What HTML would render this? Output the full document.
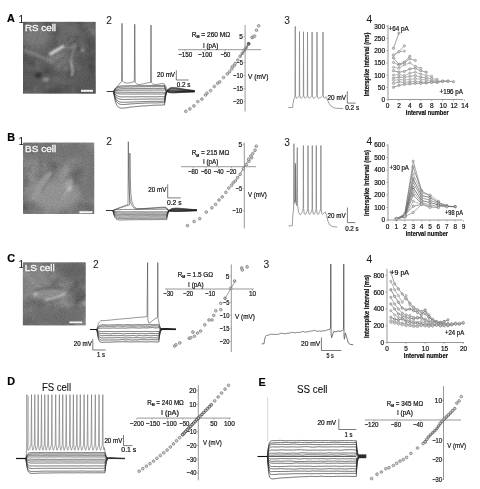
<!DOCTYPE html>
<html><head><meta charset="utf-8"><title>Figure</title>
<style>html,body{margin:0;padding:0;background:#fff;}svg{display:block;filter:blur(0.3px);}</style></head>
<body>
<svg width="480" height="489" viewBox="0 0 480 489" font-family="'Liberation Sans', Arial, sans-serif">
<defs>
<filter id="blur3" color-interpolation-filters="sRGB" x="-50%" y="-50%" width="200%" height="200%"><feGaussianBlur stdDeviation="3.5"/></filter>
<filter id="blur1" color-interpolation-filters="sRGB" x="-20%" y="-20%" width="140%" height="140%"><feGaussianBlur stdDeviation="0.95"/></filter>
<filter id="grain3" color-interpolation-filters="sRGB" x="0" y="0" width="100%" height="100%"><feTurbulence type="fractalNoise" baseFrequency="0.9" numOctaves="2" seed="3"/><feColorMatrix type="matrix" values="0.33 0.33 0.33 0 0 0.33 0.33 0.33 0 0 0.33 0.33 0.33 0 0 0 0 0 0 1"/></filter>
<filter id="mottle3" color-interpolation-filters="sRGB" x="0" y="0" width="100%" height="100%"><feTurbulence type="fractalNoise" baseFrequency="0.07" numOctaves="3" seed="13"/><feColorMatrix type="matrix" values="0.33 0.33 0.33 0 0 0.33 0.33 0.33 0 0 0.33 0.33 0.33 0 0 0 0 0 0 1"/></filter>
<filter id="grain4" color-interpolation-filters="sRGB" x="0" y="0" width="100%" height="100%"><feTurbulence type="fractalNoise" baseFrequency="0.9" numOctaves="2" seed="4"/><feColorMatrix type="matrix" values="0.33 0.33 0.33 0 0 0.33 0.33 0.33 0 0 0.33 0.33 0.33 0 0 0 0 0 0 1"/></filter>
<filter id="mottle4" color-interpolation-filters="sRGB" x="0" y="0" width="100%" height="100%"><feTurbulence type="fractalNoise" baseFrequency="0.07" numOctaves="3" seed="14"/><feColorMatrix type="matrix" values="0.33 0.33 0.33 0 0 0.33 0.33 0.33 0 0 0.33 0.33 0.33 0 0 0 0 0 0 1"/></filter>
<filter id="grain5" color-interpolation-filters="sRGB" x="0" y="0" width="100%" height="100%"><feTurbulence type="fractalNoise" baseFrequency="0.9" numOctaves="2" seed="5"/><feColorMatrix type="matrix" values="0.33 0.33 0.33 0 0 0.33 0.33 0.33 0 0 0.33 0.33 0.33 0 0 0 0 0 0 1"/></filter>
<filter id="mottle5" color-interpolation-filters="sRGB" x="0" y="0" width="100%" height="100%"><feTurbulence type="fractalNoise" baseFrequency="0.07" numOctaves="3" seed="15"/><feColorMatrix type="matrix" values="0.33 0.33 0.33 0 0 0.33 0.33 0.33 0 0 0.33 0.33 0.33 0 0 0 0 0 0 1"/></filter>
</defs>
<rect x="0" y="0" width="480" height="489" fill="#fff"/>
<text x="7" y="22.2" font-size="10.8" fill="#000" stroke="#000" stroke-width="0.2" font-weight="bold">A</text>
<text x="7.3" y="140.6" font-size="10.8" fill="#000" stroke="#000" stroke-width="0.2" font-weight="bold">B</text>
<text x="7.3" y="261.9" font-size="10.8" fill="#000" stroke="#000" stroke-width="0.2" font-weight="bold">C</text>
<text x="7.2" y="385.3" font-size="10.8" fill="#000" stroke="#000" stroke-width="0.2" font-weight="bold">D</text>
<text x="258.6" y="385.5" font-size="10.8" fill="#000" stroke="#000" stroke-width="0.2" font-weight="bold">E</text>
<text x="18.6" y="23.2" font-size="10.2" fill="#1a1a1a" stroke="#1a1a1a" stroke-width="0.05">1</text>
<text x="106.3" y="24.2" font-size="10.2" fill="#1a1a1a" stroke="#1a1a1a" stroke-width="0.05">2</text>
<text x="284.2" y="23.6" font-size="10.2" fill="#1a1a1a" stroke="#1a1a1a" stroke-width="0.05">3</text>
<text x="366.4" y="23.3" font-size="10.2" fill="#1a1a1a" stroke="#1a1a1a" stroke-width="0.05">4</text>
<text x="18.6" y="144.8" font-size="10.2" fill="#1a1a1a" stroke="#1a1a1a" stroke-width="0.05">1</text>
<text x="106.3" y="145.3" font-size="10.2" fill="#1a1a1a" stroke="#1a1a1a" stroke-width="0.05">2</text>
<text x="284.2" y="145.6" font-size="10.2" fill="#1a1a1a" stroke="#1a1a1a" stroke-width="0.05">3</text>
<text x="366.4" y="145.1" font-size="10.2" fill="#1a1a1a" stroke="#1a1a1a" stroke-width="0.05">4</text>
<text x="18.4" y="268.2" font-size="10.2" fill="#1a1a1a" stroke="#1a1a1a" stroke-width="0.05">1</text>
<text x="92.9" y="268.4" font-size="10.2" fill="#1a1a1a" stroke="#1a1a1a" stroke-width="0.05">2</text>
<text x="263.5" y="268.4" font-size="10.2" fill="#1a1a1a" stroke="#1a1a1a" stroke-width="0.05">3</text>
<text x="366.4" y="263" font-size="10.2" fill="#1a1a1a" stroke="#1a1a1a" stroke-width="0.05">4</text>
<clipPath id="ca"><rect x="23" y="21.7" width="72.8" height="72.1"/></clipPath>
<g clip-path="url(#ca)" style="isolation:isolate">
<rect x="23" y="21.7" width="72.8" height="72.1" fill="#5a5a5a"/>
<rect x="23" y="21.7" width="72.8" height="72.1" filter="url(#mottle3)" opacity="0.5" style="mix-blend-mode:overlay"/>
<g filter="url(#blur3)">
<ellipse cx="36" cy="36" rx="16" ry="13" fill="#787878"/>
<ellipse cx="58" cy="58" rx="12" ry="11" fill="#767676"/>
<ellipse cx="70" cy="30" rx="12" ry="7" fill="#6e6e6e"/>
<ellipse cx="90" cy="86" rx="12" ry="10" fill="#585858"/>
<ellipse cx="40" cy="80" rx="12" ry="8" fill="#5c5c5c"/>
</g>
<g filter="url(#blur1)">
<path d="M24,50 Q40,56 53,62" stroke="#7c7c7c" stroke-width="3.5" fill="none"/>
<path d="M50,58 Q57,67 67,69" stroke="#7a7a7a" stroke-width="3" fill="none"/>
<line x1="50.4" y1="53.9" x2="63.3" y2="46.3" stroke="#e0e0e0" stroke-width="2.6" stroke-linecap="round"/>
<path d="M76,44 C73.5,49 71.5,55 71.3,61" stroke="#9c9c9c" stroke-width="1.4" fill="none"/>
<path d="M71.3,61 C71.2,66 73.2,69 72.6,73 L71.4,76" stroke="#c4c4c4" stroke-width="1.5" fill="none"/>
<path d="M50.4,68.3 L65,55.8" stroke="#5a5a5a" stroke-width="1.2" fill="none"/>
<path d="M47.8,60.5 L64,55.3" stroke="#8c8c8c" stroke-width="1.2" fill="none"/>
<ellipse cx="62.4" cy="67.3" rx="1.3" ry="1.1" fill="#4a4a4a"/>
<path d="M64,47 Q70,50 75,44" stroke="#8c8c8c" stroke-width="1.3" fill="none"/>
<path d="M66,45 Q70,40 74,38" stroke="#858585" stroke-width="1.2" fill="none"/>
<ellipse cx="38.2" cy="75.2" rx="3.6" ry="3" fill="#363636"/>
<path d="M41,74 Q46,70 50,72" stroke="#444" stroke-width="1.4" fill="none"/>
<ellipse cx="78.5" cy="49.4" rx="2.0" ry="1.4" fill="#444"/>
<ellipse cx="82.3" cy="50.1" rx="1.6" ry="1.2" fill="#b4b4b4"/>
<ellipse cx="46" cy="79.5" rx="3.5" ry="2" fill="#8e8e8e"/>
</g>
<rect x="23" y="21.7" width="72.8" height="72.1" filter="url(#grain3)" opacity="0.3" style="mix-blend-mode:overlay"/>
</g>
<text x="25" y="30.7" font-size="9.8" fill="#f6f6f6" stroke="#f6f6f6" stroke-width="0.35" textLength="31" lengthAdjust="spacingAndGlyphs">RS cell</text>
<rect x="81" y="89.8" width="12" height="2" fill="#f4f4f4"/>
<clipPath id="cb"><rect x="23" y="142.5" width="71.3" height="71.5"/></clipPath>
<g clip-path="url(#cb)" style="isolation:isolate">
<rect x="23" y="142.5" width="71.3" height="71.5" fill="#7c7c7c"/>
<rect x="23" y="142.5" width="71.3" height="71.5" filter="url(#mottle4)" opacity="0.5" style="mix-blend-mode:overlay"/>
<g filter="url(#blur3)">
<ellipse cx="55" cy="195" rx="26" ry="16" fill="#929292"/>
<ellipse cx="55" cy="150" rx="40" ry="8" fill="#747474"/>
<ellipse cx="92" cy="175" rx="8" ry="25" fill="#767676"/>
</g>
<g filter="url(#blur1)">
<ellipse cx="42" cy="186" rx="4.5" ry="17" fill="#989898" transform="rotate(33 42 186)"/>
<line x1="41" y1="193" x2="55" y2="171" stroke="#747474" stroke-width="1.4"/>
<ellipse cx="66" cy="189" rx="4" ry="12" fill="#9e9e9e" transform="rotate(30 66 189)"/>
<ellipse cx="69.5" cy="188.5" rx="2" ry="3.5" fill="#bababa" transform="rotate(30 69.5 188.5)"/>
<line x1="59" y1="199" x2="65" y2="188" stroke="#787878" stroke-width="1.2"/>
</g>
<rect x="23" y="142.5" width="71.3" height="71.5" filter="url(#grain4)" opacity="0.3" style="mix-blend-mode:overlay"/>
</g>
<text x="25" y="151.5" font-size="9.8" fill="#f6f6f6" stroke="#f6f6f6" stroke-width="0.35" textLength="31.2" lengthAdjust="spacingAndGlyphs">BS cell</text>
<rect x="79.4" y="211.2" width="13.1" height="2" fill="#f4f4f4"/>
<clipPath id="cc"><rect x="22.8" y="262.3" width="63" height="63.2"/></clipPath>
<g clip-path="url(#cc)" style="isolation:isolate">
<rect x="22.8" y="262.3" width="63" height="63.2" fill="#767676"/>
<rect x="22.8" y="262.3" width="63" height="63.2" filter="url(#mottle5)" opacity="0.5" style="mix-blend-mode:overlay"/>
<g filter="url(#blur3)">
<ellipse cx="36" cy="280" rx="14" ry="16" fill="#868686"/>
<ellipse cx="74" cy="271" rx="15" ry="10" fill="#646464"/>
<ellipse cx="55" cy="318" rx="28" ry="8" fill="#6c6c6c"/>
</g>
<g filter="url(#blur1)">
<path d="M24,272 L44,292" stroke="#8e8e8e" stroke-width="4" fill="none"/>
<path d="M28,266 L50,285" stroke="#868686" stroke-width="3" fill="none"/>
<ellipse cx="50" cy="294" rx="16" ry="4.8" fill="#8e8e8e" transform="rotate(-4 50 294)"/>
<path d="M35,290 Q50,286.5 63,288.5" stroke="#5e5e5e" stroke-width="1.4" fill="none"/>
<path d="M45,300 Q57,299 65.5,293" stroke="#d6d6d6" stroke-width="1.5" fill="none"/>
<ellipse cx="35.5" cy="294" rx="2.6" ry="1.8" fill="#bdbdbd"/>
<path d="M75,302.5 L86,295" stroke="#505050" stroke-width="2.6" fill="none"/>
<ellipse cx="84.7" cy="303.3" rx="1.5" ry="2" fill="#b0b0b0"/>
</g>
<rect x="22.8" y="262.3" width="63" height="63.2" filter="url(#grain5)" opacity="0.3" style="mix-blend-mode:overlay"/>
</g>
<text x="24.8" y="271.3" font-size="9.8" fill="#f6f6f6" stroke="#f6f6f6" stroke-width="0.35" textLength="30" lengthAdjust="spacingAndGlyphs">LS cell</text>
<rect x="69.4" y="321.5" width="12.9" height="1.7" fill="#f4f4f4"/>
<polyline points="107,91.5 113.6,91.5 113.9,91.59 114.2,91.66 114.5,91.73 114.8,91.77 115.1,91.82 115.4,91.89 115.7,91.91 116,91.95 116.3,91.99 116.6,92.06 116.9,92.11 117.2,92.13 117.5,92.16 117.8,92.18 118.3,92.23 118.8,92.24 119.3,92.21 119.8,92.21 120.3,92.21 120.8,92.21 121.3,92.23 121.8,92.22 122.3,92.24 122.8,92.26 123.3,92.28 123.8,92.27 124.3,92.24 124.8,92.24 125.3,92.25 125.8,92.24 126.3,92.23 126.8,92.24 127.3,92.26 127.8,92.27 128.3,92.3 128.8,92.3 129.3,92.29 129.8,92.31 130.3,92.3 130.8,92.33 131.3,92.35 131.8,92.32 132.3,92.34 132.8,92.33 133.3,92.32 133.8,92.33 134.3,92.3 134.8,92.28 135.3,92.27 135.8,92.26 136.3,92.29 136.8,92.3 137.3,92.3 137.8,92.31 138.3,92.32 138.8,92.35 139.3,92.35 139.8,92.33 140.3,92.34 140.8,92.35 141.3,92.36 141.8,92.35 142.3,92.33 142.8,92.33 143.3,92.34 143.8,92.35 144.3,92.34 144.8,92.33 145.3,92.32 145.8,92.35 146.3,92.32 146.8,92.31 147.3,92.26 147.8,92.23 148.3,92.22 148.8,92.24 149.3,92.21 149.8,92.22 150.3,92.22 150.8,92.25 151.3,92.25 151.8,92.27 152.3,92.26 152.8,92.3 153.3,92.33 153.8,92.35 154.3,92.32 154.8,92.34 155.3,92.33 155.8,92.35 156.3,92.36 156.8,92.32 157.3,92.29 157.8,92.28 158.3,92.27 158.8,92.28 159.3,92.27 159.8,92.23 160.3,92.22 160.8,92.23 161.3,92.24 161.8,92.26 162.3,92.28 162.8,92.29 163.3,92.3 163.8,92.33 164.3,92.35 164.6,92.33 164.9,92.12 165.2,91.97 165.5,91.85 165.8,91.75 166.1,91.67 166.4,91.6 166.7,91.54 167,91.49 167.3,91.45 167.6,91.41 167.9,91.39 168.2,91.36 168.5,91.34 168.8,91.32 169.3,91.3 169.8,91.28 170.3,91.27 170.8,91.26 171.3,91.25 171.8,91.25 172.3,91.25 172.8,91.25 173.3,91.25 173.8,91.25 174.3,91.25 174.8,91.25 175.3,91.26 175.8,91.26 176.3,91.26 176.8,91.27 177.3,91.27 177.8,91.28 178.3,91.29 178.8,91.29 179.3,91.3 179.8,91.3 180.3,91.31 180.8,91.31 181.3,91.32 181.8,91.33 182.3,91.33 182.8,91.34 183.3,91.34 183.8,91.35 184.3,91.35 184.8,91.36 185.3,91.36 185.8,91.37 186.3,91.37 186.8,91.38 187.3,91.38 187.8,91.39 188.3,91.39 188.8,91.4 189.3,91.4 189.8,91.41 190.3,91.41 190.8,91.41 191.3,91.42 191.8,91.42 192.3,91.42 192.8,91.43 193.3,91.43 193.8,91.43 194.3,91.44 194.5,91.44" stroke="#262626" stroke-width="0.68" fill="none"/>
<polyline points="107,91.5 113.6,91.5 113.9,91.81 114.2,92.08 114.5,92.31 114.8,92.51 115.1,92.68 115.4,92.84 115.7,92.99 116,93.13 116.3,93.26 116.6,93.39 116.9,93.47 117.2,93.54 117.5,93.61 117.8,93.67 118.3,93.76 118.8,93.82 119.3,93.84 119.8,93.92 120.3,93.94 120.8,93.96 121.3,93.99 121.8,93.99 122.3,94 122.8,94.05 123.3,94.05 123.8,94.05 124.3,94.02 124.8,93.98 125.3,94.01 125.8,94.03 126.3,93.99 126.8,94 127.3,94.04 127.8,94.07 128.3,94.08 128.8,94.06 129.3,94.03 129.8,94.02 130.3,94.03 130.8,94.01 131.3,94 131.8,94.03 132.3,94.02 132.8,94.06 133.3,94.1 133.8,94.06 134.3,94.04 134.8,94.03 135.3,93.99 135.8,94 136.3,93.96 136.8,93.94 137.3,93.94 137.8,93.97 138.3,93.97 138.8,93.98 139.3,93.98 139.8,94.01 140.3,94.01 140.8,94.05 141.3,94.03 141.8,94.04 142.3,94.04 142.8,94.01 143.3,93.99 143.8,93.97 144.3,93.93 144.8,93.94 145.3,93.92 145.8,93.92 146.3,93.95 146.8,93.96 147.3,93.97 147.8,93.99 148.3,93.98 148.8,94.01 149.3,93.99 149.8,93.98 150.3,93.97 150.8,93.96 151.3,93.98 151.8,93.97 152.3,93.96 152.8,93.99 153.3,94.01 153.8,94.02 154.3,94.04 154.8,94.02 155.3,94.02 155.8,94.03 156.3,94.01 156.8,93.99 157.3,94 157.8,94.01 158.3,94.02 158.8,94.04 159.3,94.05 159.8,94.04 160.3,94.04 160.8,94.07 161.3,94.06 161.8,94.03 162.3,93.99 162.8,93.97 163.3,93.96 163.8,93.94 164.3,93.9 164.6,93.89 164.9,93.42 165.2,92.96 165.5,92.59 165.8,92.27 166.1,92.01 166.4,91.8 166.7,91.62 167,91.47 167.3,91.34 167.6,91.24 167.9,91.15 168.2,91.07 168.5,91.01 168.8,90.96 169.3,90.89 169.8,90.83 170.3,90.79 170.8,90.76 171.3,90.74 171.8,90.73 172.3,90.72 172.8,90.72 173.3,90.72 173.8,90.72 174.3,90.73 174.8,90.74 175.3,90.75 175.8,90.76 176.3,90.77 176.8,90.79 177.3,90.8 177.8,90.82 178.3,90.84 178.8,90.85 179.3,90.87 179.8,90.89 180.3,90.91 180.8,90.93 181.3,90.94 181.8,90.96 182.3,90.98 182.8,91 183.3,91.02 183.8,91.03 184.3,91.05 184.8,91.07 185.3,91.08 185.8,91.1 186.3,91.11 186.8,91.13 187.3,91.14 187.8,91.16 188.3,91.17 188.8,91.18 189.3,91.2 189.8,91.21 190.3,91.22 190.8,91.23 191.3,91.25 191.8,91.26 192.3,91.27 192.8,91.28 193.3,91.29 193.8,91.3 194.3,91.31 194.5,91.31" stroke="#262626" stroke-width="0.68" fill="none"/>
<polyline points="107,91.5 113.6,91.5 113.9,92.16 114.2,92.74 114.5,93.26 114.8,93.7 115.1,94.09 115.4,94.41 115.7,94.73 116,94.99 116.3,95.22 116.6,95.43 116.9,95.66 117.2,95.82 117.5,96 117.8,96.11 118.3,96.28 118.8,96.45 119.3,96.56 119.8,96.62 120.3,96.72 120.8,96.79 121.3,96.83 121.8,96.88 122.3,96.9 122.8,96.93 123.3,96.94 123.8,96.93 124.3,96.89 124.8,96.88 125.3,96.85 125.8,96.85 126.3,96.83 126.8,96.81 127.3,96.8 127.8,96.84 128.3,96.87 128.8,96.9 129.3,96.87 129.8,96.86 130.3,96.87 130.8,96.88 131.3,96.84 131.8,96.82 132.3,96.79 132.8,96.82 133.3,96.85 133.8,96.86 134.3,96.85 134.8,96.88 135.3,96.87 135.8,96.87 136.3,96.82 136.8,96.79 137.3,96.78 137.8,96.79 138.3,96.74 138.8,96.75 139.3,96.73 139.8,96.74 140.3,96.72 140.8,96.71 141.3,96.69 141.8,96.67 142.3,96.66 142.8,96.67 143.3,96.68 143.8,96.7 144.3,96.72 144.8,96.75 145.3,96.78 145.8,96.81 146.3,96.81 146.8,96.8 147.3,96.82 147.8,96.78 148.3,96.78 148.8,96.78 149.3,96.73 149.8,96.75 150.3,96.78 150.8,96.76 151.3,96.79 151.8,96.79 152.3,96.76 152.8,96.79 153.3,96.77 153.8,96.76 154.3,96.77 154.8,96.77 155.3,96.76 155.8,96.8 156.3,96.8 156.8,96.81 157.3,96.78 157.8,96.74 158.3,96.7 158.8,96.69 159.3,96.65 159.8,96.65 160.3,96.65 160.8,96.66 161.3,96.69 161.8,96.72 162.3,96.73 162.8,96.72 163.3,96.72 163.8,96.73 164.3,96.72 164.6,96.71 164.9,95.53 165.2,94.58 165.5,93.78 165.8,93.13 166.1,92.58 166.4,92.13 166.7,91.75 167,91.44 167.3,91.18 167.6,90.95 167.9,90.77 168.2,90.61 168.5,90.48 168.8,90.37 169.3,90.22 169.8,90.1 170.3,90.02 170.8,89.96 171.3,89.92 171.8,89.89 172.3,89.87 172.8,89.86 173.3,89.87 173.8,89.87 174.3,89.89 174.8,89.9 175.3,89.93 175.8,89.95 176.3,89.98 176.8,90.01 177.3,90.04 177.8,90.08 178.3,90.11 178.8,90.15 179.3,90.19 179.8,90.22 180.3,90.26 180.8,90.3 181.3,90.34 181.8,90.38 182.3,90.41 182.8,90.45 183.3,90.49 183.8,90.52 184.3,90.56 184.8,90.59 185.3,90.63 185.8,90.66 186.3,90.69 186.8,90.72 187.3,90.75 187.8,90.78 188.3,90.81 188.8,90.84 189.3,90.87 189.8,90.89 190.3,90.92 190.8,90.94 191.3,90.97 191.8,90.99 192.3,91.01 192.8,91.03 193.3,91.05 193.8,91.07 194.3,91.09 194.5,91.1" stroke="#262626" stroke-width="0.68" fill="none"/>
<polyline points="107,91.5 113.6,91.5 113.9,92.5 114.2,93.39 114.5,94.16 114.8,94.83 115.1,95.44 115.4,95.96 115.7,96.41 116,96.8 116.3,97.15 116.6,97.44 116.9,97.69 117.2,97.92 117.5,98.11 117.8,98.32 118.3,98.57 118.8,98.77 119.3,98.95 119.8,99.08 120.3,99.15 120.8,99.26 121.3,99.32 121.8,99.39 122.3,99.44 122.8,99.49 123.3,99.54 123.8,99.56 124.3,99.55 124.8,99.51 125.3,99.51 125.8,99.49 126.3,99.48 126.8,99.46 127.3,99.44 127.8,99.39 128.3,99.43 128.8,99.39 129.3,99.38 129.8,99.35 130.3,99.32 130.8,99.33 131.3,99.37 131.8,99.33 132.3,99.34 132.8,99.32 133.3,99.32 133.8,99.32 134.3,99.28 134.8,99.23 135.3,99.22 135.8,99.22 136.3,99.22 136.8,99.2 137.3,99.21 137.8,99.25 138.3,99.26 138.8,99.24 139.3,99.2 139.8,99.17 140.3,99.17 140.8,99.12 141.3,99.07 141.8,99.06 142.3,99.07 142.8,99.1 143.3,99.13 143.8,99.13 144.3,99.14 144.8,99.15 145.3,99.15 145.8,99.13 146.3,99.08 146.8,99.05 147.3,99.08 147.8,99.06 148.3,99.05 148.8,99.06 149.3,99.08 149.8,99.08 150.3,99.08 150.8,99.04 151.3,99.05 151.8,99.04 152.3,99.05 152.8,99.05 153.3,99.08 153.8,99.06 154.3,99.05 154.8,99.06 155.3,99.08 155.8,99.05 156.3,99.03 156.8,98.99 157.3,99 157.8,99.04 158.3,99.05 158.8,99.04 159.3,99.06 159.8,99.04 160.3,99.05 160.8,99.03 161.3,99.01 161.8,99 162.3,99 162.8,98.99 163.3,99 163.8,99.04 164.3,99.05 164.6,99.05 164.9,97.31 165.2,95.93 165.5,94.79 165.8,93.85 166.1,93.06 166.4,92.41 166.7,91.87 167,91.42 167.3,91.04 167.6,90.72 167.9,90.45 168.2,90.23 168.5,90.04 168.8,89.87 169.3,89.66 169.8,89.5 170.3,89.38 170.8,89.29 171.3,89.23 171.8,89.19 172.3,89.17 172.8,89.15 173.3,89.16 173.8,89.17 174.3,89.19 174.8,89.21 175.3,89.24 175.8,89.28 176.3,89.32 176.8,89.37 177.3,89.41 177.8,89.46 178.3,89.51 178.8,89.56 179.3,89.62 179.8,89.67 180.3,89.73 180.8,89.78 181.3,89.83 181.8,89.89 182.3,89.94 182.8,90 183.3,90.05 183.8,90.1 184.3,90.15 184.8,90.2 185.3,90.25 185.8,90.3 186.3,90.34 186.8,90.39 187.3,90.43 187.8,90.47 188.3,90.51 188.8,90.55 189.3,90.59 189.8,90.63 190.3,90.67 190.8,90.7 191.3,90.74 191.8,90.77 192.3,90.8 192.8,90.83 193.3,90.86 193.8,90.89 194.3,90.92 194.5,90.93" stroke="#262626" stroke-width="0.68" fill="none"/>
<polyline points="107,91.5 113.6,91.5 113.9,92.91 114.2,94.14 114.5,95.22 114.8,96.16 115.1,96.98 115.4,97.68 115.7,98.32 116,98.87 116.3,99.32 116.6,99.7 116.9,100.08 117.2,100.38 117.5,100.69 117.8,100.92 118.3,101.29 118.8,101.55 119.3,101.78 119.8,101.96 120.3,102.11 120.8,102.17 121.3,102.23 121.8,102.25 122.3,102.29 122.8,102.34 123.3,102.31 123.8,102.29 124.3,102.31 124.8,102.3 125.3,102.28 125.8,102.29 126.3,102.26 126.8,102.23 127.3,102.19 127.8,102.13 128.3,102.15 128.8,102.12 129.3,102.09 129.8,102.07 130.3,102.06 130.8,102.05 131.3,102.07 131.8,102.04 132.3,102.01 132.8,101.99 133.3,101.94 133.8,101.91 134.3,101.88 134.8,101.85 135.3,101.84 135.8,101.84 136.3,101.83 136.8,101.8 137.3,101.78 137.8,101.79 138.3,101.78 138.8,101.76 139.3,101.73 139.8,101.68 140.3,101.69 140.8,101.68 141.3,101.69 141.8,101.64 142.3,101.62 142.8,101.62 143.3,101.64 143.8,101.64 144.3,101.63 144.8,101.59 145.3,101.58 145.8,101.55 146.3,101.54 146.8,101.49 147.3,101.45 147.8,101.45 148.3,101.43 148.8,101.41 149.3,101.38 149.8,101.36 150.3,101.36 150.8,101.39 151.3,101.39 151.8,101.42 152.3,101.42 152.8,101.42 153.3,101.38 153.8,101.38 154.3,101.36 154.8,101.33 155.3,101.29 155.8,101.29 156.3,101.31 156.8,101.33 157.3,101.34 157.8,101.34 158.3,101.34 158.8,101.33 159.3,101.34 159.8,101.32 160.3,101.31 160.8,101.29 161.3,101.27 161.8,101.24 162.3,101.25 162.8,101.21 163.3,101.2 163.8,101.21 164.3,101.22 164.6,101.19 164.9,99.06 165.2,97.26 165.5,95.78 165.8,94.56 166.1,93.54 166.4,92.7 166.7,92 167,91.41 167.3,90.91 167.6,90.5 167.9,90.15 168.2,89.86 168.5,89.61 168.8,89.4 169.3,89.13 169.8,88.92 170.3,88.76 170.8,88.65 171.3,88.57 171.8,88.52 172.3,88.49 172.8,88.47 173.3,88.47 173.8,88.49 174.3,88.51 174.8,88.55 175.3,88.59 175.8,88.64 176.3,88.69 176.8,88.74 177.3,88.81 177.8,88.87 178.3,88.93 178.8,89 179.3,89.07 179.8,89.14 180.3,89.21 180.8,89.28 181.3,89.35 181.8,89.42 182.3,89.49 182.8,89.56 183.3,89.62 183.8,89.69 184.3,89.76 184.8,89.82 185.3,89.88 185.8,89.94 186.3,90 186.8,90.06 187.3,90.12 187.8,90.17 188.3,90.23 188.8,90.28 189.3,90.33 189.8,90.38 190.3,90.43 190.8,90.47 191.3,90.52 191.8,90.56 192.3,90.6 192.8,90.64 193.3,90.68 193.8,90.71 194.3,90.75 194.5,90.76" stroke="#262626" stroke-width="0.68" fill="none"/>
<polyline points="107,91.5 113.6,91.5 113.9,93.21 114.2,94.72 114.5,96.03 114.8,97.19 115.1,98.17 115.4,99.05 115.7,99.82 116,100.51 116.3,101.07 116.6,101.56 116.9,101.98 117.2,102.4 117.5,102.7 117.8,103 118.3,103.4 118.8,103.75 119.3,103.97 119.8,104.13 120.3,104.26 120.8,104.4 121.3,104.46 121.8,104.46 122.3,104.48 122.8,104.5 123.3,104.53 123.8,104.5 124.3,104.47 124.8,104.43 125.3,104.44 125.8,104.37 126.3,104.34 126.8,104.3 127.3,104.27 127.8,104.2 128.3,104.16 128.8,104.1 129.3,104.07 129.8,104.03 130.3,103.96 130.8,103.89 131.3,103.88 131.8,103.88 132.3,103.82 132.8,103.79 133.3,103.77 133.8,103.73 134.3,103.73 134.8,103.67 135.3,103.62 135.8,103.61 136.3,103.59 136.8,103.53 137.3,103.52 137.8,103.48 138.3,103.47 138.8,103.45 139.3,103.41 139.8,103.38 140.3,103.34 140.8,103.32 141.3,103.29 141.8,103.26 142.3,103.24 142.8,103.24 143.3,103.22 143.8,103.2 144.3,103.18 144.8,103.14 145.3,103.11 145.8,103.08 146.3,103.02 146.8,103 147.3,103 147.8,102.96 148.3,102.97 148.8,102.95 149.3,102.95 149.8,102.97 150.3,102.96 150.8,102.92 151.3,102.93 151.8,102.9 152.3,102.93 152.8,102.89 153.3,102.88 153.8,102.89 154.3,102.91 154.8,102.92 155.3,102.9 155.8,102.89 156.3,102.89 156.8,102.89 157.3,102.87 157.8,102.83 158.3,102.82 158.8,102.85 159.3,102.79 159.8,102.78 160.3,102.76 160.8,102.71 161.3,102.74 161.8,102.7 162.3,102.69 162.8,102.68 163.3,102.68 163.8,102.68 164.3,102.68 164.6,102.64 164.9,100.17 165.2,98.11 165.5,96.42 165.8,95.02 166.1,93.85 166.4,92.89 166.7,92.08 167,91.41 167.3,90.85 167.6,90.37 167.9,89.98 168.2,89.64 168.5,89.36 168.8,89.12 169.3,88.8 169.8,88.57 170.3,88.39 170.8,88.26 171.3,88.17 171.8,88.11 172.3,88.07 172.8,88.06 173.3,88.06 173.8,88.07 174.3,88.1 174.8,88.14 175.3,88.19 175.8,88.24 176.3,88.3 176.8,88.37 177.3,88.43 177.8,88.51 178.3,88.58 178.8,88.66 179.3,88.74 179.8,88.81 180.3,88.89 180.8,88.97 181.3,89.05 181.8,89.13 182.3,89.21 182.8,89.29 183.3,89.37 183.8,89.44 184.3,89.52 184.8,89.59 185.3,89.66 185.8,89.73 186.3,89.8 186.8,89.86 187.3,89.93 187.8,89.99 188.3,90.05 188.8,90.11 189.3,90.17 189.8,90.22 190.3,90.28 190.8,90.33 191.3,90.38 191.8,90.43 192.3,90.47 192.8,90.52 193.3,90.56 193.8,90.6 194.3,90.64 194.5,90.66" stroke="#262626" stroke-width="0.68" fill="none"/>
<polyline points="107,91.5 113.6,91.5 113.9,93.77 114.2,95.74 114.5,97.48 114.8,99 115.1,100.31 115.4,101.47 115.7,102.46 116,103.32 116.3,104.07 116.6,104.68 116.9,105.21 117.2,105.72 117.5,106.09 117.8,106.47 118.3,106.98 118.8,107.33 119.3,107.6 119.8,107.83 120.3,107.96 120.8,108.09 121.3,108.16 121.8,108.14 122.3,108.15 122.8,108.14 123.3,108.09 123.8,108.06 124.3,108.02 124.8,107.96 125.3,107.89 125.8,107.85 126.3,107.81 126.8,107.76 127.3,107.69 127.8,107.6 128.3,107.5 128.8,107.44 129.3,107.34 129.8,107.23 130.3,107.16 130.8,107.09 131.3,107.04 131.8,107.01 132.3,106.98 132.8,106.92 133.3,106.88 133.8,106.83 134.3,106.77 134.8,106.71 135.3,106.62 135.8,106.57 136.3,106.55 136.8,106.48 137.3,106.45 137.8,106.37 138.3,106.3 138.8,106.26 139.3,106.22 139.8,106.17 140.3,106.16 140.8,106.09 141.3,106.09 141.8,106.05 142.3,106.01 142.8,105.98 143.3,105.93 143.8,105.89 144.3,105.87 144.8,105.84 145.3,105.82 145.8,105.82 146.3,105.77 146.8,105.75 147.3,105.71 147.8,105.68 148.3,105.63 148.8,105.6 149.3,105.54 149.8,105.51 150.3,105.44 150.8,105.44 151.3,105.39 151.8,105.33 152.3,105.3 152.8,105.31 153.3,105.28 153.8,105.26 154.3,105.19 154.8,105.16 155.3,105.18 155.8,105.19 156.3,105.15 156.8,105.16 157.3,105.13 157.8,105.14 158.3,105.14 158.8,105.13 159.3,105.13 159.8,105.12 160.3,105.07 160.8,105.09 161.3,105.1 161.8,105.11 162.3,105.06 162.8,105.02 163.3,104.96 163.8,104.95 164.3,104.93 164.6,104.92 164.9,101.94 165.2,99.47 165.5,97.44 165.8,95.75 166.1,94.35 166.4,93.19 166.7,92.23 167,91.42 167.3,90.74 167.6,90.18 167.9,89.7 168.2,89.3 168.5,88.96 168.8,88.67 169.3,88.29 169.8,88.01 170.3,87.8 170.8,87.64 171.3,87.53 171.8,87.46 172.3,87.42 172.8,87.4 173.3,87.4 173.8,87.42 174.3,87.45 174.8,87.5 175.3,87.56 175.8,87.62 176.3,87.69 176.8,87.77 177.3,87.85 177.8,87.94 178.3,88.02 178.8,88.12 179.3,88.21 179.8,88.3 180.3,88.4 180.8,88.49 181.3,88.59 181.8,88.68 182.3,88.78 182.8,88.87 183.3,88.96 183.8,89.05 184.3,89.14 184.8,89.23 185.3,89.31 185.8,89.39 186.3,89.47 186.8,89.55 187.3,89.63 187.8,89.7 188.3,89.78 188.8,89.85 189.3,89.92 189.8,89.98 190.3,90.04 190.8,90.11 191.3,90.17 191.8,90.22 192.3,90.28 192.8,90.33 193.3,90.38 193.8,90.43 194.3,90.48 194.5,90.5" stroke="#262626" stroke-width="0.68" fill="none"/>
<polyline points="107,91.5 113.6,91.5 113.9,91.35 114.2,91.22 114.5,91.1 114.8,91 115.1,90.9 115.4,90.83 115.7,90.76 116,90.7 116.3,90.63 116.6,90.59 116.9,90.57 117.2,90.55 117.5,90.48 117.8,90.45 118.3,90.41 118.8,90.39 119.3,90.35 119.8,90.3 120.3,90.29 120.8,90.31 121.3,90.28 121.8,90.23 122.3,90.23 122.8,90.23 123.3,90.23 123.8,90.2 124.3,90.16 124.8,90.16 125.3,90.2 125.8,90.22 126.3,90.2 126.8,90.22 127.3,90.22 127.8,90.22 128.3,90.25 128.8,90.24 129.3,90.24 129.8,90.25 130.3,90.21 130.8,90.23 131.3,90.22 131.8,90.17 132.3,90.15 132.8,90.11 133.3,90.11 133.8,90.13 134.3,90.13 134.8,90.15 135.3,90.17 135.8,90.17 136.3,90.17 136.8,90.18 137.3,90.16 137.8,90.16 138.3,90.18 138.8,90.16 139.3,90.16 139.8,90.19 140.3,90.18 140.8,90.17 141.3,90.16 141.8,90.16 142.3,90.17 142.8,90.18 143.3,90.18 143.8,90.19 144.3,90.21 144.8,90.19 145.3,90.16 145.8,90.15 146.3,90.12 146.8,90.09 147.3,90.09 147.8,90.09 148.3,90.1 148.8,90.09 149.3,90.08 149.8,90.1 150.3,90.1 150.8,90.08 151.3,90.08 151.8,90.09 152.3,90.08 152.8,90.09 153.3,90.11 153.8,90.09 154.3,90.09 154.8,90.1 155.3,90.06 155.8,90.07 156.3,90.04 156.8,90.04 157.3,90.07 157.8,90.06 158.3,90.02 158.8,90.04 159.3,90.04 159.8,90.06 160.3,90.05 160.8,90.03 161.3,90.04 161.8,90.06 162.3,90.05 162.8,90.07 163.3,90.04 163.8,90.04 164.3,90.03 164.6,90.02 164.9,90.32 165.2,90.58 165.5,90.79 165.8,90.97 166.1,91.11 166.4,91.23 166.7,91.33 167,91.41 167.3,91.48 167.6,91.53 167.9,91.58 168.2,91.62 168.5,91.65 168.8,91.68 169.3,91.71 169.8,91.74 170.3,91.76 170.8,91.77 171.3,91.78 171.8,91.79 172.3,91.79 172.8,91.8 173.3,91.8 173.8,91.79 174.3,91.79 174.8,91.79 175.3,91.79 175.8,91.78 176.3,91.78 176.8,91.77 177.3,91.76 177.8,91.76 178.3,91.75 178.8,91.75 179.3,91.74 179.8,91.73 180.3,91.72 180.8,91.72 181.3,91.71 181.8,91.7 182.3,91.7 182.8,91.69 183.3,91.68 183.8,91.68 184.3,91.67 184.8,91.66 185.3,91.66 185.8,91.65 186.3,91.65 186.8,91.64 187.3,91.64 187.8,91.63 188.3,91.62 188.8,91.62 189.3,91.61 189.8,91.61 190.3,91.61 190.8,91.6 191.3,91.6 191.8,91.59 192.3,91.59 192.8,91.58 193.3,91.58 193.8,91.58 194.3,91.57 194.5,91.57" stroke="#262626" stroke-width="0.68" fill="none"/>
<polyline points="107,91.5 113.6,91.5 113.9,91.15 114.2,90.85 114.5,90.59 114.8,90.37 115.1,90.17 115.4,90.01 115.7,89.87 116,89.74 116.3,89.63 116.6,89.57 116.9,89.44 117.2,89.37 117.5,89.28 117.8,89.23 118.3,89.12 118.8,89.05 119.3,88.98 119.8,88.94 120.3,88.87 120.8,88.82 121.3,88.78 121.8,88.74 122.3,88.7 122.8,88.67 123.3,88.66 123.8,88.67 124.3,88.68 124.8,88.68 125.3,88.67 125.8,88.69 126.3,88.69 126.8,88.69 127.3,88.69 127.8,88.7 128.3,88.67 128.8,88.69 129.3,88.69 129.8,88.66 130.3,88.66 130.8,88.66 131.3,88.61 131.8,88.62 132.3,88.62 132.8,88.62 133.3,88.63 133.8,88.64 134.3,88.63 134.8,88.65 135.3,88.66 135.8,88.62 136.3,88.6 136.8,88.61 137.3,88.57 137.8,88.59 138.3,88.58 138.8,88.55 139.3,88.57 139.8,88.57 140.3,88.54 140.8,88.54 141.3,88.51 141.8,88.52 142.3,88.53 142.8,88.51 143.3,88.51 143.8,88.52 144.3,88.52 144.8,88.5 145.3,88.5 145.8,88.5 146.3,88.51 146.8,88.51 147.3,88.5 147.8,88.48 148.3,88.48 148.8,88.48 149.3,88.46 149.8,88.46 150.3,88.41 150.8,88.43 151.3,88.45 151.8,88.46 152.3,88.43 152.8,88.41 153.3,88.36 153.8,88.36 154.3,88.37 154.8,88.35 155.3,88.35 155.8,88.38 156.3,88.41 156.8,88.44 157.3,88.45 157.8,88.43 158.3,88.43 158.8,88.43 159.3,88.42 159.8,88.37 160.3,88.37 160.8,88.36 161.3,88.36 161.8,88.33 162.3,88.3 162.8,88.26 163.3,88.29 163.8,88.29 164.3,88.3 164.6,88.28 164.9,88.98 165.2,89.54 165.5,90 165.8,90.38 166.1,90.69 166.4,90.95 166.7,91.16 167,91.33 167.3,91.48 167.6,91.6 167.9,91.7 168.2,91.78 168.5,91.85 168.8,91.91 169.3,91.99 169.8,92.04 170.3,92.09 170.8,92.12 171.3,92.14 171.8,92.15 172.3,92.16 172.8,92.17 173.3,92.17 173.8,92.16 174.3,92.16 174.8,92.15 175.3,92.14 175.8,92.13 176.3,92.12 176.8,92.11 177.3,92.1 177.8,92.08 178.3,92.07 178.8,92.05 179.3,92.04 179.8,92.02 180.3,92.01 180.8,91.99 181.3,91.97 181.8,91.96 182.3,91.94 182.8,91.93 183.3,91.91 183.8,91.9 184.3,91.89 184.8,91.87 185.3,91.86 185.8,91.84 186.3,91.83 186.8,91.82 187.3,91.8 187.8,91.79 188.3,91.78 188.8,91.77 189.3,91.76 189.8,91.75 190.3,91.74 190.8,91.73 191.3,91.72 191.8,91.71 192.3,91.7 192.8,91.69 193.3,91.68 193.8,91.67 194.3,91.67 194.5,91.66" stroke="#262626" stroke-width="0.68" fill="none"/>
<polyline points="107,91.5 113.6,91.5 113.9,90.94 114.2,90.45 114.5,90.02 114.8,89.66 115.1,89.33 115.4,89.06 115.7,88.82 116,88.59 116.3,88.38 116.6,88.25 116.9,88.09 117.2,87.96 117.5,87.82 117.8,87.73 118.3,87.62 118.8,87.55 119.3,87.44 119.8,87.34 120.3,87.26 120.8,87.24 121.3,87.19 121.8,87.14 122.3,87.1 122.8,87.1 123.3,87.1 123.8,87.08 124.3,87.02 124.8,87 125.3,86.97 125.8,86.96 126.3,86.95 126.8,86.94 127.3,86.92 127.8,86.96 128.3,86.98 128.8,86.99 129.3,86.99 129.8,86.95 130.3,86.94 130.8,86.98 131.3,86.96 131.8,86.96 132.3,86.93 132.8,86.9 133.3,86.91 133.8,86.9 134.3,86.86 134.8,86.86 135.3,86.85 135.8,86.84 136.3,86.86 136.8,86.86 137.3,86.84 137.8,86.83 138.3,86.8 138.8,86.79 139.3,86.81 139.8,86.8 140.3,86.76 140.8,86.77 141.3,86.8 141.8,86.79 142.3,86.77 142.8,86.77 143.3,86.79 143.8,86.81 144.3,86.78 144.8,86.77 145.3,86.76 145.8,86.73 146.3,86.69 146.8,86.68 147.3,86.66 147.8,86.66 148.3,86.65 148.8,86.66 149.3,86.65 149.8,86.64 150.3,86.64 150.8,86.64 151.3,86.61 151.8,86.62 152.3,86.62 152.8,86.62 153.3,86.64 153.8,86.6 154.3,86.6 154.8,86.59 155.3,86.56 155.8,86.56 156.3,86.59 156.8,86.58 157.3,86.59 157.8,86.57 158.3,86.6 158.8,86.61 159.3,86.61 159.8,86.59 160.3,86.61 160.8,86.62 161.3,86.61 161.8,86.57 162.3,86.55 162.8,86.51 163.3,86.47 163.8,86.42 164.3,86.39 164.6,86.42 164.9,87.57 165.2,88.45 165.5,89.17 165.8,89.76 166.1,90.25 166.4,90.65 166.7,90.99 167,91.26 167.3,91.49 167.6,91.68 167.9,91.84 168.2,91.98 168.5,92.09 168.8,92.18 169.3,92.3 169.8,92.39 170.3,92.46 170.8,92.51 171.3,92.54 171.8,92.56 172.3,92.58 172.8,92.59 173.3,92.59 173.8,92.58 174.3,92.57 174.8,92.56 175.3,92.55 175.8,92.53 176.3,92.51 176.8,92.49 177.3,92.47 177.8,92.45 178.3,92.42 178.8,92.4 179.3,92.37 179.8,92.35 180.3,92.32 180.8,92.3 181.3,92.27 181.8,92.25 182.3,92.22 182.8,92.2 183.3,92.17 183.8,92.15 184.3,92.13 184.8,92.1 185.3,92.08 185.8,92.06 186.3,92.04 186.8,92.02 187.3,92 187.8,91.98 188.3,91.96 188.8,91.94 189.3,91.92 189.8,91.9 190.3,91.89 190.8,91.87 191.3,91.85 191.8,91.84 192.3,91.82 192.8,91.81 193.3,91.8 193.8,91.78 194.3,91.77 194.5,91.77" stroke="#262626" stroke-width="0.68" fill="none"/>
<polyline points="107,91.5 113.6,91.5 113.9,90.78 114.2,90.16 114.5,89.61 114.8,89.12 115.1,88.71 115.4,88.35 115.7,88.01 116,87.73 116.3,87.48 116.6,87.3 116.9,87.11 117.2,86.95 117.5,86.8 117.8,86.71 118.3,86.54 118.8,86.4 119.3,86.26 119.8,86.18 120.3,86.07 120.8,86.02 121.3,85.94 121.8,85.92 122.3,85.93 122.8,85.92 123.3,85.89 123.8,85.87 124.3,85.89 124.8,85.86 125.3,85.84 125.8,85.79 126.3,85.79 126.8,85.77 127.3,85.79 127.8,85.76 128.3,85.75 128.8,85.71 129.3,85.73 129.8,85.7 130.3,85.7 130.8,85.68 131.3,85.7 131.8,85.7 132.3,85.73 132.8,85.69 133.3,85.66 133.8,85.69 134.3,85.7 134.8,85.66 135.3,85.64 135.8,85.61 136.3,85.63 136.8,85.64 137.3,85.61 137.8,85.58 138.3,85.6 138.8,85.63 139.3,85.66 139.8,85.65 140.3,85.63 140.8,85.62 141.3,85.64 141.8,85.62 142.3,85.62 142.8,85.58 143.3,85.58 143.8,85.58 144.3,85.62 144.8,85.62 145.3,85.62 145.8,85.58 146.3,85.62 146.8,85.6 147.3,85.62 147.8,85.59 148.3,85.55 148.8,85.56 149.3,85.57 149.8,85.53 150.3,85.52 150.8,85.5 151.3,85.48 151.8,85.49 152.3,85.47 152.8,85.47 153.3,85.46 153.8,85.48 154.3,85.48 154.8,85.52 155.3,85.51 155.8,85.52 156.3,85.5 156.8,85.53 157.3,85.49 157.8,85.49 158.3,85.49 158.8,85.49 159.3,85.48 159.8,85.48 160.3,85.47 160.8,85.46 161.3,85.46 161.8,85.42 162.3,85.4 162.8,85.37 163.3,85.35 163.8,85.36 164.3,85.36 164.6,85.31 164.9,86.71 165.2,87.79 165.5,88.68 165.8,89.4 166.1,90 166.4,90.5 166.7,90.91 167,91.25 167.3,91.53 167.6,91.77 167.9,91.96 168.2,92.13 168.5,92.26 168.8,92.38 169.3,92.53 169.8,92.64 170.3,92.73 170.8,92.79 171.3,92.83 171.8,92.86 172.3,92.87 172.8,92.88 173.3,92.88 173.8,92.88 174.3,92.87 174.8,92.85 175.3,92.83 175.8,92.81 176.3,92.79 176.8,92.76 177.3,92.73 177.8,92.71 178.3,92.68 178.8,92.64 179.3,92.61 179.8,92.58 180.3,92.55 180.8,92.52 181.3,92.49 181.8,92.45 182.3,92.42 182.8,92.39 183.3,92.36 183.8,92.33 184.3,92.3 184.8,92.27 185.3,92.24 185.8,92.21 186.3,92.19 186.8,92.16 187.3,92.13 187.8,92.11 188.3,92.08 188.8,92.06 189.3,92.04 189.8,92.01 190.3,91.99 190.8,91.97 191.3,91.95 191.8,91.93 192.3,91.91 192.8,91.9 193.3,91.88 193.8,91.86 194.3,91.84 194.5,91.84" stroke="#262626" stroke-width="0.68" fill="none"/>
<polyline points="107,91.5 113.6,91.5 113.92,91 114.36,90.28 114.9,89.44 115.5,88.6 116.17,87.75 116.92,86.84 117.72,85.92 118.5,85 119.34,84.02 120.24,82.97 121.04,82.05 121.6,81.4 122,23.3 122.4,81.2 122.4,81.2 122.83,81.53 123.46,81.99 124.2,82.4 125.04,82.71 126,82.97 127,83.1 128,83.07 129.05,82.92 130.2,82.7 131.65,82.37 133.2,81.98 134.3,81.7 134.75,24.2 135.2,82.4 135.2,82.4 135.6,82.86 136.18,83.49 136.8,84 137.37,84.29 137.99,84.45 138.8,84.5 139.9,84.42 141.18,84.23 142.5,84 143.81,83.76 145.15,83.49 146.5,83.2 148.01,82.87 149.53,82.54 150.6,82.3 151,25 151.4,82.7 151.4,82.7 151.77,83.07 152.33,83.58 153,84 153.8,84.26 154.71,84.43 155.7,84.5 156.76,84.44 157.89,84.29 159,84.1 160.12,83.85 161.23,83.57 162.2,83.4 163.03,83.44 163.73,83.59 164.2,83.7 165.7,86.3 167,89.2 169,90.5 175,91.1 194.5,91.1" stroke="#262626" stroke-width="0.5" fill="none"/>
<polyline points="106.5,91.5 113.6,91.5" stroke="#444" stroke-width="0.6" fill="none"/>
<polyline points="175,91.8 194.5,91.4" stroke="#222" stroke-width="0.6" fill="none"/>
<line x1="176.3" y1="70.3" x2="176.3" y2="80" stroke="#222" stroke-width="0.6"/>
<line x1="176.3" y1="80" x2="188.7" y2="80" stroke="#222" stroke-width="0.6"/>
<text x="157" y="76.8" font-size="6.4" fill="#111" stroke="#111" stroke-width="0.2" textLength="18" lengthAdjust="spacingAndGlyphs">20 mV</text>
<text x="176.7" y="86.8" font-size="6.4" fill="#111" stroke="#111" stroke-width="0.2" textLength="13.6" lengthAdjust="spacingAndGlyphs">0.2 s</text>
<line x1="178" y1="49.7" x2="261" y2="49.7" stroke="#8c8c8c" stroke-width="0.9"/>
<line x1="245.1" y1="25" x2="245.1" y2="111.5" stroke="#8c8c8c" stroke-width="0.9"/>
<line x1="185" y1="49.7" x2="185" y2="51.3" stroke="#8c8c8c" stroke-width="0.6"/>
<text x="178.2" y="57.1" font-size="7" fill="#111" stroke="#111" stroke-width="0.2" textLength="14.2" lengthAdjust="spacingAndGlyphs">−150</text>
<line x1="205" y1="49.7" x2="205" y2="51.3" stroke="#8c8c8c" stroke-width="0.6"/>
<text x="198" y="57.1" font-size="7" fill="#111" stroke="#111" stroke-width="0.2" textLength="14.2" lengthAdjust="spacingAndGlyphs">−100</text>
<line x1="225" y1="49.7" x2="225" y2="51.3" stroke="#8c8c8c" stroke-width="0.6"/>
<text x="220.4" y="57.1" font-size="7" fill="#111" stroke="#111" stroke-width="0.2" textLength="10" lengthAdjust="spacingAndGlyphs">−50</text>
<line x1="243.5" y1="36.6" x2="245.1" y2="36.6" stroke="#8c8c8c" stroke-width="0.6"/>
<text x="242.9" y="39.1" font-size="7" fill="#111" stroke="#111" stroke-width="0.2" textLength="3.6" lengthAdjust="spacingAndGlyphs" text-anchor="end">5</text>
<line x1="243.5" y1="62.6" x2="245.1" y2="62.6" stroke="#8c8c8c" stroke-width="0.6"/>
<text x="242.9" y="65.1" font-size="7" fill="#111" stroke="#111" stroke-width="0.2" textLength="6.6" lengthAdjust="spacingAndGlyphs" text-anchor="end">−5</text>
<line x1="243.5" y1="75.5" x2="245.1" y2="75.5" stroke="#8c8c8c" stroke-width="0.6"/>
<text x="242.9" y="78" font-size="7" fill="#111" stroke="#111" stroke-width="0.2" textLength="9.8" lengthAdjust="spacingAndGlyphs" text-anchor="end">−10</text>
<line x1="243.5" y1="88.5" x2="245.1" y2="88.5" stroke="#8c8c8c" stroke-width="0.6"/>
<text x="242.9" y="91" font-size="7" fill="#111" stroke="#111" stroke-width="0.2" textLength="9.8" lengthAdjust="spacingAndGlyphs" text-anchor="end">−15</text>
<line x1="243.5" y1="101.4" x2="245.1" y2="101.4" stroke="#8c8c8c" stroke-width="0.6"/>
<text x="242.9" y="103.9" font-size="7" fill="#111" stroke="#111" stroke-width="0.2" textLength="9.8" lengthAdjust="spacingAndGlyphs" text-anchor="end">−20</text>
<text x="191.7" y="36.9" font-size="7.6" fill="#111" stroke="#111" stroke-width="0.22" textLength="38.5" lengthAdjust="spacingAndGlyphs">R<tspan font-size="4.2" dy="1.3" font-weight="bold">M</tspan><tspan dy="-1.3"> = 260 MΩ</tspan></text>
<text x="203" y="47.5" font-size="7" fill="#111" stroke="#111" stroke-width="0.2" textLength="15.4" lengthAdjust="spacingAndGlyphs">I (pA)</text>
<text x="248" y="79.3" font-size="7" fill="#111" stroke="#111" stroke-width="0.2" textLength="20.4" lengthAdjust="spacingAndGlyphs">V (mV)</text>
<circle cx="185.8" cy="111.3" r="1.35" stroke="#7c7c7c" stroke-width="0.75" fill="#cdcdcd"/>
<circle cx="189.9" cy="108.9" r="1.35" stroke="#7c7c7c" stroke-width="0.75" fill="#cdcdcd"/>
<circle cx="193.9" cy="105.9" r="1.35" stroke="#7c7c7c" stroke-width="0.75" fill="#cdcdcd"/>
<circle cx="197.8" cy="101.6" r="1.35" stroke="#7c7c7c" stroke-width="0.75" fill="#cdcdcd"/>
<circle cx="201.9" cy="99.1" r="1.35" stroke="#7c7c7c" stroke-width="0.75" fill="#cdcdcd"/>
<circle cx="205.5" cy="95" r="1.35" stroke="#7c7c7c" stroke-width="0.75" fill="#cdcdcd"/>
<circle cx="207" cy="93.25" r="1.35" stroke="#7c7c7c" stroke-width="0.75" fill="#cdcdcd"/>
<circle cx="210.6" cy="90.6" r="1.35" stroke="#7c7c7c" stroke-width="0.75" fill="#cdcdcd"/>
<circle cx="214.3" cy="86.5" r="1.35" stroke="#7c7c7c" stroke-width="0.75" fill="#cdcdcd"/>
<circle cx="217.6" cy="83.3" r="1.35" stroke="#7c7c7c" stroke-width="0.75" fill="#cdcdcd"/>
<circle cx="219.7" cy="81.9" r="1.35" stroke="#7c7c7c" stroke-width="0.75" fill="#cdcdcd"/>
<circle cx="223.5" cy="77.5" r="1.35" stroke="#7c7c7c" stroke-width="0.75" fill="#cdcdcd"/>
<circle cx="227.4" cy="73.9" r="1.35" stroke="#7c7c7c" stroke-width="0.75" fill="#cdcdcd"/>
<circle cx="229.6" cy="71.7" r="1.35" stroke="#7c7c7c" stroke-width="0.75" fill="#cdcdcd"/>
<circle cx="231.8" cy="68.75" r="1.35" stroke="#7c7c7c" stroke-width="0.75" fill="#cdcdcd"/>
<circle cx="232.5" cy="66.6" r="1.35" stroke="#7c7c7c" stroke-width="0.75" fill="#cdcdcd"/>
<circle cx="234.25" cy="65.5" r="1.35" stroke="#7c7c7c" stroke-width="0.75" fill="#cdcdcd"/>
<circle cx="235.1" cy="63.6" r="1.35" stroke="#7c7c7c" stroke-width="0.75" fill="#cdcdcd"/>
<circle cx="237.8" cy="60" r="1.35" stroke="#7c7c7c" stroke-width="0.75" fill="#cdcdcd"/>
<circle cx="240.1" cy="56.3" r="1.35" stroke="#7c7c7c" stroke-width="0.75" fill="#cdcdcd"/>
<circle cx="242.3" cy="53.3" r="1.35" stroke="#7c7c7c" stroke-width="0.75" fill="#cdcdcd"/>
<circle cx="244.3" cy="50.3" r="1.35" stroke="#7c7c7c" stroke-width="0.75" fill="#cdcdcd"/>
<circle cx="245.3" cy="48.9" r="1.35" stroke="#7c7c7c" stroke-width="0.75" fill="#cdcdcd"/>
<circle cx="246.4" cy="47.3" r="1.35" stroke="#7c7c7c" stroke-width="0.75" fill="#cdcdcd"/>
<circle cx="248.6" cy="43.8" r="1.35" stroke="#7c7c7c" stroke-width="0.75" fill="#cdcdcd"/>
<circle cx="252" cy="37.5" r="1.35" stroke="#7c7c7c" stroke-width="0.75" fill="#cdcdcd"/>
<circle cx="253.2" cy="37" r="1.35" stroke="#7c7c7c" stroke-width="0.75" fill="#cdcdcd"/>
<circle cx="254.6" cy="36.2" r="1.35" stroke="#7c7c7c" stroke-width="0.75" fill="#cdcdcd"/>
<circle cx="256.5" cy="30.2" r="1.35" stroke="#7c7c7c" stroke-width="0.75" fill="#cdcdcd"/>
<circle cx="258.7" cy="25.8" r="1.35" stroke="#7c7c7c" stroke-width="0.75" fill="#cdcdcd"/>
<line x1="240.5" y1="56.5" x2="248.8" y2="43.8" stroke="#555" stroke-width="0.8"/>
<circle cx="248.7" cy="43.8" r="1.35" stroke="#444" stroke-width="0.8" fill="#777"/>
<polyline points="288.3,107.5 292.6,107.5 293.08,103.12 293.56,100.86 294.04,99.04 294.52,97.44 295,96 295.25,26.4 295.45,95.5 296.15,97.8 296.85,98.3 297.26,98.15 297.67,97.83 298.08,97.41 298.48,96.89 298.89,96.28 299.3,95.6 299.5,31.5 299.7,95.5 300.4,97.8 301.1,98.3 301.47,98.15 301.83,97.83 302.2,97.41 302.57,96.89 302.93,96.28 303.3,95.6 303.5,31.8 303.7,95.5 304.4,97.8 305.1,98.3 305.47,98.15 305.83,97.83 306.2,97.41 306.57,96.89 306.93,96.28 307.3,95.6 307.5,32 307.7,95.5 308.4,97.8 309.1,98.3 309.57,98.15 310.03,97.83 310.5,97.41 310.97,96.89 311.43,96.28 311.9,95.6 312.1,32 312.3,95.5 313,97.8 313.7,98.3 314.22,98.15 314.73,97.83 315.25,97.41 315.77,96.89 316.28,96.28 316.8,95.6 317,32 317.2,95.5 317.9,97.8 318.6,98.3 319.3,98.15 320,97.83 320.7,97.41 321.4,96.89 322.1,96.28 322.8,95.6 323,32 323.2,95.5 323.9,97.8 324.6,98.3 324.95,97.65 325.3,97.31 325.65,97.04 326,96.8 327.3,99.5 329,103.3 331,106 333.5,107.6 336,108.3 343,108.5" stroke="#8a8a8a" stroke-width="0.85" fill="none"/>
<line x1="347.3" y1="91.3" x2="347.3" y2="103.1" stroke="#222" stroke-width="0.6"/>
<line x1="347.3" y1="103.1" x2="355.6" y2="103.1" stroke="#222" stroke-width="0.6"/>
<text x="327.5" y="100.3" font-size="6.4" fill="#111" stroke="#111" stroke-width="0.2" textLength="18.5" lengthAdjust="spacingAndGlyphs">20 mV</text>
<text x="345.2" y="110.3" font-size="6.4" fill="#111" stroke="#111" stroke-width="0.2" textLength="14" lengthAdjust="spacingAndGlyphs">0.2 s</text>
<line x1="388" y1="25" x2="388" y2="99.5" stroke="#8c8c8c" stroke-width="0.9"/>
<line x1="388" y1="99.5" x2="463" y2="99.5" stroke="#8c8c8c" stroke-width="0.9"/>
<line x1="388" y1="99.5" x2="388" y2="101.1" stroke="#8c8c8c" stroke-width="0.6"/>
<text x="385.7" y="108.1" font-size="6.6" fill="#111" stroke="#111" stroke-width="0.2" textLength="3.6" lengthAdjust="spacingAndGlyphs">0</text>
<line x1="398.92" y1="99.5" x2="398.92" y2="101.1" stroke="#8c8c8c" stroke-width="0.6"/>
<text x="397.2" y="108.1" font-size="6.6" fill="#111" stroke="#111" stroke-width="0.2" textLength="3.6" lengthAdjust="spacingAndGlyphs">2</text>
<line x1="409.84" y1="99.5" x2="409.84" y2="101.1" stroke="#8c8c8c" stroke-width="0.6"/>
<text x="408.1" y="108.1" font-size="6.6" fill="#111" stroke="#111" stroke-width="0.2" textLength="3.6" lengthAdjust="spacingAndGlyphs">4</text>
<line x1="420.76" y1="99.5" x2="420.76" y2="101.1" stroke="#8c8c8c" stroke-width="0.6"/>
<text x="419" y="108.1" font-size="6.6" fill="#111" stroke="#111" stroke-width="0.2" textLength="3.6" lengthAdjust="spacingAndGlyphs">6</text>
<line x1="431.68" y1="99.5" x2="431.68" y2="101.1" stroke="#8c8c8c" stroke-width="0.6"/>
<text x="429.9" y="108.1" font-size="6.6" fill="#111" stroke="#111" stroke-width="0.2" textLength="3.6" lengthAdjust="spacingAndGlyphs">8</text>
<line x1="442.6" y1="99.5" x2="442.6" y2="101.1" stroke="#8c8c8c" stroke-width="0.6"/>
<text x="439.6" y="108.1" font-size="6.6" fill="#111" stroke="#111" stroke-width="0.2" textLength="7.2" lengthAdjust="spacingAndGlyphs">10</text>
<line x1="453.52" y1="99.5" x2="453.52" y2="101.1" stroke="#8c8c8c" stroke-width="0.6"/>
<text x="450.5" y="108.1" font-size="6.6" fill="#111" stroke="#111" stroke-width="0.2" textLength="7.2" lengthAdjust="spacingAndGlyphs">12</text>
<line x1="464.44" y1="99.5" x2="464.44" y2="101.1" stroke="#8c8c8c" stroke-width="0.6"/>
<text x="461.3" y="108.1" font-size="6.6" fill="#111" stroke="#111" stroke-width="0.2" textLength="7.2" lengthAdjust="spacingAndGlyphs">14</text>
<line x1="386.2" y1="99.5" x2="388" y2="99.5" stroke="#8c8c8c" stroke-width="0.6"/>
<text x="385" y="101.9" font-size="6.6" fill="#111" stroke="#111" stroke-width="0.2" textLength="3.6" lengthAdjust="spacingAndGlyphs" text-anchor="end">0</text>
<line x1="386.2" y1="87.3" x2="388" y2="87.3" stroke="#8c8c8c" stroke-width="0.6"/>
<text x="385" y="89.7" font-size="6.6" fill="#111" stroke="#111" stroke-width="0.2" textLength="7.2" lengthAdjust="spacingAndGlyphs" text-anchor="end">50</text>
<line x1="386.2" y1="75.1" x2="388" y2="75.1" stroke="#8c8c8c" stroke-width="0.6"/>
<text x="385" y="77.5" font-size="6.6" fill="#111" stroke="#111" stroke-width="0.2" textLength="10.8" lengthAdjust="spacingAndGlyphs" text-anchor="end">100</text>
<line x1="386.2" y1="62.9" x2="388" y2="62.9" stroke="#8c8c8c" stroke-width="0.6"/>
<text x="385" y="65.3" font-size="6.6" fill="#111" stroke="#111" stroke-width="0.2" textLength="10.8" lengthAdjust="spacingAndGlyphs" text-anchor="end">150</text>
<line x1="386.2" y1="50.7" x2="388" y2="50.7" stroke="#8c8c8c" stroke-width="0.6"/>
<text x="385" y="53.1" font-size="6.6" fill="#111" stroke="#111" stroke-width="0.2" textLength="10.8" lengthAdjust="spacingAndGlyphs" text-anchor="end">200</text>
<line x1="386.2" y1="38.5" x2="388" y2="38.5" stroke="#8c8c8c" stroke-width="0.6"/>
<text x="385" y="40.9" font-size="6.6" fill="#111" stroke="#111" stroke-width="0.2" textLength="10.8" lengthAdjust="spacingAndGlyphs" text-anchor="end">250</text>
<line x1="386.2" y1="26.3" x2="388" y2="26.3" stroke="#8c8c8c" stroke-width="0.6"/>
<text x="385" y="28.7" font-size="6.6" fill="#111" stroke="#111" stroke-width="0.2" textLength="10.8" lengthAdjust="spacingAndGlyphs" text-anchor="end">300</text>
<text x="368.6" y="64.4" font-size="7" fill="#111" stroke="#111" stroke-width="0.2" font-weight="bold" text-anchor="middle" textLength="63.8" lengthAdjust="spacingAndGlyphs" transform="rotate(-90 368.6 64.4)">Interspike interval (ms)</text>
<text x="405.8" y="115.2" font-size="6.9" fill="#111" stroke="#111" stroke-width="0.2" textLength="43" lengthAdjust="spacingAndGlyphs" font-weight="bold">Interval number</text>
<polyline points="393.46,48.26 398.92,33.13" stroke="#777" stroke-width="0.7" fill="none"/>
<circle cx="393.46" cy="48.26" r="1.15" stroke="#777" stroke-width="0.6" fill="#d0d0d0"/>
<circle cx="398.92" cy="33.13" r="1.15" stroke="#777" stroke-width="0.6" fill="#d0d0d0"/>
<polyline points="393.46,55.34 398.92,51.68 404.38,45.82" stroke="#888" stroke-width="0.7" fill="none"/>
<circle cx="393.46" cy="55.34" r="1.15" stroke="#888" stroke-width="0.6" fill="#d0d0d0"/>
<circle cx="398.92" cy="51.68" r="1.15" stroke="#888" stroke-width="0.6" fill="#d0d0d0"/>
<circle cx="404.38" cy="45.82" r="1.15" stroke="#888" stroke-width="0.6" fill="#d0d0d0"/>
<polyline points="393.46,54.85 398.92,51.68 404.38,51.19" stroke="#999" stroke-width="0.7" fill="none"/>
<circle cx="393.46" cy="54.85" r="1.15" stroke="#999" stroke-width="0.6" fill="#d0d0d0"/>
<circle cx="398.92" cy="51.68" r="1.15" stroke="#999" stroke-width="0.6" fill="#d0d0d0"/>
<circle cx="404.38" cy="51.19" r="1.15" stroke="#999" stroke-width="0.6" fill="#d0d0d0"/>
<polyline points="393.46,58.02 398.92,64.12 404.38,62.17 409.84,56.31" stroke="#777" stroke-width="0.7" fill="none"/>
<circle cx="393.46" cy="58.02" r="1.15" stroke="#777" stroke-width="0.6" fill="#d0d0d0"/>
<circle cx="398.92" cy="64.12" r="1.15" stroke="#777" stroke-width="0.6" fill="#d0d0d0"/>
<circle cx="404.38" cy="62.17" r="1.15" stroke="#777" stroke-width="0.6" fill="#d0d0d0"/>
<circle cx="409.84" cy="56.31" r="1.15" stroke="#777" stroke-width="0.6" fill="#d0d0d0"/>
<polyline points="393.46,62.41 398.92,65.34 404.38,62.9 409.84,58.75 415.3,60.46" stroke="#8a8a8a" stroke-width="0.7" fill="none"/>
<circle cx="393.46" cy="62.41" r="1.15" stroke="#8a8a8a" stroke-width="0.6" fill="#d0d0d0"/>
<circle cx="398.92" cy="65.34" r="1.15" stroke="#8a8a8a" stroke-width="0.6" fill="#d0d0d0"/>
<circle cx="404.38" cy="62.9" r="1.15" stroke="#8a8a8a" stroke-width="0.6" fill="#d0d0d0"/>
<circle cx="409.84" cy="58.75" r="1.15" stroke="#8a8a8a" stroke-width="0.6" fill="#d0d0d0"/>
<circle cx="415.3" cy="60.46" r="1.15" stroke="#8a8a8a" stroke-width="0.6" fill="#d0d0d0"/>
<polyline points="393.46,67.29 398.92,68.27 404.38,64.85 409.84,62.9 415.3,66.32 420.76,68.27" stroke="#999" stroke-width="0.7" fill="none"/>
<circle cx="393.46" cy="67.29" r="1.15" stroke="#999" stroke-width="0.6" fill="#d0d0d0"/>
<circle cx="398.92" cy="68.27" r="1.15" stroke="#999" stroke-width="0.6" fill="#d0d0d0"/>
<circle cx="404.38" cy="64.85" r="1.15" stroke="#999" stroke-width="0.6" fill="#d0d0d0"/>
<circle cx="409.84" cy="62.9" r="1.15" stroke="#999" stroke-width="0.6" fill="#d0d0d0"/>
<circle cx="415.3" cy="66.32" r="1.15" stroke="#999" stroke-width="0.6" fill="#d0d0d0"/>
<circle cx="420.76" cy="68.27" r="1.15" stroke="#999" stroke-width="0.6" fill="#d0d0d0"/>
<polyline points="393.46,70.71 398.92,72.17 404.38,71.44 409.84,69 415.3,68.27 420.76,70.71 426.22,72.17" stroke="#7a7a7a" stroke-width="0.7" fill="none"/>
<circle cx="393.46" cy="70.71" r="1.15" stroke="#7a7a7a" stroke-width="0.6" fill="#d0d0d0"/>
<circle cx="398.92" cy="72.17" r="1.15" stroke="#7a7a7a" stroke-width="0.6" fill="#d0d0d0"/>
<circle cx="404.38" cy="71.44" r="1.15" stroke="#7a7a7a" stroke-width="0.6" fill="#d0d0d0"/>
<circle cx="409.84" cy="69" r="1.15" stroke="#7a7a7a" stroke-width="0.6" fill="#d0d0d0"/>
<circle cx="415.3" cy="68.27" r="1.15" stroke="#7a7a7a" stroke-width="0.6" fill="#d0d0d0"/>
<circle cx="420.76" cy="70.71" r="1.15" stroke="#7a7a7a" stroke-width="0.6" fill="#d0d0d0"/>
<circle cx="426.22" cy="72.17" r="1.15" stroke="#7a7a7a" stroke-width="0.6" fill="#d0d0d0"/>
<polyline points="393.46,75.1 398.92,74.61 404.38,75.59 409.84,73.15 415.3,72.17 420.76,74.12 426.22,75.59 431.68,76.32" stroke="#999" stroke-width="0.7" fill="none"/>
<circle cx="393.46" cy="75.1" r="1.15" stroke="#999" stroke-width="0.6" fill="#d0d0d0"/>
<circle cx="398.92" cy="74.61" r="1.15" stroke="#999" stroke-width="0.6" fill="#d0d0d0"/>
<circle cx="404.38" cy="75.59" r="1.15" stroke="#999" stroke-width="0.6" fill="#d0d0d0"/>
<circle cx="409.84" cy="73.15" r="1.15" stroke="#999" stroke-width="0.6" fill="#d0d0d0"/>
<circle cx="415.3" cy="72.17" r="1.15" stroke="#999" stroke-width="0.6" fill="#d0d0d0"/>
<circle cx="420.76" cy="74.12" r="1.15" stroke="#999" stroke-width="0.6" fill="#d0d0d0"/>
<circle cx="426.22" cy="75.59" r="1.15" stroke="#999" stroke-width="0.6" fill="#d0d0d0"/>
<circle cx="431.68" cy="76.32" r="1.15" stroke="#999" stroke-width="0.6" fill="#d0d0d0"/>
<polyline points="393.46,78.03 398.92,77.05 404.38,77.54 409.84,76.32 415.3,75.59 420.76,77.05 426.22,78.03 431.68,78.52 437.14,79.49" stroke="#888" stroke-width="0.7" fill="none"/>
<circle cx="393.46" cy="78.03" r="1.15" stroke="#888" stroke-width="0.6" fill="#d0d0d0"/>
<circle cx="398.92" cy="77.05" r="1.15" stroke="#888" stroke-width="0.6" fill="#d0d0d0"/>
<circle cx="404.38" cy="77.54" r="1.15" stroke="#888" stroke-width="0.6" fill="#d0d0d0"/>
<circle cx="409.84" cy="76.32" r="1.15" stroke="#888" stroke-width="0.6" fill="#d0d0d0"/>
<circle cx="415.3" cy="75.59" r="1.15" stroke="#888" stroke-width="0.6" fill="#d0d0d0"/>
<circle cx="420.76" cy="77.05" r="1.15" stroke="#888" stroke-width="0.6" fill="#d0d0d0"/>
<circle cx="426.22" cy="78.03" r="1.15" stroke="#888" stroke-width="0.6" fill="#d0d0d0"/>
<circle cx="431.68" cy="78.52" r="1.15" stroke="#888" stroke-width="0.6" fill="#d0d0d0"/>
<circle cx="437.14" cy="79.49" r="1.15" stroke="#888" stroke-width="0.6" fill="#d0d0d0"/>
<polyline points="393.46,80.47 398.92,79.49 404.38,79.98 409.84,79.49 415.3,78.52 420.76,79.49 426.22,79.98 431.68,80.47 437.14,80.96 442.6,81.44" stroke="#999" stroke-width="0.7" fill="none"/>
<circle cx="393.46" cy="80.47" r="1.15" stroke="#999" stroke-width="0.6" fill="#d0d0d0"/>
<circle cx="398.92" cy="79.49" r="1.15" stroke="#999" stroke-width="0.6" fill="#d0d0d0"/>
<circle cx="404.38" cy="79.98" r="1.15" stroke="#999" stroke-width="0.6" fill="#d0d0d0"/>
<circle cx="409.84" cy="79.49" r="1.15" stroke="#999" stroke-width="0.6" fill="#d0d0d0"/>
<circle cx="415.3" cy="78.52" r="1.15" stroke="#999" stroke-width="0.6" fill="#d0d0d0"/>
<circle cx="420.76" cy="79.49" r="1.15" stroke="#999" stroke-width="0.6" fill="#d0d0d0"/>
<circle cx="426.22" cy="79.98" r="1.15" stroke="#999" stroke-width="0.6" fill="#d0d0d0"/>
<circle cx="431.68" cy="80.47" r="1.15" stroke="#999" stroke-width="0.6" fill="#d0d0d0"/>
<circle cx="437.14" cy="80.96" r="1.15" stroke="#999" stroke-width="0.6" fill="#d0d0d0"/>
<circle cx="442.6" cy="81.44" r="1.15" stroke="#999" stroke-width="0.6" fill="#d0d0d0"/>
<polyline points="393.46,83.4 398.92,81.93 404.38,82.42 409.84,81.93 415.3,81.44 420.76,81.93 426.22,82.42 431.68,81.93 437.14,82.42 442.6,80.96 448.06,81.44" stroke="#8a8a8a" stroke-width="0.7" fill="none"/>
<circle cx="393.46" cy="83.4" r="1.15" stroke="#8a8a8a" stroke-width="0.6" fill="#d0d0d0"/>
<circle cx="398.92" cy="81.93" r="1.15" stroke="#8a8a8a" stroke-width="0.6" fill="#d0d0d0"/>
<circle cx="404.38" cy="82.42" r="1.15" stroke="#8a8a8a" stroke-width="0.6" fill="#d0d0d0"/>
<circle cx="409.84" cy="81.93" r="1.15" stroke="#8a8a8a" stroke-width="0.6" fill="#d0d0d0"/>
<circle cx="415.3" cy="81.44" r="1.15" stroke="#8a8a8a" stroke-width="0.6" fill="#d0d0d0"/>
<circle cx="420.76" cy="81.93" r="1.15" stroke="#8a8a8a" stroke-width="0.6" fill="#d0d0d0"/>
<circle cx="426.22" cy="82.42" r="1.15" stroke="#8a8a8a" stroke-width="0.6" fill="#d0d0d0"/>
<circle cx="431.68" cy="81.93" r="1.15" stroke="#8a8a8a" stroke-width="0.6" fill="#d0d0d0"/>
<circle cx="437.14" cy="82.42" r="1.15" stroke="#8a8a8a" stroke-width="0.6" fill="#d0d0d0"/>
<circle cx="442.6" cy="80.96" r="1.15" stroke="#8a8a8a" stroke-width="0.6" fill="#d0d0d0"/>
<circle cx="448.06" cy="81.44" r="1.15" stroke="#8a8a8a" stroke-width="0.6" fill="#d0d0d0"/>
<polyline points="393.46,87.3 398.92,85.35 404.38,84.37 409.84,83.88 415.3,83.4 420.76,83.4 426.22,82.91 431.68,82.42 437.14,81.93 442.6,81.44 448.06,80.96 453.52,81.69" stroke="#777" stroke-width="0.7" fill="none"/>
<circle cx="393.46" cy="87.3" r="1.15" stroke="#777" stroke-width="0.6" fill="#d0d0d0"/>
<circle cx="398.92" cy="85.35" r="1.15" stroke="#777" stroke-width="0.6" fill="#d0d0d0"/>
<circle cx="404.38" cy="84.37" r="1.15" stroke="#777" stroke-width="0.6" fill="#d0d0d0"/>
<circle cx="409.84" cy="83.88" r="1.15" stroke="#777" stroke-width="0.6" fill="#d0d0d0"/>
<circle cx="415.3" cy="83.4" r="1.15" stroke="#777" stroke-width="0.6" fill="#d0d0d0"/>
<circle cx="420.76" cy="83.4" r="1.15" stroke="#777" stroke-width="0.6" fill="#d0d0d0"/>
<circle cx="426.22" cy="82.91" r="1.15" stroke="#777" stroke-width="0.6" fill="#d0d0d0"/>
<circle cx="431.68" cy="82.42" r="1.15" stroke="#777" stroke-width="0.6" fill="#d0d0d0"/>
<circle cx="437.14" cy="81.93" r="1.15" stroke="#777" stroke-width="0.6" fill="#d0d0d0"/>
<circle cx="442.6" cy="81.44" r="1.15" stroke="#777" stroke-width="0.6" fill="#d0d0d0"/>
<circle cx="448.06" cy="80.96" r="1.15" stroke="#777" stroke-width="0.6" fill="#d0d0d0"/>
<circle cx="453.52" cy="81.69" r="1.15" stroke="#777" stroke-width="0.6" fill="#d0d0d0"/>
<text x="388.6" y="30.6" font-size="6.6" fill="#111" stroke="#111" stroke-width="0.2" textLength="20.2" lengthAdjust="spacingAndGlyphs">+64 pA</text>
<text x="439.5" y="94.2" font-size="6.6" fill="#111" stroke="#111" stroke-width="0.2" textLength="23.5" lengthAdjust="spacingAndGlyphs">+196 pA</text>
<polyline points="106.3,210.5 113,210.5 113.3,210.73 113.6,210.92 113.9,211.06 114.2,211.19 114.5,211.29 114.8,211.38 115.1,211.48 115.4,211.52 115.7,211.57 116,211.62 116.3,211.64 116.6,211.67 116.9,211.67 117.2,211.64 117.7,211.65 118.2,211.67 118.7,211.68 119.2,211.67 119.7,211.67 120.2,211.7 120.7,211.75 121.2,211.77 121.7,211.78 122.2,211.81 122.7,211.8 123.2,211.84 123.7,211.84 124.2,211.82 124.7,211.82 125.2,211.81 125.7,211.79 126.2,211.8 126.7,211.77 127.2,211.77 127.7,211.76 128.2,211.76 128.7,211.73 129.2,211.73 129.7,211.77 130.2,211.77 130.7,211.77 131.2,211.78 131.7,211.76 132.2,211.82 132.7,211.82 133.2,211.81 133.7,211.81 134.2,211.77 134.7,211.8 135.2,211.81 135.7,211.75 136.2,211.76 136.7,211.74 137.2,211.77 137.7,211.77 138.2,211.73 138.7,211.77 139.2,211.81 139.7,211.79 140.2,211.79 140.7,211.76 141.2,211.8 141.7,211.82 142.2,211.81 142.7,211.82 143.2,211.84 143.7,211.87 144.2,211.89 144.7,211.9 145.2,211.89 145.7,211.88 146.2,211.88 146.7,211.9 147.2,211.86 147.7,211.87 148.2,211.82 148.7,211.84 149.2,211.83 149.7,211.82 150.2,211.82 150.7,211.85 151.2,211.82 151.7,211.87 152.2,211.87 152.7,211.88 153.2,211.87 153.7,211.84 154.2,211.83 154.7,211.85 155.2,211.82 155.7,211.79 156.2,211.78 156.7,211.79 157.2,211.78 157.7,211.8 158.2,211.81 158.7,211.82 159.2,211.82 159.7,211.8 160.2,211.79 160.7,211.78 161.2,211.77 161.7,211.75 162.2,211.73 162.7,211.76 163.2,211.77 163.7,211.8 164.2,211.84 164.7,211.87 165.2,211.84 165.7,211.86 166.2,211.86 166.7,211.84 166.7,211.79 167,211.53 167.3,211.31 167.6,211.13 167.9,210.98 168.2,210.85 168.5,210.74 168.8,210.65 169.1,210.57 169.4,210.51 169.7,210.46 170,210.41 170.3,210.37 170.6,210.34 170.9,210.31 171.4,210.27 171.9,210.24 172.4,210.22 172.9,210.2 173.4,210.19 173.9,210.18 174.4,210.17 174.9,210.17 175.4,210.17 175.9,210.16 176.4,210.16 176.9,210.17 177.4,210.17 177.9,210.17 178.4,210.18 178.9,210.18 179.4,210.18 179.9,210.19 180.4,210.19 180.9,210.2 181.4,210.21 181.9,210.21 182.4,210.22 182.9,210.23 183.4,210.23 183.9,210.24 184.4,210.25 184.9,210.25 185.4,210.26 185.9,210.27 186.4,210.27 186.9,210.28 187.4,210.29 187.9,210.29 188.4,210.3 188.9,210.31 189.4,210.31 189.9,210.32 190.4,210.33 190.9,210.33 191.4,210.34 191.9,210.34 192.4,210.35 192.9,210.35 193.4,210.36 193.9,210.36 194.4,210.37 194.9,210.37 195.4,210.38 195.9,210.38 196.4,210.39 196.9,210.39 197,210.39" stroke="#2e2e2e" stroke-width="0.66" fill="none"/>
<polyline points="106.3,210.5 113,210.5 113.3,210.96 113.6,211.32 113.9,211.62 114.2,211.87 114.5,212.1 114.8,212.28 115.1,212.43 115.4,212.55 115.7,212.64 116,212.76 116.3,212.81 116.6,212.86 116.9,212.89 117.2,212.89 117.7,212.95 118.2,212.99 118.7,213.03 119.2,213.06 119.7,213.05 120.2,213.07 120.7,213.09 121.2,213.08 121.7,213.13 122.2,213.11 122.7,213.13 123.2,213.14 123.7,213.15 124.2,213.14 124.7,213.14 125.2,213.14 125.7,213.16 126.2,213.12 126.7,213.14 127.2,213.16 127.7,213.16 128.2,213.19 128.7,213.19 129.2,213.17 129.7,213.21 130.2,213.17 130.7,213.14 131.2,213.17 131.7,213.14 132.2,213.1 132.7,213.12 133.2,213.09 133.7,213.13 134.2,213.12 134.7,213.08 135.2,213.09 135.7,213.08 136.2,213.09 136.7,213.08 137.2,213.06 137.7,213.05 138.2,213.08 138.7,213.08 139.2,213.09 139.7,213.03 140.2,213.02 140.7,213.04 141.2,213.05 141.7,213.04 142.2,213.02 142.7,213.02 143.2,213.03 143.7,213.02 144.2,213.01 144.7,213.01 145.2,213 145.7,213.04 146.2,213.02 146.7,213.03 147.2,213.08 147.7,213.04 148.2,213.05 148.7,213.09 149.2,213.1 149.7,213.1 150.2,213.11 150.7,213.1 151.2,213.11 151.7,213.15 152.2,213.11 152.7,213.12 153.2,213.14 153.7,213.13 154.2,213.11 154.7,213.1 155.2,213.08 155.7,213.08 156.2,213.08 156.7,213.09 157.2,213.1 157.7,213.08 158.2,213.11 158.7,213.08 159.2,213.12 159.7,213.07 160.2,213.07 160.7,213.08 161.2,213.08 161.7,213.09 162.2,213.1 162.7,213.09 163.2,213.11 163.7,213.1 164.2,213.09 164.7,213.08 165.2,213.04 165.7,213.07 166.2,213.05 166.7,213.06 166.7,213.04 167,212.57 167.3,212.13 167.6,211.76 167.9,211.45 168.2,211.2 168.5,210.98 168.8,210.8 169.1,210.65 169.4,210.52 169.7,210.41 170,210.32 170.3,210.24 170.6,210.18 170.9,210.12 171.4,210.04 171.9,209.99 172.4,209.94 172.9,209.91 173.4,209.88 173.9,209.86 174.4,209.85 174.9,209.84 175.4,209.83 175.9,209.83 176.4,209.83 176.9,209.83 177.4,209.84 177.9,209.84 178.4,209.85 178.9,209.86 179.4,209.87 179.9,209.88 180.4,209.89 180.9,209.9 181.4,209.91 181.9,209.93 182.4,209.94 182.9,209.95 183.4,209.97 183.9,209.98 184.4,209.99 184.9,210.01 185.4,210.02 185.9,210.04 186.4,210.05 186.9,210.06 187.4,210.08 187.9,210.09 188.4,210.1 188.9,210.12 189.4,210.13 189.9,210.14 190.4,210.15 190.9,210.16 191.4,210.18 191.9,210.19 192.4,210.2 192.9,210.21 193.4,210.22 193.9,210.23 194.4,210.24 194.9,210.25 195.4,210.26 195.9,210.27 196.4,210.28 196.9,210.28 197,210.29" stroke="#2e2e2e" stroke-width="0.66" fill="none"/>
<polyline points="106.3,210.5 113,210.5 113.3,211.2 113.6,211.79 113.9,212.28 114.2,212.67 114.5,212.99 114.8,213.25 115.1,213.47 115.4,213.64 115.7,213.8 116,213.89 116.3,214.01 116.6,214.1 116.9,214.17 117.2,214.25 117.7,214.31 118.2,214.33 118.7,214.42 119.2,214.44 119.7,214.49 120.2,214.47 120.7,214.43 121.2,214.45 121.7,214.44 122.2,214.39 122.7,214.37 123.2,214.35 123.7,214.37 124.2,214.41 124.7,214.4 125.2,214.39 125.7,214.41 126.2,214.41 126.7,214.46 127.2,214.44 127.7,214.41 128.2,214.45 128.7,214.44 129.2,214.44 129.7,214.43 130.2,214.42 130.7,214.44 131.2,214.46 131.7,214.42 132.2,214.45 132.7,214.45 133.2,214.46 133.7,214.45 134.2,214.47 134.7,214.43 135.2,214.43 135.7,214.41 136.2,214.39 136.7,214.36 137.2,214.33 137.7,214.29 138.2,214.33 138.7,214.34 139.2,214.32 139.7,214.33 140.2,214.35 140.7,214.36 141.2,214.35 141.7,214.31 142.2,214.29 142.7,214.34 143.2,214.37 143.7,214.34 144.2,214.36 144.7,214.41 145.2,214.44 145.7,214.45 146.2,214.42 146.7,214.4 147.2,214.4 147.7,214.39 148.2,214.33 148.7,214.36 149.2,214.39 149.7,214.4 150.2,214.43 150.7,214.46 151.2,214.44 151.7,214.45 152.2,214.4 152.7,214.37 153.2,214.37 153.7,214.37 154.2,214.35 154.7,214.34 155.2,214.37 155.7,214.41 156.2,214.46 156.7,214.43 157.2,214.42 157.7,214.46 158.2,214.49 158.7,214.47 159.2,214.43 159.7,214.42 160.2,214.43 160.7,214.41 161.2,214.39 161.7,214.37 162.2,214.4 162.7,214.4 163.2,214.35 163.7,214.37 164.2,214.38 164.7,214.4 165.2,214.42 165.7,214.43 166.2,214.47 166.7,214.5 166.7,214.49 167,213.6 167.3,212.94 167.6,212.39 167.9,211.93 168.2,211.55 168.5,211.22 168.8,210.95 169.1,210.72 169.4,210.53 169.7,210.37 170,210.23 170.3,210.11 170.6,210.02 170.9,209.93 171.4,209.82 171.9,209.73 172.4,209.66 172.9,209.61 173.4,209.57 173.9,209.54 174.4,209.52 174.9,209.51 175.4,209.5 175.9,209.49 176.4,209.49 176.9,209.5 177.4,209.51 177.9,209.51 178.4,209.53 178.9,209.54 179.4,209.55 179.9,209.57 180.4,209.58 180.9,209.6 181.4,209.62 181.9,209.64 182.4,209.66 182.9,209.68 183.4,209.7 183.9,209.72 184.4,209.74 184.9,209.76 185.4,209.78 185.9,209.8 186.4,209.82 186.9,209.84 187.4,209.86 187.9,209.88 188.4,209.9 188.9,209.92 189.4,209.94 189.9,209.96 190.4,209.98 190.9,210 191.4,210.01 191.9,210.03 192.4,210.05 192.9,210.06 193.4,210.08 193.9,210.09 194.4,210.11 194.9,210.12 195.4,210.14 195.9,210.15 196.4,210.16 196.9,210.18 197,210.18" stroke="#2e2e2e" stroke-width="0.66" fill="none"/>
<polyline points="106.3,210.5 113,210.5 113.3,211.44 113.6,212.21 113.9,212.85 114.2,213.36 114.5,213.8 114.8,214.16 115.1,214.45 115.4,214.71 115.7,214.88 116,215.04 116.3,215.16 116.6,215.27 116.9,215.41 117.2,215.48 117.7,215.59 118.2,215.7 118.7,215.72 119.2,215.81 119.7,215.85 120.2,215.82 120.7,215.85 121.2,215.83 121.7,215.8 122.2,215.85 122.7,215.82 123.2,215.82 123.7,215.82 124.2,215.81 124.7,215.79 125.2,215.79 125.7,215.75 126.2,215.71 126.7,215.7 127.2,215.7 127.7,215.67 128.2,215.7 128.7,215.71 129.2,215.74 129.7,215.77 130.2,215.79 130.7,215.81 131.2,215.84 131.7,215.85 132.2,215.83 132.7,215.82 133.2,215.8 133.7,215.79 134.2,215.8 134.7,215.79 135.2,215.74 135.7,215.75 136.2,215.75 136.7,215.79 137.2,215.78 137.7,215.74 138.2,215.73 138.7,215.73 139.2,215.74 139.7,215.74 140.2,215.69 140.7,215.7 141.2,215.74 141.7,215.71 142.2,215.72 142.7,215.71 143.2,215.71 143.7,215.74 144.2,215.69 144.7,215.65 145.2,215.64 145.7,215.68 146.2,215.66 146.7,215.64 147.2,215.62 147.7,215.66 148.2,215.68 148.7,215.68 149.2,215.68 149.7,215.71 150.2,215.71 150.7,215.75 151.2,215.76 151.7,215.74 152.2,215.75 152.7,215.71 153.2,215.7 153.7,215.71 154.2,215.71 154.7,215.66 155.2,215.67 155.7,215.7 156.2,215.73 156.7,215.72 157.2,215.7 157.7,215.66 158.2,215.71 158.7,215.72 159.2,215.72 159.7,215.72 160.2,215.7 160.7,215.69 161.2,215.69 161.7,215.7 162.2,215.71 162.7,215.66 163.2,215.63 163.7,215.65 164.2,215.66 164.7,215.68 165.2,215.65 165.7,215.63 166.2,215.63 166.7,215.65 166.7,215.65 167,214.64 167.3,213.76 167.6,213.02 167.9,212.41 168.2,211.9 168.5,211.46 168.8,211.1 169.1,210.8 169.4,210.54 169.7,210.33 170,210.14 170.3,209.99 170.6,209.85 170.9,209.74 171.4,209.59 171.9,209.47 172.4,209.38 172.9,209.31 173.4,209.26 173.9,209.22 174.4,209.19 174.9,209.18 175.4,209.16 175.9,209.16 176.4,209.16 176.9,209.16 177.4,209.17 177.9,209.19 178.4,209.2 178.9,209.22 179.4,209.24 179.9,209.26 180.4,209.28 180.9,209.3 181.4,209.33 181.9,209.35 182.4,209.38 182.9,209.41 183.4,209.43 183.9,209.46 184.4,209.49 184.9,209.52 185.4,209.54 185.9,209.57 186.4,209.6 186.9,209.63 187.4,209.65 187.9,209.68 188.4,209.71 188.9,209.73 189.4,209.76 189.9,209.78 190.4,209.8 190.9,209.83 191.4,209.85 191.9,209.87 192.4,209.9 192.9,209.92 193.4,209.94 193.9,209.96 194.4,209.98 194.9,210 195.4,210.02 195.9,210.04 196.4,210.05 196.9,210.07 197,210.07" stroke="#2e2e2e" stroke-width="0.66" fill="none"/>
<polyline points="106.3,210.5 113,210.5 113.3,211.68 113.6,212.66 113.9,213.47 114.2,214.12 114.5,214.66 114.8,215.11 115.1,215.5 115.4,215.84 115.7,216.11 116,216.29 116.3,216.49 116.6,216.66 116.9,216.8 117.2,216.86 117.7,216.98 118.2,217.07 118.7,217.14 119.2,217.14 119.7,217.12 120.2,217.13 120.7,217.19 121.2,217.18 121.7,217.18 122.2,217.17 122.7,217.18 123.2,217.21 123.7,217.21 124.2,217.18 124.7,217.17 125.2,217.13 125.7,217.12 126.2,217.12 126.7,217.07 127.2,217.06 127.7,217.05 128.2,217.03 128.7,217.04 129.2,217.05 129.7,217.05 130.2,217.04 130.7,217.06 131.2,217.07 131.7,217.09 132.2,217.06 132.7,217.08 133.2,217.09 133.7,217.1 134.2,217.05 134.7,217.02 135.2,216.97 135.7,217.01 136.2,216.97 136.7,216.98 137.2,216.98 137.7,217.01 138.2,217.03 138.7,217.05 139.2,217.05 139.7,217.08 140.2,217.04 140.7,217.06 141.2,217.04 141.7,217.05 142.2,217.06 142.7,217.07 143.2,217.05 143.7,217.07 144.2,217.09 144.7,217.1 145.2,217.07 145.7,217.05 146.2,217.06 146.7,217.05 147.2,217 147.7,216.97 148.2,216.98 148.7,217.01 149.2,217 149.7,217.01 150.2,217.01 150.7,217.06 151.2,217.03 151.7,216.99 152.2,216.95 152.7,216.93 153.2,216.9 153.7,216.92 154.2,216.89 154.7,216.94 155.2,216.96 155.7,216.96 156.2,216.97 156.7,216.98 157.2,217 157.7,217 158.2,216.95 158.7,216.97 159.2,216.98 159.7,217.03 160.2,217.01 160.7,216.99 161.2,217 161.7,217.05 162.2,217.03 162.7,217.04 163.2,217.03 163.7,217.01 164.2,217.01 164.7,217 165.2,216.99 165.7,216.98 166.2,217.02 166.7,216.96 166.7,216.99 167,215.68 167.3,214.57 167.6,213.65 167.9,212.89 168.2,212.24 168.5,211.71 168.8,211.25 169.1,210.87 169.4,210.55 169.7,210.28 170,210.05 170.3,209.86 170.6,209.69 170.9,209.55 171.4,209.36 171.9,209.21 172.4,209.1 172.9,209.02 173.4,208.95 173.9,208.9 174.4,208.87 174.9,208.84 175.4,208.83 175.9,208.82 176.4,208.82 176.9,208.83 177.4,208.84 177.9,208.86 178.4,208.88 178.9,208.9 179.4,208.92 179.9,208.95 180.4,208.97 180.9,209 181.4,209.04 181.9,209.07 182.4,209.1 182.9,209.13 183.4,209.17 183.9,209.2 184.4,209.24 184.9,209.27 185.4,209.3 185.9,209.34 186.4,209.37 186.9,209.41 187.4,209.44 187.9,209.47 188.4,209.51 188.9,209.54 189.4,209.57 189.9,209.6 190.4,209.63 190.9,209.66 191.4,209.69 191.9,209.72 192.4,209.75 192.9,209.77 193.4,209.8 193.9,209.82 194.4,209.85 194.9,209.87 195.4,209.9 195.9,209.92 196.4,209.94 196.9,209.96 197,209.97" stroke="#2e2e2e" stroke-width="0.66" fill="none"/>
<polyline points="106.3,210.5 113,210.5 113.3,211.95 113.6,213.13 113.9,214.12 114.2,214.93 114.5,215.59 114.8,216.13 115.1,216.6 115.4,216.98 115.7,217.29 116,217.51 116.3,217.74 116.6,217.96 116.9,218.12 117.2,218.21 117.7,218.31 118.2,218.4 118.7,218.46 119.2,218.44 119.7,218.45 120.2,218.44 120.7,218.47 121.2,218.48 121.7,218.46 122.2,218.5 122.7,218.53 123.2,218.52 123.7,218.52 124.2,218.52 124.7,218.55 125.2,218.59 125.7,218.59 126.2,218.56 126.7,218.54 127.2,218.52 127.7,218.53 128.2,218.49 128.7,218.45 129.2,218.43 129.7,218.4 130.2,218.44 130.7,218.41 131.2,218.38 131.7,218.41 132.2,218.39 132.7,218.4 133.2,218.41 133.7,218.36 134.2,218.37 134.7,218.33 135.2,218.32 135.7,218.35 136.2,218.37 136.7,218.34 137.2,218.37 137.7,218.37 138.2,218.4 138.7,218.38 139.2,218.35 139.7,218.35 140.2,218.35 140.7,218.35 141.2,218.38 141.7,218.37 142.2,218.37 142.7,218.41 143.2,218.36 143.7,218.4 144.2,218.4 144.7,218.37 145.2,218.38 145.7,218.36 146.2,218.33 146.7,218.35 147.2,218.36 147.7,218.33 148.2,218.34 148.7,218.33 149.2,218.32 149.7,218.33 150.2,218.3 150.7,218.32 151.2,218.32 151.7,218.33 152.2,218.33 152.7,218.34 153.2,218.32 153.7,218.31 154.2,218.31 154.7,218.31 155.2,218.3 155.7,218.3 156.2,218.32 156.7,218.32 157.2,218.32 157.7,218.32 158.2,218.31 158.7,218.32 159.2,218.34 159.7,218.34 160.2,218.38 160.7,218.37 161.2,218.34 161.7,218.37 162.2,218.38 162.7,218.33 163.2,218.29 163.7,218.25 164.2,218.25 164.7,218.25 165.2,218.25 165.7,218.23 166.2,218.25 166.7,218.25 166.7,218.26 167,216.71 167.3,215.39 167.6,214.28 167.9,213.36 168.2,212.59 168.5,211.95 168.8,211.41 169.1,210.95 169.4,210.56 169.7,210.24 170,209.96 170.3,209.73 170.6,209.53 170.9,209.36 171.4,209.13 171.9,208.96 172.4,208.82 172.9,208.72 173.4,208.64 173.9,208.58 174.4,208.54 174.9,208.51 175.4,208.5 175.9,208.49 176.4,208.49 176.9,208.5 177.4,208.51 177.9,208.53 178.4,208.55 178.9,208.58 179.4,208.6 179.9,208.64 180.4,208.67 180.9,208.71 181.4,208.74 181.9,208.78 182.4,208.82 182.9,208.86 183.4,208.9 183.9,208.94 184.4,208.98 184.9,209.02 185.4,209.07 185.9,209.11 186.4,209.15 186.9,209.19 187.4,209.23 187.9,209.27 188.4,209.31 188.9,209.35 189.4,209.38 189.9,209.42 190.4,209.46 190.9,209.49 191.4,209.53 191.9,209.56 192.4,209.59 192.9,209.63 193.4,209.66 193.9,209.69 194.4,209.72 194.9,209.75 195.4,209.78 195.9,209.8 196.4,209.83 196.9,209.85 197,209.86" stroke="#2e2e2e" stroke-width="0.66" fill="none"/>
<polyline points="106.3,210.5 113,210.5 113.3,212.22 113.6,213.63 113.9,214.79 114.2,215.74 114.5,216.53 114.8,217.18 115.1,217.69 115.4,218.09 115.7,218.44 116,218.75 116.3,218.98 116.6,219.21 116.9,219.36 117.2,219.51 117.7,219.67 118.2,219.78 118.7,219.84 119.2,219.92 119.7,219.97 120.2,219.99 120.7,220.02 121.2,220.03 121.7,220 122.2,220 122.7,219.95 123.2,219.94 123.7,219.89 124.2,219.84 124.7,219.84 125.2,219.82 125.7,219.83 126.2,219.85 126.7,219.81 127.2,219.81 127.7,219.79 128.2,219.77 128.7,219.8 129.2,219.79 129.7,219.8 130.2,219.77 130.7,219.75 131.2,219.74 131.7,219.75 132.2,219.71 132.7,219.69 133.2,219.66 133.7,219.67 134.2,219.68 134.7,219.72 135.2,219.69 135.7,219.72 136.2,219.72 136.7,219.69 137.2,219.67 137.7,219.67 138.2,219.64 138.7,219.66 139.2,219.62 139.7,219.6 140.2,219.65 140.7,219.64 141.2,219.65 141.7,219.67 142.2,219.67 142.7,219.67 143.2,219.71 143.7,219.69 144.2,219.72 144.7,219.68 145.2,219.66 145.7,219.66 146.2,219.63 146.7,219.62 147.2,219.6 147.7,219.58 148.2,219.59 148.7,219.62 149.2,219.61 149.7,219.65 150.2,219.63 150.7,219.67 151.2,219.67 151.7,219.68 152.2,219.63 152.7,219.65 153.2,219.61 153.7,219.63 154.2,219.6 154.7,219.57 155.2,219.55 155.7,219.59 156.2,219.59 156.7,219.61 157.2,219.59 157.7,219.6 158.2,219.65 158.7,219.68 159.2,219.64 159.7,219.59 160.2,219.6 160.7,219.56 161.2,219.6 161.7,219.56 162.2,219.53 162.7,219.56 163.2,219.58 163.7,219.57 164.2,219.57 164.7,219.58 165.2,219.58 165.7,219.62 166.2,219.59 166.7,219.62 166.7,219.65 167,217.75 167.3,216.2 167.6,214.91 167.9,213.84 168.2,212.94 168.5,212.19 168.8,211.56 169.1,211.02 169.4,210.58 169.7,210.2 170,209.87 170.3,209.6 170.6,209.37 170.9,209.17 171.4,208.9 171.9,208.7 172.4,208.54 172.9,208.42 173.4,208.33 173.9,208.26 174.4,208.21 174.9,208.18 175.4,208.16 175.9,208.15 176.4,208.15 176.9,208.16 177.4,208.18 177.9,208.2 178.4,208.23 178.9,208.26 179.4,208.29 179.9,208.33 180.4,208.36 180.9,208.41 181.4,208.45 181.9,208.49 182.4,208.54 182.9,208.59 183.4,208.63 183.9,208.68 184.4,208.73 184.9,208.78 185.4,208.83 185.9,208.87 186.4,208.92 186.9,208.97 187.4,209.02 187.9,209.06 188.4,209.11 188.9,209.15 189.4,209.2 189.9,209.24 190.4,209.28 190.9,209.32 191.4,209.37 191.9,209.4 192.4,209.44 192.9,209.48 193.4,209.52 193.9,209.55 194.4,209.59 194.9,209.62 195.4,209.65 195.9,209.69 196.4,209.72 196.9,209.75 197,209.75" stroke="#2e2e2e" stroke-width="0.66" fill="none"/>
<polyline points="106.3,210.5 113,210.5 113.3,210.4 113.6,210.3 113.9,210.21 114.2,210.13 114.5,210.07 114.8,210.01 115.1,209.94 115.4,209.9 115.7,209.85 116,209.79 116.3,209.77 116.6,209.73 116.9,209.7 117.2,209.66 117.7,209.64 118.2,209.62 118.7,209.63 119.2,209.59 119.7,209.61 120.2,209.61 120.7,209.62 121.2,209.6 121.7,209.59 122.2,209.55 122.7,209.58 123.2,209.53 123.7,209.51 124.2,209.47 124.7,209.45 125.2,209.43 125.7,209.43 126.2,209.43 126.7,209.42 127.2,209.43 127.7,209.44 128.2,209.45 128.7,209.45 129.2,209.47 129.7,209.42 130.2,209.43 130.7,209.42 131.2,209.46 131.7,209.42 132.2,209.41 132.7,209.4 133.2,209.44 133.7,209.44 134.2,209.44 134.7,209.41 135.2,209.45 135.7,209.42 136.2,209.43 136.7,209.4 137.2,209.4 137.7,209.36 138.2,209.34 138.7,209.33 139.2,209.36 139.7,209.31 140.2,209.3 140.7,209.28 141.2,209.29 141.7,209.28 142.2,209.25 142.7,209.26 143.2,209.3 143.7,209.32 144.2,209.33 144.7,209.35 145.2,209.37 145.7,209.39 146.2,209.38 146.7,209.36 147.2,209.32 147.7,209.32 148.2,209.34 148.7,209.33 149.2,209.29 149.7,209.28 150.2,209.26 150.7,209.25 151.2,209.27 151.7,209.25 152.2,209.25 152.7,209.24 153.2,209.24 153.7,209.27 154.2,209.3 154.7,209.29 155.2,209.29 155.7,209.29 156.2,209.31 156.7,209.28 157.2,209.27 157.7,209.26 158.2,209.26 158.7,209.23 159.2,209.23 159.7,209.23 160.2,209.25 160.7,209.21 161.2,209.21 161.7,209.2 162.2,209.2 162.7,209.19 163.2,209.17 163.7,209.12 164.2,209.14 164.7,209.09 165.2,209.07 165.7,209.1 166.2,209.09 166.7,209.11 166.7,209.12 167,209.26 167.3,209.4 167.6,209.52 167.9,209.63 168.2,209.73 168.5,209.82 168.8,209.9 169.1,209.96 169.4,210.02 169.7,210.08 170,210.13 170.3,210.17 170.6,210.21 170.9,210.24 171.4,210.29 171.9,210.33 172.4,210.36 172.9,210.38 173.4,210.4 173.9,210.42 174.4,210.44 174.9,210.45 175.4,210.46 175.9,210.46 176.4,210.47 176.9,210.48 177.4,210.48 177.9,210.48 178.4,210.49 178.9,210.49 179.4,210.49 179.9,210.49 180.4,210.49 180.9,210.5 181.4,210.5 181.9,210.5 182.4,210.5 182.9,210.5 183.4,210.5 183.9,210.5 184.4,210.5 184.9,210.5 185.4,210.5 185.9,210.5 186.4,210.5 186.9,210.5 187.4,210.5 187.9,210.5 188.4,210.5 188.9,210.5 189.4,210.5 189.9,210.5 190.4,210.5 190.9,210.5 191.4,210.5 191.9,210.5 192.4,210.5 192.9,210.5 193.4,210.5 193.9,210.5 194.4,210.5 194.9,210.5 195.4,210.5 195.9,210.5 196.4,210.5 196.9,210.5 197,210.5" stroke="#2e2e2e" stroke-width="0.66" fill="none"/>
<polyline points="106.3,210.5 113,210.5 114.5,209.73 116,209.07 117.5,208.44 119,207.83 120.5,207.23 122,206.65 123.5,206.07 125,205.51 126.5,204.95 128,204.4 128.3,141.7 128.65,178 129.3,194 130.3,201.5 131.8,205.5 133.8,207.8 136.3,209 139.89,208.75 143.48,208.5 147.06,208.25 150.65,208 154.24,207.75 157.82,207.5 161.41,207.25 165,207 166.7,208 168.2,210.4 170,211.2 176,211.5 185,211 197,210.5" stroke="#2e2e2e" stroke-width="0.5" fill="none"/>
<polyline points="106.3,210.5 113,210.5 114.66,209.81 116.32,209.21 117.98,208.64 119.64,208.09 121.3,207.55 122.96,207.03 124.62,206.51 126.28,206 127.94,205.5 129.6,205 129.9,153 130.25,178 130.9,194 131.9,201.5 133.4,205.5 135.4,207.8 137.9,209 141.29,208.82 144.68,208.65 148.06,208.47 151.45,208.3 154.84,208.12 158.22,207.95 161.61,207.78 165,207.6 166.7,208 168.2,210.4 170,211.2 176,211.5 185,211 197,210.5" stroke="#2e2e2e" stroke-width="0.5" fill="none"/>
<polyline points="106.3,210.5 113,210.5" stroke="#333" stroke-width="0.8" fill="none"/>
<polyline points="168,210.9 180,211.2 197,210.7" stroke="#1a1a1a" stroke-width="0.9" fill="none"/>
<line x1="167.7" y1="184.4" x2="167.7" y2="197.9" stroke="#222" stroke-width="0.6"/>
<line x1="167.7" y1="197.9" x2="180.8" y2="197.9" stroke="#222" stroke-width="0.6"/>
<text x="148.3" y="192.4" font-size="6.4" fill="#111" stroke="#111" stroke-width="0.2" textLength="18" lengthAdjust="spacingAndGlyphs">20 mV</text>
<text x="167" y="204.5" font-size="6.4" fill="#111" stroke="#111" stroke-width="0.2" textLength="14.5" lengthAdjust="spacingAndGlyphs">0.2 s</text>
<line x1="181" y1="166.7" x2="256" y2="166.7" stroke="#8c8c8c" stroke-width="0.9"/>
<line x1="244.3" y1="142.5" x2="244.3" y2="228.4" stroke="#8c8c8c" stroke-width="0.9"/>
<line x1="193.4" y1="166.7" x2="193.4" y2="168.3" stroke="#8c8c8c" stroke-width="0.6"/>
<text x="188" y="174.1" font-size="7" fill="#111" stroke="#111" stroke-width="0.2" textLength="10.2" lengthAdjust="spacingAndGlyphs">−80</text>
<line x1="206.1" y1="166.7" x2="206.1" y2="168.3" stroke="#8c8c8c" stroke-width="0.6"/>
<text x="200.8" y="174.1" font-size="7" fill="#111" stroke="#111" stroke-width="0.2" textLength="10.2" lengthAdjust="spacingAndGlyphs">−60</text>
<line x1="218.8" y1="166.7" x2="218.8" y2="168.3" stroke="#8c8c8c" stroke-width="0.6"/>
<text x="213.4" y="174.1" font-size="7" fill="#111" stroke="#111" stroke-width="0.2" textLength="10.2" lengthAdjust="spacingAndGlyphs">−40</text>
<line x1="231.5" y1="166.7" x2="231.5" y2="168.3" stroke="#8c8c8c" stroke-width="0.6"/>
<text x="226.2" y="174.1" font-size="7" fill="#111" stroke="#111" stroke-width="0.2" textLength="10.2" lengthAdjust="spacingAndGlyphs">−20</text>
<line x1="242.7" y1="144.7" x2="244.3" y2="144.7" stroke="#8c8c8c" stroke-width="0.6"/>
<text x="242.1" y="147.2" font-size="7" fill="#111" stroke="#111" stroke-width="0.2" textLength="3.6" lengthAdjust="spacingAndGlyphs" text-anchor="end">5</text>
<line x1="242.7" y1="188.6" x2="244.3" y2="188.6" stroke="#8c8c8c" stroke-width="0.6"/>
<text x="242.1" y="191.1" font-size="7" fill="#111" stroke="#111" stroke-width="0.2" textLength="6.6" lengthAdjust="spacingAndGlyphs" text-anchor="end">−5</text>
<line x1="242.7" y1="210.6" x2="244.3" y2="210.6" stroke="#8c8c8c" stroke-width="0.6"/>
<text x="242.1" y="213.1" font-size="7" fill="#111" stroke="#111" stroke-width="0.2" textLength="9.8" lengthAdjust="spacingAndGlyphs" text-anchor="end">−10</text>
<text x="191.7" y="155.4" font-size="7.6" fill="#111" stroke="#111" stroke-width="0.22" textLength="37.5" lengthAdjust="spacingAndGlyphs">R<tspan font-size="4.2" dy="1.3" font-weight="bold">M</tspan><tspan dy="-1.3"> = 215 MΩ</tspan></text>
<text x="203" y="164.4" font-size="7" fill="#111" stroke="#111" stroke-width="0.2" textLength="15.4" lengthAdjust="spacingAndGlyphs">I (pA)</text>
<text x="247.9" y="196.8" font-size="7" fill="#111" stroke="#111" stroke-width="0.2" textLength="19" lengthAdjust="spacingAndGlyphs">V (mV)</text>
<line x1="236.5" y1="180" x2="247.5" y2="161.5" stroke="#666" stroke-width="0.8"/>
<circle cx="187.5" cy="225.6" r="1.35" stroke="#7c7c7c" stroke-width="0.75" fill="#cdcdcd"/>
<circle cx="194.1" cy="221.5" r="1.35" stroke="#7c7c7c" stroke-width="0.75" fill="#cdcdcd"/>
<circle cx="199.7" cy="218.7" r="1.35" stroke="#7c7c7c" stroke-width="0.75" fill="#cdcdcd"/>
<circle cx="206.3" cy="212.1" r="1.35" stroke="#7c7c7c" stroke-width="0.75" fill="#cdcdcd"/>
<circle cx="211.9" cy="207.8" r="1.35" stroke="#7c7c7c" stroke-width="0.75" fill="#cdcdcd"/>
<circle cx="215.6" cy="204.4" r="1.35" stroke="#7c7c7c" stroke-width="0.75" fill="#cdcdcd"/>
<circle cx="219" cy="200" r="1.35" stroke="#7c7c7c" stroke-width="0.75" fill="#cdcdcd"/>
<circle cx="222.2" cy="196.9" r="1.35" stroke="#7c7c7c" stroke-width="0.75" fill="#cdcdcd"/>
<circle cx="225.9" cy="192.3" r="1.35" stroke="#7c7c7c" stroke-width="0.75" fill="#cdcdcd"/>
<circle cx="228.75" cy="188.1" r="1.35" stroke="#7c7c7c" stroke-width="0.75" fill="#cdcdcd"/>
<circle cx="231.5" cy="185.5" r="1.35" stroke="#7c7c7c" stroke-width="0.75" fill="#cdcdcd"/>
<circle cx="233.1" cy="182.9" r="1.35" stroke="#7c7c7c" stroke-width="0.75" fill="#cdcdcd"/>
<circle cx="235.3" cy="181" r="1.35" stroke="#7c7c7c" stroke-width="0.75" fill="#cdcdcd"/>
<circle cx="237.6" cy="177.6" r="1.35" stroke="#7c7c7c" stroke-width="0.75" fill="#cdcdcd"/>
<circle cx="240.2" cy="174.4" r="1.35" stroke="#7c7c7c" stroke-width="0.75" fill="#cdcdcd"/>
<circle cx="243.4" cy="168.8" r="1.35" stroke="#7c7c7c" stroke-width="0.75" fill="#cdcdcd"/>
<circle cx="246.4" cy="164.6" r="1.35" stroke="#7c7c7c" stroke-width="0.75" fill="#cdcdcd"/>
<circle cx="249" cy="161.2" r="1.35" stroke="#7c7c7c" stroke-width="0.75" fill="#cdcdcd"/>
<circle cx="251.6" cy="157.7" r="1.35" stroke="#7c7c7c" stroke-width="0.75" fill="#cdcdcd"/>
<circle cx="248.6" cy="159.2" r="1.35" stroke="#7c7c7c" stroke-width="0.75" fill="#cdcdcd"/>
<circle cx="252.8" cy="153.5" r="1.35" stroke="#7c7c7c" stroke-width="0.75" fill="#cdcdcd"/>
<circle cx="250.8" cy="156" r="1.35" stroke="#7c7c7c" stroke-width="0.75" fill="#cdcdcd"/>
<circle cx="255" cy="150.3" r="1.35" stroke="#7c7c7c" stroke-width="0.75" fill="#cdcdcd"/>
<circle cx="256.25" cy="146.25" r="1.35" stroke="#7c7c7c" stroke-width="0.75" fill="#cdcdcd"/>
<polyline points="288.5,225.8 292.3,225.8 292.62,218.49 292.95,214.72 293.28,211.66 293.6,209 293.9,143.7 294.2,198 294.8,203.5 295.3,163 295.7,199 296.5,205.5 297.3,147.5 297.6,205 298.4,211.5 299.5,214.2 300.6,214.6 301.03,214.27 301.47,213.6 301.9,212.69 302.33,211.57 302.77,210.27 303.2,208.8 303.4,145.5 303.6,208.5 304.3,213.8 305.1,214.6 305.55,214.27 306,213.6 306.45,212.69 306.9,211.57 307.35,210.27 307.8,208.8 308,145.5 308.2,208.5 308.9,213.8 309.7,214.6 310.1,214.27 310.5,213.6 310.9,212.69 311.3,211.57 311.7,210.27 312.1,208.8 312.3,145.5 312.5,208.5 313.2,213.8 314,214.6 314.35,214.27 314.7,213.6 315.05,212.69 315.4,211.57 315.75,210.27 316.1,208.8 316.3,145.5 316.5,208.5 317.2,213.8 318,214.6 318.45,214.27 318.9,213.6 319.35,212.69 319.8,211.57 320.25,210.27 320.7,208.8 320.9,145.5 321.1,208.5 321.8,213.8 322.6,214.6 323.3,213.47 324,212.88 324.7,212.41 325.4,212 326.5,215.5 328,221.5 330,225.2 332.5,226.6 337.3,227" stroke="#8a8a8a" stroke-width="0.85" fill="none"/>
<line x1="295.4" y1="165" x2="295.4" y2="202" stroke="#6a6a6a" stroke-width="0.9"/>
<line x1="347.4" y1="207.5" x2="347.4" y2="222.6" stroke="#222" stroke-width="0.6"/>
<line x1="347.4" y1="222.6" x2="355.3" y2="222.6" stroke="#222" stroke-width="0.6"/>
<text x="327.6" y="217.8" font-size="6.4" fill="#111" stroke="#111" stroke-width="0.2" textLength="18" lengthAdjust="spacingAndGlyphs">20 mV</text>
<text x="345.2" y="231.3" font-size="6.4" fill="#111" stroke="#111" stroke-width="0.2" textLength="13.4" lengthAdjust="spacingAndGlyphs">0.2 s</text>
<line x1="388" y1="144.5" x2="388" y2="220" stroke="#8c8c8c" stroke-width="0.9"/>
<line x1="388" y1="220" x2="462.5" y2="220" stroke="#8c8c8c" stroke-width="0.9"/>
<line x1="388" y1="220" x2="388" y2="221.6" stroke="#8c8c8c" stroke-width="0.6"/>
<text x="385.7" y="228.6" font-size="6.6" fill="#111" stroke="#111" stroke-width="0.2" textLength="3.6" lengthAdjust="spacingAndGlyphs">0</text>
<line x1="396.4" y1="220" x2="396.4" y2="221.6" stroke="#8c8c8c" stroke-width="0.6"/>
<text x="394.6" y="228.6" font-size="6.6" fill="#111" stroke="#111" stroke-width="0.2" textLength="3.6" lengthAdjust="spacingAndGlyphs">1</text>
<line x1="404.8" y1="220" x2="404.8" y2="221.6" stroke="#8c8c8c" stroke-width="0.6"/>
<text x="403" y="228.6" font-size="6.6" fill="#111" stroke="#111" stroke-width="0.2" textLength="3.6" lengthAdjust="spacingAndGlyphs">2</text>
<line x1="413.2" y1="220" x2="413.2" y2="221.6" stroke="#8c8c8c" stroke-width="0.6"/>
<text x="411.4" y="228.6" font-size="6.6" fill="#111" stroke="#111" stroke-width="0.2" textLength="3.6" lengthAdjust="spacingAndGlyphs">3</text>
<line x1="421.6" y1="220" x2="421.6" y2="221.6" stroke="#8c8c8c" stroke-width="0.6"/>
<text x="419.8" y="228.6" font-size="6.6" fill="#111" stroke="#111" stroke-width="0.2" textLength="3.6" lengthAdjust="spacingAndGlyphs">4</text>
<line x1="430" y1="220" x2="430" y2="221.6" stroke="#8c8c8c" stroke-width="0.6"/>
<text x="428.2" y="228.6" font-size="6.6" fill="#111" stroke="#111" stroke-width="0.2" textLength="3.6" lengthAdjust="spacingAndGlyphs">5</text>
<line x1="438.4" y1="220" x2="438.4" y2="221.6" stroke="#8c8c8c" stroke-width="0.6"/>
<text x="436.6" y="228.6" font-size="6.6" fill="#111" stroke="#111" stroke-width="0.2" textLength="3.6" lengthAdjust="spacingAndGlyphs">6</text>
<line x1="446.8" y1="220" x2="446.8" y2="221.6" stroke="#8c8c8c" stroke-width="0.6"/>
<text x="445" y="228.6" font-size="6.6" fill="#111" stroke="#111" stroke-width="0.2" textLength="3.6" lengthAdjust="spacingAndGlyphs">7</text>
<line x1="455.2" y1="220" x2="455.2" y2="221.6" stroke="#8c8c8c" stroke-width="0.6"/>
<text x="453.4" y="228.6" font-size="6.6" fill="#111" stroke="#111" stroke-width="0.2" textLength="3.6" lengthAdjust="spacingAndGlyphs">8</text>
<line x1="463.6" y1="220" x2="463.6" y2="221.6" stroke="#8c8c8c" stroke-width="0.6"/>
<text x="461.8" y="228.6" font-size="6.6" fill="#111" stroke="#111" stroke-width="0.2" textLength="3.6" lengthAdjust="spacingAndGlyphs">9</text>
<line x1="386.2" y1="220" x2="388" y2="220" stroke="#8c8c8c" stroke-width="0.6"/>
<text x="385" y="222.4" font-size="6.6" fill="#111" stroke="#111" stroke-width="0.2" textLength="3.6" lengthAdjust="spacingAndGlyphs" text-anchor="end">0</text>
<line x1="386.2" y1="207.5" x2="388" y2="207.5" stroke="#8c8c8c" stroke-width="0.6"/>
<text x="385" y="209.9" font-size="6.6" fill="#111" stroke="#111" stroke-width="0.2" textLength="10.8" lengthAdjust="spacingAndGlyphs" text-anchor="end">100</text>
<line x1="386.2" y1="195" x2="388" y2="195" stroke="#8c8c8c" stroke-width="0.6"/>
<text x="385" y="197.4" font-size="6.6" fill="#111" stroke="#111" stroke-width="0.2" textLength="10.8" lengthAdjust="spacingAndGlyphs" text-anchor="end">200</text>
<line x1="386.2" y1="182.5" x2="388" y2="182.5" stroke="#8c8c8c" stroke-width="0.6"/>
<text x="385" y="184.9" font-size="6.6" fill="#111" stroke="#111" stroke-width="0.2" textLength="10.8" lengthAdjust="spacingAndGlyphs" text-anchor="end">300</text>
<line x1="386.2" y1="170" x2="388" y2="170" stroke="#8c8c8c" stroke-width="0.6"/>
<text x="385" y="172.4" font-size="6.6" fill="#111" stroke="#111" stroke-width="0.2" textLength="10.8" lengthAdjust="spacingAndGlyphs" text-anchor="end">400</text>
<line x1="386.2" y1="157.5" x2="388" y2="157.5" stroke="#8c8c8c" stroke-width="0.6"/>
<text x="385" y="159.9" font-size="6.6" fill="#111" stroke="#111" stroke-width="0.2" textLength="10.8" lengthAdjust="spacingAndGlyphs" text-anchor="end">500</text>
<line x1="386.2" y1="145" x2="388" y2="145" stroke="#8c8c8c" stroke-width="0.6"/>
<text x="385" y="147.4" font-size="6.6" fill="#111" stroke="#111" stroke-width="0.2" textLength="10.8" lengthAdjust="spacingAndGlyphs" text-anchor="end">600</text>
<text x="368.6" y="183" font-size="7" fill="#111" stroke="#111" stroke-width="0.2" font-weight="bold" text-anchor="middle" textLength="66" lengthAdjust="spacingAndGlyphs" transform="rotate(-90 368.6 183)">Interspike interval (ms)</text>
<text x="405.8" y="235.6" font-size="6.9" fill="#111" stroke="#111" stroke-width="0.2" textLength="42.2" lengthAdjust="spacingAndGlyphs" font-weight="bold">Interval number</text>
<polyline points="396.4,219 404.8,213.75 413.2,161.25 421.6,190.62" stroke="#888" stroke-width="0.7" fill="none"/>
<circle cx="396.4" cy="219" r="1.15" stroke="#888" stroke-width="0.6" fill="#d0d0d0"/>
<circle cx="404.8" cy="213.75" r="1.15" stroke="#888" stroke-width="0.6" fill="#d0d0d0"/>
<circle cx="413.2" cy="161.25" r="1.15" stroke="#888" stroke-width="0.6" fill="#d0d0d0"/>
<circle cx="421.6" cy="190.62" r="1.15" stroke="#888" stroke-width="0.6" fill="#d0d0d0"/>
<polyline points="396.4,219 404.8,214.38 413.2,166.88 421.6,191.25 430,195.62" stroke="#666" stroke-width="0.7" fill="none"/>
<circle cx="396.4" cy="219" r="1.15" stroke="#666" stroke-width="0.6" fill="#d0d0d0"/>
<circle cx="404.8" cy="214.38" r="1.15" stroke="#666" stroke-width="0.6" fill="#d0d0d0"/>
<circle cx="413.2" cy="166.88" r="1.15" stroke="#666" stroke-width="0.6" fill="#d0d0d0"/>
<circle cx="421.6" cy="191.25" r="1.15" stroke="#666" stroke-width="0.6" fill="#d0d0d0"/>
<circle cx="430" cy="195.62" r="1.15" stroke="#666" stroke-width="0.6" fill="#d0d0d0"/>
<polyline points="396.4,218.75 404.8,215 413.2,173.75 421.6,193.12 430,195 438.4,201.25" stroke="#999" stroke-width="0.7" fill="none"/>
<circle cx="396.4" cy="218.75" r="1.15" stroke="#999" stroke-width="0.6" fill="#d0d0d0"/>
<circle cx="404.8" cy="215" r="1.15" stroke="#999" stroke-width="0.6" fill="#d0d0d0"/>
<circle cx="413.2" cy="173.75" r="1.15" stroke="#999" stroke-width="0.6" fill="#d0d0d0"/>
<circle cx="421.6" cy="193.12" r="1.15" stroke="#999" stroke-width="0.6" fill="#d0d0d0"/>
<circle cx="430" cy="195" r="1.15" stroke="#999" stroke-width="0.6" fill="#d0d0d0"/>
<circle cx="438.4" cy="201.25" r="1.15" stroke="#999" stroke-width="0.6" fill="#d0d0d0"/>
<polyline points="396.4,218.75 404.8,215.62 413.2,178.75 421.6,195.62 430,197.5 438.4,202.5 446.8,205.62" stroke="#555" stroke-width="0.7" fill="none"/>
<circle cx="396.4" cy="218.75" r="1.15" stroke="#555" stroke-width="0.6" fill="#d0d0d0"/>
<circle cx="404.8" cy="215.62" r="1.15" stroke="#555" stroke-width="0.6" fill="#d0d0d0"/>
<circle cx="413.2" cy="178.75" r="1.15" stroke="#555" stroke-width="0.6" fill="#d0d0d0"/>
<circle cx="421.6" cy="195.62" r="1.15" stroke="#555" stroke-width="0.6" fill="#d0d0d0"/>
<circle cx="430" cy="197.5" r="1.15" stroke="#555" stroke-width="0.6" fill="#d0d0d0"/>
<circle cx="438.4" cy="202.5" r="1.15" stroke="#555" stroke-width="0.6" fill="#d0d0d0"/>
<circle cx="446.8" cy="205.62" r="1.15" stroke="#555" stroke-width="0.6" fill="#d0d0d0"/>
<polyline points="396.4,218.5 404.8,216.25 413.2,182.5 421.6,198.12 430,200 438.4,203.75 446.8,206 455.2,206.5" stroke="#777" stroke-width="0.7" fill="none"/>
<circle cx="396.4" cy="218.5" r="1.15" stroke="#777" stroke-width="0.6" fill="#d0d0d0"/>
<circle cx="404.8" cy="216.25" r="1.15" stroke="#777" stroke-width="0.6" fill="#d0d0d0"/>
<circle cx="413.2" cy="182.5" r="1.15" stroke="#777" stroke-width="0.6" fill="#d0d0d0"/>
<circle cx="421.6" cy="198.12" r="1.15" stroke="#777" stroke-width="0.6" fill="#d0d0d0"/>
<circle cx="430" cy="200" r="1.15" stroke="#777" stroke-width="0.6" fill="#d0d0d0"/>
<circle cx="438.4" cy="203.75" r="1.15" stroke="#777" stroke-width="0.6" fill="#d0d0d0"/>
<circle cx="446.8" cy="206" r="1.15" stroke="#777" stroke-width="0.6" fill="#d0d0d0"/>
<circle cx="455.2" cy="206.5" r="1.15" stroke="#777" stroke-width="0.6" fill="#d0d0d0"/>
<polyline points="396.4,218.5 404.8,216.25 413.2,187.5 421.6,200.62 430,202.5 438.4,205 446.8,206.5 455.2,206.75" stroke="#4a4a4a" stroke-width="0.7" fill="none"/>
<circle cx="396.4" cy="218.5" r="1.15" stroke="#4a4a4a" stroke-width="0.6" fill="#d0d0d0"/>
<circle cx="404.8" cy="216.25" r="1.15" stroke="#4a4a4a" stroke-width="0.6" fill="#d0d0d0"/>
<circle cx="413.2" cy="187.5" r="1.15" stroke="#4a4a4a" stroke-width="0.6" fill="#d0d0d0"/>
<circle cx="421.6" cy="200.62" r="1.15" stroke="#4a4a4a" stroke-width="0.6" fill="#d0d0d0"/>
<circle cx="430" cy="202.5" r="1.15" stroke="#4a4a4a" stroke-width="0.6" fill="#d0d0d0"/>
<circle cx="438.4" cy="205" r="1.15" stroke="#4a4a4a" stroke-width="0.6" fill="#d0d0d0"/>
<circle cx="446.8" cy="206.5" r="1.15" stroke="#4a4a4a" stroke-width="0.6" fill="#d0d0d0"/>
<circle cx="455.2" cy="206.75" r="1.15" stroke="#4a4a4a" stroke-width="0.6" fill="#d0d0d0"/>
<polyline points="396.4,218.75 404.8,216.88 413.2,191.25 421.6,202.5 430,205 438.4,206.25 446.8,206.88" stroke="#8a8a8a" stroke-width="0.7" fill="none"/>
<circle cx="396.4" cy="218.75" r="1.15" stroke="#8a8a8a" stroke-width="0.6" fill="#d0d0d0"/>
<circle cx="404.8" cy="216.88" r="1.15" stroke="#8a8a8a" stroke-width="0.6" fill="#d0d0d0"/>
<circle cx="413.2" cy="191.25" r="1.15" stroke="#8a8a8a" stroke-width="0.6" fill="#d0d0d0"/>
<circle cx="421.6" cy="202.5" r="1.15" stroke="#8a8a8a" stroke-width="0.6" fill="#d0d0d0"/>
<circle cx="430" cy="205" r="1.15" stroke="#8a8a8a" stroke-width="0.6" fill="#d0d0d0"/>
<circle cx="438.4" cy="206.25" r="1.15" stroke="#8a8a8a" stroke-width="0.6" fill="#d0d0d0"/>
<circle cx="446.8" cy="206.88" r="1.15" stroke="#8a8a8a" stroke-width="0.6" fill="#d0d0d0"/>
<polyline points="396.4,218.75 404.8,216.88 413.2,195 421.6,203.75 430,206.88 438.4,207.5" stroke="#666" stroke-width="0.7" fill="none"/>
<circle cx="396.4" cy="218.75" r="1.15" stroke="#666" stroke-width="0.6" fill="#d0d0d0"/>
<circle cx="404.8" cy="216.88" r="1.15" stroke="#666" stroke-width="0.6" fill="#d0d0d0"/>
<circle cx="413.2" cy="195" r="1.15" stroke="#666" stroke-width="0.6" fill="#d0d0d0"/>
<circle cx="421.6" cy="203.75" r="1.15" stroke="#666" stroke-width="0.6" fill="#d0d0d0"/>
<circle cx="430" cy="206.88" r="1.15" stroke="#666" stroke-width="0.6" fill="#d0d0d0"/>
<circle cx="438.4" cy="207.5" r="1.15" stroke="#666" stroke-width="0.6" fill="#d0d0d0"/>
<polyline points="396.4,218.75 404.8,216.25 413.2,201.25 421.6,204.38 430,207.5" stroke="#999" stroke-width="0.7" fill="none"/>
<circle cx="396.4" cy="218.75" r="1.15" stroke="#999" stroke-width="0.6" fill="#d0d0d0"/>
<circle cx="404.8" cy="216.25" r="1.15" stroke="#999" stroke-width="0.6" fill="#d0d0d0"/>
<circle cx="413.2" cy="201.25" r="1.15" stroke="#999" stroke-width="0.6" fill="#d0d0d0"/>
<circle cx="421.6" cy="204.38" r="1.15" stroke="#999" stroke-width="0.6" fill="#d0d0d0"/>
<circle cx="430" cy="207.5" r="1.15" stroke="#999" stroke-width="0.6" fill="#d0d0d0"/>
<polyline points="396.4,218.75 404.8,215 413.2,206.25 421.6,204.38" stroke="#777" stroke-width="0.7" fill="none"/>
<circle cx="396.4" cy="218.75" r="1.15" stroke="#777" stroke-width="0.6" fill="#d0d0d0"/>
<circle cx="404.8" cy="215" r="1.15" stroke="#777" stroke-width="0.6" fill="#d0d0d0"/>
<circle cx="413.2" cy="206.25" r="1.15" stroke="#777" stroke-width="0.6" fill="#d0d0d0"/>
<circle cx="421.6" cy="204.38" r="1.15" stroke="#777" stroke-width="0.6" fill="#d0d0d0"/>
<polyline points="396.4,218.75 404.8,216.5 413.2,212.5 421.6,204.38" stroke="#888" stroke-width="0.7" fill="none"/>
<circle cx="396.4" cy="218.75" r="1.15" stroke="#888" stroke-width="0.6" fill="#d0d0d0"/>
<circle cx="404.8" cy="216.5" r="1.15" stroke="#888" stroke-width="0.6" fill="#d0d0d0"/>
<circle cx="413.2" cy="212.5" r="1.15" stroke="#888" stroke-width="0.6" fill="#d0d0d0"/>
<circle cx="421.6" cy="204.38" r="1.15" stroke="#888" stroke-width="0.6" fill="#d0d0d0"/>
<text x="389.5" y="170" font-size="6.6" fill="#111" stroke="#111" stroke-width="0.2" textLength="19.3" lengthAdjust="spacingAndGlyphs">+30 pA</text>
<text x="445" y="215" font-size="6.6" fill="#111" stroke="#111" stroke-width="0.2" textLength="18" lengthAdjust="spacingAndGlyphs">+98 pA</text>
<polyline points="90.5,329.5 97,329.5 97.3,329.95 97.6,330.3 97.9,330.57 98.2,330.8 98.5,330.97 98.8,331.11 99.1,331.2 99.4,331.31 99.7,331.35 100,331.44 100.3,331.48 100.6,331.46 100.9,331.48 101.2,331.54 101.7,331.55 102.2,331.65 102.7,331.65 103.2,331.57 103.7,331.55 104.2,331.51 104.7,331.54 105.2,331.54 105.7,331.46 106.2,331.44 106.7,331.51 107.2,331.48 107.7,331.51 108.2,331.49 108.7,331.45 109.2,331.47 109.7,331.49 110.2,331.46 110.7,331.52 111.2,331.52 111.7,331.55 112.2,331.55 112.7,331.62 113.2,331.61 113.7,331.62 114.2,331.68 114.7,331.71 115.2,331.68 115.7,331.63 116.2,331.55 116.7,331.53 117.2,331.59 117.7,331.57 118.2,331.52 118.7,331.45 119.2,331.48 119.7,331.57 120.2,331.52 120.7,331.51 121.2,331.43 121.7,331.42 122.2,331.41 122.7,331.39 123.2,331.32 123.7,331.43 124.2,331.45 124.7,331.46 125.2,331.46 125.7,331.57 126.2,331.56 126.7,331.55 127.2,331.48 127.7,331.37 128.2,331.38 128.7,331.39 129.2,331.32 129.7,331.42 130.2,331.41 130.7,331.38 131.2,331.48 131.7,331.51 132.2,331.57 132.7,331.6 133.2,331.57 133.7,331.58 134.2,331.57 134.7,331.55 135.2,331.56 135.7,331.52 136.2,331.53 136.7,331.52 137.2,331.52 137.7,331.54 138.2,331.57 138.7,331.57 139.2,331.54 139.7,331.53 140.2,331.47 140.7,331.53 141.2,331.49 141.7,331.48 142.2,331.49 142.7,331.49 143.2,331.53 143.7,331.53 144.2,331.47 144.7,331.47 145.2,331.43 145.7,331.46 146.2,331.5 146.7,331.43 147.2,331.5 147.7,331.48 148.2,331.52 148.7,331.53 149.2,331.56 149.7,331.55 150.2,331.59 150.7,331.58 151.2,331.62 151.7,331.7 152.2,331.71 152.7,331.63 153.2,331.6 153.7,331.61 154.2,331.56 154.7,331.53 155.2,331.52 155.7,331.5 156.2,331.52 156.7,331.56 157.2,331.57 157.7,331.54 158.2,331.56 158.7,331.46 158.9,331.44 159.2,331.01 159.5,330.62 159.8,330.32 160.1,330.09 160.4,329.92 160.7,329.78 161,329.67 161.3,329.59 161.6,329.53 161.9,329.49 162.2,329.45 162.5,329.43 162.8,329.41 163.1,329.39 163.6,329.38 164.1,329.37 164.6,329.37 165.1,329.38 165.6,329.38 166.1,329.38 166.6,329.39 167.1,329.39 167.6,329.4 168.1,329.41 168.6,329.41 169.1,329.42 169.6,329.42 170.1,329.43 170.6,329.43 171.1,329.43 171.6,329.44 172.1,329.44 172.6,329.45 173.1,329.45 173.6,329.45 174.1,329.46 174.6,329.46 175.1,329.46 175.6,329.46 176,329.46" stroke="#2e2e2e" stroke-width="0.72" fill="none"/>
<polyline points="90.5,329.5 97,329.5 97.3,330.41 97.6,331.13 97.9,331.68 98.2,332.11 98.5,332.45 98.8,332.7 99.1,332.85 99.4,333.05 99.7,333.1 100,333.26 100.3,333.34 100.6,333.42 100.9,333.52 101.2,333.58 101.7,333.55 102.2,333.65 102.7,333.57 103.2,333.62 103.7,333.57 104.2,333.48 104.7,333.49 105.2,333.58 105.7,333.56 106.2,333.6 106.7,333.6 107.2,333.62 107.7,333.64 108.2,333.67 108.7,333.71 109.2,333.73 109.7,333.8 110.2,333.78 110.7,333.83 111.2,333.81 111.7,333.76 112.2,333.65 112.7,333.6 113.2,333.56 113.7,333.61 114.2,333.54 114.7,333.58 115.2,333.54 115.7,333.57 116.2,333.55 116.7,333.49 117.2,333.49 117.7,333.5 118.2,333.51 118.7,333.51 119.2,333.55 119.7,333.54 120.2,333.55 120.7,333.52 121.2,333.55 121.7,333.62 122.2,333.69 122.7,333.72 123.2,333.81 123.7,333.87 124.2,333.89 124.7,333.81 125.2,333.71 125.7,333.61 126.2,333.6 126.7,333.58 127.2,333.57 127.7,333.51 128.2,333.54 128.7,333.54 129.2,333.62 129.7,333.63 130.2,333.58 130.7,333.51 131.2,333.49 131.7,333.49 132.2,333.59 132.7,333.61 133.2,333.54 133.7,333.52 134.2,333.52 134.7,333.52 135.2,333.57 135.7,333.52 136.2,333.54 136.7,333.6 137.2,333.69 137.7,333.74 138.2,333.82 138.7,333.74 139.2,333.69 139.7,333.64 140.2,333.59 140.7,333.51 141.2,333.48 141.7,333.38 142.2,333.48 142.7,333.56 143.2,333.61 143.7,333.67 144.2,333.7 144.7,333.76 145.2,333.81 145.7,333.79 146.2,333.81 146.7,333.71 147.2,333.58 147.7,333.55 148.2,333.53 148.7,333.53 149.2,333.43 149.7,333.43 150.2,333.51 150.7,333.57 151.2,333.55 151.7,333.59 152.2,333.61 152.7,333.62 153.2,333.55 153.7,333.53 154.2,333.58 154.7,333.64 155.2,333.61 155.7,333.57 156.2,333.59 156.7,333.66 157.2,333.63 157.7,333.53 158.2,333.55 158.7,333.48 158.9,333.48 159.2,332.59 159.5,331.8 159.8,331.19 160.1,330.72 160.4,330.35 160.7,330.07 161,329.86 161.3,329.69 161.6,329.57 161.9,329.47 162.2,329.4 162.5,329.35 162.8,329.31 163.1,329.28 163.6,329.25 164.1,329.24 164.6,329.24 165.1,329.24 165.6,329.25 166.1,329.26 166.6,329.27 167.1,329.28 167.6,329.3 168.1,329.31 168.6,329.32 169.1,329.33 169.6,329.34 170.1,329.35 170.6,329.36 171.1,329.37 171.6,329.37 172.1,329.38 172.6,329.39 173.1,329.4 173.6,329.4 174.1,329.41 174.6,329.41 175.1,329.42 175.6,329.42 176,329.43" stroke="#2e2e2e" stroke-width="0.72" fill="none"/>
<polyline points="90.5,329.5 97,329.5 97.3,330.89 97.6,331.99 97.9,332.84 98.2,333.49 98.5,333.99 98.8,334.37 99.1,334.69 99.4,335 99.7,335.1 100,335.33 100.3,335.44 100.6,335.61 100.9,335.64 101.2,335.65 101.7,335.67 102.2,335.81 102.7,335.73 103.2,335.67 103.7,335.64 104.2,335.62 104.7,335.59 105.2,335.51 105.7,335.5 106.2,335.49 106.7,335.59 107.2,335.62 107.7,335.63 108.2,335.6 108.7,335.67 109.2,335.6 109.7,335.65 110.2,335.56 110.7,335.57 111.2,335.58 111.7,335.61 112.2,335.54 112.7,335.6 113.2,335.65 113.7,335.75 114.2,335.63 114.7,335.61 115.2,335.6 115.7,335.68 116.2,335.61 116.7,335.57 117.2,335.59 117.7,335.67 118.2,335.63 118.7,335.6 119.2,335.51 119.7,335.58 120.2,335.58 120.7,335.52 121.2,335.48 121.7,335.53 122.2,335.6 122.7,335.67 123.2,335.69 123.7,335.71 124.2,335.75 124.7,335.8 125.2,335.86 125.7,335.87 126.2,335.79 126.7,335.76 127.2,335.78 127.7,335.73 128.2,335.72 128.7,335.64 129.2,335.67 129.7,335.72 130.2,335.72 130.7,335.65 131.2,335.63 131.7,335.56 132.2,335.58 132.7,335.47 133.2,335.47 133.7,335.51 134.2,335.56 134.7,335.64 135.2,335.69 135.7,335.76 136.2,335.87 136.7,335.91 137.2,335.82 137.7,335.77 138.2,335.7 138.7,335.61 139.2,335.53 139.7,335.51 140.2,335.54 140.7,335.54 141.2,335.61 141.7,335.66 142.2,335.77 142.7,335.84 143.2,335.8 143.7,335.69 144.2,335.75 144.7,335.7 145.2,335.68 145.7,335.61 146.2,335.58 146.7,335.63 147.2,335.64 147.7,335.6 148.2,335.64 148.7,335.63 149.2,335.71 149.7,335.69 150.2,335.68 150.7,335.75 151.2,335.81 151.7,335.73 152.2,335.69 152.7,335.61 153.2,335.67 153.7,335.56 154.2,335.5 154.7,335.47 155.2,335.59 155.7,335.58 156.2,335.6 156.7,335.57 157.2,335.66 157.7,335.72 158.2,335.73 158.7,335.63 158.9,335.64 159.2,334.09 159.5,332.92 159.8,332.01 160.1,331.31 160.4,330.77 160.7,330.35 161,330.03 161.3,329.78 161.6,329.6 161.9,329.46 162.2,329.35 162.5,329.27 162.8,329.22 163.1,329.18 163.6,329.14 164.1,329.12 164.6,329.11 165.1,329.12 165.6,329.13 166.1,329.15 166.6,329.16 167.1,329.18 167.6,329.2 168.1,329.21 168.6,329.23 169.1,329.25 169.6,329.26 170.1,329.28 170.6,329.29 171.1,329.3 171.6,329.31 172.1,329.32 172.6,329.34 173.1,329.34 173.6,329.35 174.1,329.36 174.6,329.37 175.1,329.38 175.6,329.39 176,329.39" stroke="#2e2e2e" stroke-width="0.72" fill="none"/>
<polyline points="90.5,329.5 97,329.5 97.3,331.44 97.6,332.92 97.9,334.11 98.2,334.99 98.5,335.69 98.8,336.22 99.1,336.63 99.4,336.94 99.7,337.17 100,337.34 100.3,337.45 100.6,337.6 100.9,337.66 101.2,337.79 101.7,337.87 102.2,338.01 102.7,337.95 103.2,337.99 103.7,337.94 104.2,337.9 104.7,337.84 105.2,337.92 105.7,337.84 106.2,337.85 106.7,337.9 107.2,337.85 107.7,337.85 108.2,337.84 108.7,337.78 109.2,337.78 109.7,337.81 110.2,337.77 110.7,337.84 111.2,337.82 111.7,337.87 112.2,337.93 112.7,337.9 113.2,337.82 113.7,337.81 114.2,337.71 114.7,337.76 115.2,337.76 115.7,337.67 116.2,337.65 116.7,337.7 117.2,337.67 117.7,337.68 118.2,337.67 118.7,337.6 119.2,337.59 119.7,337.62 120.2,337.62 120.7,337.71 121.2,337.75 121.7,337.7 122.2,337.72 122.7,337.8 123.2,337.83 123.7,337.88 124.2,337.88 124.7,337.92 125.2,337.92 125.7,338.01 126.2,337.98 126.7,337.94 127.2,337.85 127.7,337.84 128.2,337.75 128.7,337.75 129.2,337.66 129.7,337.71 130.2,337.74 130.7,337.81 131.2,337.71 131.7,337.74 132.2,337.77 132.7,337.76 133.2,337.73 133.7,337.72 134.2,337.64 134.7,337.75 135.2,337.76 135.7,337.74 136.2,337.71 136.7,337.71 137.2,337.73 137.7,337.72 138.2,337.65 138.7,337.69 139.2,337.73 139.7,337.76 140.2,337.74 140.7,337.75 141.2,337.83 141.7,337.79 142.2,337.8 142.7,337.85 143.2,337.92 143.7,337.96 144.2,337.93 144.7,337.96 145.2,337.97 145.7,337.89 146.2,337.85 146.7,337.87 147.2,337.77 147.7,337.75 148.2,337.64 148.7,337.67 149.2,337.66 149.7,337.61 150.2,337.59 150.7,337.65 151.2,337.75 151.7,337.79 152.2,337.82 152.7,337.81 153.2,337.91 153.7,337.84 154.2,337.83 154.7,337.77 155.2,337.84 155.7,337.82 156.2,337.94 156.7,337.9 157.2,337.9 157.7,337.94 158.2,337.9 158.7,337.91 158.9,337.91 159.2,335.75 159.5,334.15 159.8,332.92 160.1,331.96 160.4,331.23 160.7,330.66 161,330.22 161.3,329.89 161.6,329.63 161.9,329.44 162.2,329.3 162.5,329.19 162.8,329.11 163.1,329.06 163.6,329 164.1,328.98 164.6,328.97 165.1,328.98 165.6,329 166.1,329.02 166.6,329.04 167.1,329.06 167.6,329.09 168.1,329.11 168.6,329.13 169.1,329.15 169.6,329.17 170.1,329.19 170.6,329.21 171.1,329.23 171.6,329.25 172.1,329.26 172.6,329.28 173.1,329.29 173.6,329.3 174.1,329.31 174.6,329.33 175.1,329.34 175.6,329.35 176,329.35" stroke="#2e2e2e" stroke-width="0.72" fill="none"/>
<polyline points="90.5,329.5 97,329.5 97.3,331.96 97.6,333.89 97.9,335.38 98.2,336.52 98.5,337.36 98.8,338.03 99.1,338.56 99.4,338.94 99.7,339.25 100,339.52 100.3,339.75 100.6,339.89 100.9,339.97 101.2,340.08 101.7,340.16 102.2,340.13 102.7,340.12 103.2,340.04 103.7,340.04 104.2,340.07 104.7,340.01 105.2,340.01 105.7,339.98 106.2,339.98 106.7,340.01 107.2,340.03 107.7,340.05 108.2,340.07 108.7,339.98 109.2,340.02 109.7,340 110.2,340 110.7,340.01 111.2,339.94 111.7,339.95 112.2,340.04 112.7,340 113.2,339.97 113.7,339.99 114.2,339.93 114.7,339.95 115.2,339.95 115.7,339.96 116.2,339.95 116.7,339.99 117.2,339.91 117.7,339.96 118.2,340 118.7,339.89 119.2,339.8 119.7,339.8 120.2,339.73 120.7,339.69 121.2,339.62 121.7,339.57 122.2,339.6 122.7,339.58 123.2,339.63 123.7,339.71 124.2,339.78 124.7,339.81 125.2,339.84 125.7,339.85 126.2,339.86 126.7,339.84 127.2,339.72 127.7,339.73 128.2,339.71 128.7,339.66 129.2,339.73 129.7,339.81 130.2,339.85 130.7,339.93 131.2,339.92 131.7,339.99 132.2,340.07 132.7,339.97 133.2,339.97 133.7,339.9 134.2,339.85 134.7,339.87 135.2,339.86 135.7,339.84 136.2,339.93 136.7,339.91 137.2,339.89 137.7,339.86 138.2,339.83 138.7,339.84 139.2,339.77 139.7,339.66 140.2,339.59 140.7,339.58 141.2,339.67 141.7,339.6 142.2,339.54 142.7,339.54 143.2,339.62 143.7,339.75 144.2,339.73 144.7,339.65 145.2,339.77 145.7,339.87 146.2,339.85 146.7,339.8 147.2,339.74 147.7,339.78 148.2,339.82 148.7,339.76 149.2,339.67 149.7,339.66 150.2,339.63 150.7,339.58 151.2,339.55 151.7,339.58 152.2,339.6 152.7,339.6 153.2,339.7 153.7,339.78 154.2,339.81 154.7,339.86 155.2,339.8 155.7,339.83 156.2,339.87 156.7,339.77 157.2,339.7 157.7,339.74 158.2,339.73 158.7,339.8 158.9,339.71 159.2,337.25 159.5,335.27 159.8,333.74 160.1,332.56 160.4,331.64 160.7,330.94 161,330.39 161.3,329.98 161.6,329.67 161.9,329.43 162.2,329.25 162.5,329.12 162.8,329.02 163.1,328.95 163.6,328.88 164.1,328.85 164.6,328.85 165.1,328.86 165.6,328.88 166.1,328.9 166.6,328.93 167.1,328.96 167.6,328.99 168.1,329.02 168.6,329.04 169.1,329.07 169.6,329.1 170.1,329.12 170.6,329.14 171.1,329.16 171.6,329.18 172.1,329.2 172.6,329.22 173.1,329.24 173.6,329.25 174.1,329.27 174.6,329.28 175.1,329.3 175.6,329.31 176,329.32" stroke="#2e2e2e" stroke-width="0.72" fill="none"/>
<polyline points="90.5,329.5 97,329.5 97.3,332.52 97.6,334.84 97.9,336.64 98.2,338.06 98.5,339.12 98.8,339.95 99.1,340.58 99.4,341.05 99.7,341.46 100,341.66 100.3,341.85 100.6,342.01 100.9,342.2 101.2,342.28 101.7,342.31 102.2,342.33 102.7,342.36 103.2,342.29 103.7,342.29 104.2,342.2 104.7,342.2 105.2,342.23 105.7,342.24 106.2,342.25 106.7,342.24 107.2,342.19 107.7,342.25 108.2,342.31 108.7,342.31 109.2,342.21 109.7,342.15 110.2,342.16 110.7,342.12 111.2,341.99 111.7,341.99 112.2,342.01 112.7,342 113.2,341.99 113.7,341.97 114.2,341.96 114.7,341.96 115.2,341.92 115.7,341.89 116.2,341.92 116.7,341.87 117.2,341.83 117.7,341.8 118.2,341.9 118.7,341.81 119.2,341.74 119.7,341.78 120.2,341.78 120.7,341.74 121.2,341.73 121.7,341.62 122.2,341.68 122.7,341.74 123.2,341.66 123.7,341.67 124.2,341.75 124.7,341.79 125.2,341.81 125.7,341.75 126.2,341.68 126.7,341.78 127.2,341.77 127.7,341.7 128.2,341.74 128.7,341.81 129.2,341.91 129.7,341.94 130.2,341.93 130.7,341.99 131.2,342 131.7,341.96 132.2,341.93 132.7,341.91 133.2,341.87 133.7,341.77 134.2,341.81 134.7,341.79 135.2,341.83 135.7,341.78 136.2,341.72 136.7,341.74 137.2,341.77 137.7,341.77 138.2,341.78 138.7,341.78 139.2,341.78 139.7,341.77 140.2,341.83 140.7,341.82 141.2,341.71 141.7,341.75 142.2,341.74 142.7,341.81 143.2,341.86 143.7,341.77 144.2,341.82 144.7,341.88 145.2,341.94 145.7,341.95 146.2,341.88 146.7,341.92 147.2,342.02 147.7,341.96 148.2,341.93 148.7,341.86 149.2,341.78 149.7,341.79 150.2,341.69 150.7,341.62 151.2,341.7 151.7,341.71 152.2,341.74 152.7,341.81 153.2,341.86 153.7,341.87 154.2,341.96 154.7,341.95 155.2,342.02 155.7,342.04 156.2,342.02 156.7,342.03 157.2,342.03 157.7,341.99 158.2,341.94 158.7,341.92 158.9,341.84 159.2,338.76 159.5,336.4 159.8,334.57 160.1,333.15 160.4,332.06 160.7,331.22 161,330.57 161.3,330.07 161.6,329.7 161.9,329.41 162.2,329.2 162.5,329.04 162.8,328.93 163.1,328.85 163.6,328.76 164.1,328.73 164.6,328.72 165.1,328.73 165.6,328.76 166.1,328.79 166.6,328.82 167.1,328.85 167.6,328.89 168.1,328.92 168.6,328.96 169.1,328.99 169.6,329.02 170.1,329.05 170.6,329.07 171.1,329.1 171.6,329.12 172.1,329.15 172.6,329.17 173.1,329.19 173.6,329.21 174.1,329.22 174.6,329.24 175.1,329.26 175.6,329.27 176,329.28" stroke="#2e2e2e" stroke-width="0.72" fill="none"/>
<polyline points="90.5,329.5 97,329.5 97.3,329.22 97.6,328.99 97.9,328.8 98.2,328.67 98.5,328.59 98.8,328.48 99.1,328.37 99.4,328.3 99.7,328.31 100,328.31 100.3,328.18 100.6,328.19 100.9,328.15 101.2,328.16 101.7,328.15 102.2,328.1 102.7,328.06 103.2,328.05 103.7,327.99 104.2,328.08 104.7,328.11 105.2,328.09 105.7,328.03 106.2,328.06 106.7,328.15 107.2,328.11 107.7,328.11 108.2,328.14 108.7,328.15 109.2,328.16 109.7,328.16 110.2,328.17 110.7,328.17 111.2,328.09 111.7,328 112.2,328.04 112.7,328.01 113.2,327.99 113.7,327.93 114.2,327.99 114.7,327.96 115.2,328.04 115.7,328.07 116.2,328.12 116.7,328.15 117.2,328.11 117.7,328.13 118.2,328.18 118.7,328.16 119.2,328.14 119.7,328.11 120.2,328.12 120.7,328.12 121.2,328.01 121.7,328 122.2,328.01 122.7,328.02 123.2,328.09 123.7,328.03 124.2,328.13 124.7,328.19 125.2,328.14 125.7,328.11 126.2,328.09 126.7,328.02 127.2,328.03 127.7,327.94 128.2,327.9 128.7,327.94 129.2,327.92 129.7,327.87 130.2,327.83 130.7,327.75 131.2,327.76 131.7,327.81 132.2,327.85 132.7,327.81 133.2,327.78 133.7,327.83 134.2,327.85 134.7,327.89 135.2,327.91 135.7,327.83 136.2,327.88 136.7,327.93 137.2,327.96 137.7,328.03 138.2,328.04 138.7,327.96 139.2,328.04 139.7,328.08 140.2,327.99 140.7,328.01 141.2,327.97 141.7,327.89 142.2,327.86 142.7,327.86 143.2,327.82 143.7,327.83 144.2,327.77 144.7,327.79 145.2,327.9 145.7,327.93 146.2,327.93 146.7,327.87 147.2,327.88 147.7,327.83 148.2,327.8 148.7,327.75 149.2,327.74 149.7,327.66 150.2,327.66 150.7,327.64 151.2,327.64 151.7,327.63 152.2,327.61 152.7,327.59 153.2,327.63 153.7,327.66 154.2,327.77 154.7,327.81 155.2,327.88 155.7,327.88 156.2,327.88 156.7,327.89 157.2,327.85 157.7,327.74 158.2,327.69 158.7,327.65 158.9,327.72 159.2,328.15 159.5,328.43 159.8,328.65 160.1,328.82 160.4,328.96 160.7,329.07 161,329.16 161.3,329.23 161.6,329.29 161.9,329.33 162.2,329.37 162.5,329.39 162.8,329.42 163.1,329.43 163.6,329.45 164.1,329.47 164.6,329.48 165.1,329.49 165.6,329.49 166.1,329.49 166.6,329.5 167.1,329.5 167.6,329.5 168.1,329.5 168.6,329.5 169.1,329.5 169.6,329.5 170.1,329.5 170.6,329.5 171.1,329.5 171.6,329.5 172.1,329.5 172.6,329.5 173.1,329.5 173.6,329.5 174.1,329.5 174.6,329.5 175.1,329.5 175.6,329.5 176,329.5" stroke="#2e2e2e" stroke-width="0.72" fill="none"/>
<polyline points="90.5,329.5 97,329.5 97.3,328.84 97.6,328.33 97.9,327.92 98.2,327.57 98.5,327.28 98.8,327.06 99.1,326.9 99.4,326.81 99.7,326.7 100,326.55 100.3,326.49 100.6,326.5 100.9,326.42 101.2,326.43 101.7,326.27 102.2,326.2 102.7,326.15 103.2,326.19 103.7,326.09 104.2,326.09 104.7,326 105.2,326.03 105.7,326.09 106.2,326.17 106.7,326.18 107.2,326.28 107.7,326.32 108.2,326.43 108.7,326.4 109.2,326.42 109.7,326.38 110.2,326.29 110.7,326.26 111.2,326.29 111.7,326.22 112.2,326.22 112.7,326.21 113.2,326.25 113.7,326.3 114.2,326.32 114.7,326.21 115.2,326.17 115.7,326.17 116.2,326.06 116.7,326.05 117.2,326.05 117.7,325.93 118.2,325.95 118.7,325.96 119.2,326.02 119.7,326.1 120.2,326.13 120.7,326.09 121.2,326.2 121.7,326.23 122.2,326.25 122.7,326.21 123.2,326.15 123.7,326.14 124.2,326.22 124.7,326.18 125.2,326.15 125.7,326.12 126.2,326.1 126.7,326.11 127.2,326.08 127.7,325.96 128.2,325.93 128.7,325.99 129.2,325.97 129.7,326 130.2,326.06 130.7,326.03 131.2,326.08 131.7,326.12 132.2,326.11 132.7,326.14 133.2,326.13 133.7,326.15 134.2,326.18 134.7,326.24 135.2,326.2 135.7,326.13 136.2,326.11 136.7,326.11 137.2,326.07 137.7,325.96 138.2,325.94 138.7,325.96 139.2,326.01 139.7,325.98 140.2,326.03 140.7,326 141.2,326.08 141.7,326.04 142.2,326.03 142.7,326.02 143.2,326.14 143.7,326.15 144.2,326.22 144.7,326.21 145.2,326.17 145.7,326.12 146.2,326.1 146.7,326.09 147.2,326.07 147.7,326.04 148.2,326.07 148.7,326.15 149.2,326.19 149.7,326.19 150.2,326.17 150.7,326.1 151.2,326.07 151.7,325.98 152.2,325.96 152.7,325.93 153.2,325.93 153.7,325.94 154.2,325.92 154.7,325.95 155.2,326.03 155.7,325.93 156.2,325.97 156.7,326 157.2,326 157.7,326.06 158.2,325.99 158.7,326.01 158.9,326 159.2,326.64 159.5,327.23 159.8,327.7 160.1,328.07 160.4,328.36 160.7,328.6 161,328.78 161.3,328.93 161.6,329.05 161.9,329.14 162.2,329.22 162.5,329.27 162.8,329.32 163.1,329.36 163.6,329.4 164.1,329.43 164.6,329.46 165.1,329.47 165.6,329.48 166.1,329.49 166.6,329.49 167.1,329.49 167.6,329.5 168.1,329.5 168.6,329.5 169.1,329.5 169.6,329.5 170.1,329.5 170.6,329.5 171.1,329.5 171.6,329.5 172.1,329.5 172.6,329.5 173.1,329.5 173.6,329.5 174.1,329.5 174.6,329.5 175.1,329.5 175.6,329.5 176,329.5" stroke="#2e2e2e" stroke-width="0.72" fill="none"/>
<polyline points="90.5,329.5 97,329.5 97.3,328.54 97.6,327.79 97.9,327.2 98.2,326.76 98.5,326.36 98.8,326.06 99.1,325.84 99.4,325.62 99.7,325.51 100,325.31 100.3,325.15 100.6,325.09 100.9,324.95 101.2,324.9 101.7,324.94 102.2,324.86 102.7,324.91 103.2,324.9 103.7,324.94 104.2,324.91 104.7,325 105.2,324.95 105.7,325.01 106.2,325.01 106.7,325.05 107.2,325 107.7,325.08 108.2,325.02 108.7,324.95 109.2,324.94 109.7,324.94 110.2,324.94 110.7,324.97 111.2,324.89 111.7,324.89 112.2,324.98 112.7,324.98 113.2,324.99 113.7,324.92 114.2,324.91 114.7,324.95 115.2,324.94 115.7,324.86 116.2,324.75 116.7,324.69 117.2,324.73 117.7,324.67 118.2,324.64 118.7,324.66 119.2,324.73 119.7,324.79 120.2,324.75 120.7,324.8 121.2,324.81 121.7,324.88 122.2,324.93 122.7,324.85 123.2,324.85 123.7,324.95 124.2,324.88 124.7,324.9 125.2,324.82 125.7,324.69 126.2,324.7 126.7,324.64 127.2,324.55 127.7,324.58 128.2,324.57 128.7,324.65 129.2,324.74 129.7,324.75 130.2,324.86 130.7,324.9 131.2,324.89 131.7,324.92 132.2,324.88 132.7,324.84 133.2,324.87 133.7,324.78 134.2,324.82 134.7,324.78 135.2,324.79 135.7,324.71 136.2,324.67 136.7,324.66 137.2,324.64 137.7,324.58 138.2,324.56 138.7,324.54 139.2,324.62 139.7,324.7 140.2,324.75 140.7,324.85 141.2,324.87 141.7,324.94 142.2,324.83 142.7,324.75 143.2,324.71 143.7,324.72 144.2,324.63 144.7,324.61 145.2,324.52 145.7,324.57 146.2,324.67 146.7,324.69 147.2,324.67 147.7,324.63 148.2,324.58 148.7,324.6 149.2,324.65 149.7,324.55 150.2,324.59 150.7,324.51 151.2,324.62 151.7,324.66 152.2,324.68 152.7,324.69 153.2,324.73 153.7,324.7 154.2,324.67 154.7,324.66 155.2,324.72 155.7,324.69 156.2,324.66 156.7,324.64 157.2,324.56 157.7,324.6 158.2,324.58 158.7,324.57 158.9,324.68 159.2,325.61 159.5,326.41 159.8,327.05 160.1,327.55 160.4,327.95 160.7,328.27 161,328.53 161.3,328.73 161.6,328.89 161.9,329.01 162.2,329.11 162.5,329.19 162.8,329.26 163.1,329.31 163.6,329.37 164.1,329.41 164.6,329.44 165.1,329.46 165.6,329.47 166.1,329.48 166.6,329.49 167.1,329.49 167.6,329.49 168.1,329.5 168.6,329.5 169.1,329.5 169.6,329.5 170.1,329.5 170.6,329.5 171.1,329.5 171.6,329.5 172.1,329.5 172.6,329.5 173.1,329.5 173.6,329.5 174.1,329.5 174.6,329.5 175.1,329.5 175.6,329.5 176,329.5" stroke="#2e2e2e" stroke-width="0.72" fill="none"/>
<polyline points="90.5,329.5 97,329.5 97.47,326.7 97.95,324.78 98.42,323.46 98.9,322.55 99.38,321.93 99.85,321.5 100.33,321.2 100.8,321 101,320.68 102,320.61 103,320.6 104,320.66 105,320.55 106,320.47 107,320.32 108,320.21 109,320.22 110,320.16 111,319.98 112,319.87 113,319.76 114,319.64 115,319.64 116,319.5 117,319.31 118,319.25 119,319.14 120,319.13 121,319.07 122,318.85 123,318.77 124,318.78 125,318.67 126,318.59 127,318.53 128,318.46 129,318.46 130,318.25 131,318.2 132,318.01 133,317.93 134,317.79 135,317.65 136,317.46 137,317.47 138,317.4 139,317.36 140,317.28 141,317.24 142,317.15 143,317.11 144,317.02 145,316.83 146,316.7 147,316.57 147.6,262.5 147.9,320 148.9,323.3 151,322 154,319.5 157.4,317.4 157.8,262.5 158.1,318.5 158.9,322 160.2,327.8 162,329.5 176,329.7" stroke="#2e2e2e" stroke-width="0.5" fill="none"/>
<polyline points="90.3,329.5 97,329.5" stroke="#1a1a1a" stroke-width="1" fill="none"/>
<polyline points="159.5,329.2 166,328.9 176,329.4" stroke="#1a1a1a" stroke-width="1.3" fill="none"/>
<line x1="92.8" y1="338.8" x2="92.8" y2="350" stroke="#222" stroke-width="0.6"/>
<line x1="92.8" y1="350" x2="105.6" y2="350" stroke="#222" stroke-width="0.6"/>
<text x="73.8" y="346.4" font-size="6.4" fill="#111" stroke="#111" stroke-width="0.2" textLength="18" lengthAdjust="spacingAndGlyphs">20 mV</text>
<text x="96.9" y="356.5" font-size="6.8" fill="#111" stroke="#111" stroke-width="0.2" textLength="8" lengthAdjust="spacingAndGlyphs">1 s</text>
<line x1="165.2" y1="289" x2="253.8" y2="289" stroke="#8c8c8c" stroke-width="0.9"/>
<line x1="231.3" y1="264.4" x2="231.3" y2="351.9" stroke="#8c8c8c" stroke-width="0.9"/>
<line x1="167.5" y1="289" x2="167.5" y2="290.6" stroke="#8c8c8c" stroke-width="0.6"/>
<text x="163.2" y="296.4" font-size="7" fill="#111" stroke="#111" stroke-width="0.2" textLength="10.2" lengthAdjust="spacingAndGlyphs">−30</text>
<line x1="189.2" y1="289" x2="189.2" y2="290.6" stroke="#8c8c8c" stroke-width="0.6"/>
<text x="183" y="296.4" font-size="7" fill="#111" stroke="#111" stroke-width="0.2" textLength="10.2" lengthAdjust="spacingAndGlyphs">−20</text>
<line x1="210.3" y1="289" x2="210.3" y2="290.6" stroke="#8c8c8c" stroke-width="0.6"/>
<text x="205" y="296.4" font-size="7" fill="#111" stroke="#111" stroke-width="0.2" textLength="10.2" lengthAdjust="spacingAndGlyphs">−10</text>
<line x1="252.5" y1="289" x2="252.5" y2="290.6" stroke="#8c8c8c" stroke-width="0.6"/>
<text x="249" y="296.4" font-size="7" fill="#111" stroke="#111" stroke-width="0.2" textLength="7.2" lengthAdjust="spacingAndGlyphs">10</text>
<line x1="229.7" y1="276" x2="231.3" y2="276" stroke="#8c8c8c" stroke-width="0.6"/>
<text x="229.4" y="278.5" font-size="7" fill="#111" stroke="#111" stroke-width="0.2" textLength="3.6" lengthAdjust="spacingAndGlyphs" text-anchor="end">5</text>
<line x1="229.7" y1="302.3" x2="231.3" y2="302.3" stroke="#8c8c8c" stroke-width="0.6"/>
<text x="229.4" y="304.8" font-size="7" fill="#111" stroke="#111" stroke-width="0.2" textLength="6.6" lengthAdjust="spacingAndGlyphs" text-anchor="end">−5</text>
<line x1="229.7" y1="315.4" x2="231.3" y2="315.4" stroke="#8c8c8c" stroke-width="0.6"/>
<text x="229.4" y="317.9" font-size="7" fill="#111" stroke="#111" stroke-width="0.2" textLength="9.8" lengthAdjust="spacingAndGlyphs" text-anchor="end">−10</text>
<line x1="229.7" y1="328.4" x2="231.3" y2="328.4" stroke="#8c8c8c" stroke-width="0.6"/>
<text x="229.4" y="330.9" font-size="7" fill="#111" stroke="#111" stroke-width="0.2" textLength="9.8" lengthAdjust="spacingAndGlyphs" text-anchor="end">−15</text>
<line x1="229.7" y1="341.5" x2="231.3" y2="341.5" stroke="#8c8c8c" stroke-width="0.6"/>
<text x="229.4" y="344" font-size="7" fill="#111" stroke="#111" stroke-width="0.2" textLength="9.8" lengthAdjust="spacingAndGlyphs" text-anchor="end">−20</text>
<text x="177.7" y="276.6" font-size="7.6" fill="#111" stroke="#111" stroke-width="0.22" textLength="35.4" lengthAdjust="spacingAndGlyphs">R<tspan font-size="4.2" dy="1.3" font-weight="bold">M</tspan><tspan dy="-1.3"> = 1.5 GΩ</tspan></text>
<text x="188.1" y="286.6" font-size="7" fill="#111" stroke="#111" stroke-width="0.2" textLength="15.6" lengthAdjust="spacingAndGlyphs">I (pA)</text>
<text x="235" y="318.8" font-size="7" fill="#111" stroke="#111" stroke-width="0.2" textLength="19.8" lengthAdjust="spacingAndGlyphs">V (mV)</text>
<circle cx="174.6" cy="346" r="1.35" stroke="#7c7c7c" stroke-width="0.75" fill="#cdcdcd"/>
<circle cx="176" cy="344.8" r="1.35" stroke="#7c7c7c" stroke-width="0.75" fill="#cdcdcd"/>
<circle cx="179.8" cy="342.9" r="1.35" stroke="#7c7c7c" stroke-width="0.75" fill="#cdcdcd"/>
<circle cx="189.2" cy="338.3" r="1.35" stroke="#7c7c7c" stroke-width="0.75" fill="#cdcdcd"/>
<circle cx="190.8" cy="337.7" r="1.35" stroke="#7c7c7c" stroke-width="0.75" fill="#cdcdcd"/>
<circle cx="194.4" cy="336.25" r="1.35" stroke="#7c7c7c" stroke-width="0.75" fill="#cdcdcd"/>
<circle cx="192.9" cy="332.1" r="1.35" stroke="#7c7c7c" stroke-width="0.75" fill="#cdcdcd"/>
<circle cx="197.5" cy="333.1" r="1.35" stroke="#7c7c7c" stroke-width="0.75" fill="#cdcdcd"/>
<circle cx="200.6" cy="331" r="1.35" stroke="#7c7c7c" stroke-width="0.75" fill="#cdcdcd"/>
<circle cx="204.8" cy="324.8" r="1.35" stroke="#7c7c7c" stroke-width="0.75" fill="#cdcdcd"/>
<circle cx="209" cy="320" r="1.35" stroke="#7c7c7c" stroke-width="0.75" fill="#cdcdcd"/>
<circle cx="212" cy="320" r="1.35" stroke="#7c7c7c" stroke-width="0.75" fill="#cdcdcd"/>
<circle cx="213.75" cy="315.4" r="1.35" stroke="#7c7c7c" stroke-width="0.75" fill="#cdcdcd"/>
<circle cx="215.8" cy="310.8" r="1.35" stroke="#7c7c7c" stroke-width="0.75" fill="#cdcdcd"/>
<circle cx="220.8" cy="309.6" r="1.35" stroke="#7c7c7c" stroke-width="0.75" fill="#cdcdcd"/>
<circle cx="220.8" cy="303.3" r="1.35" stroke="#7c7c7c" stroke-width="0.75" fill="#cdcdcd"/>
<circle cx="225" cy="298.3" r="1.35" stroke="#7c7c7c" stroke-width="0.75" fill="#cdcdcd"/>
<circle cx="230.8" cy="288.3" r="1.35" stroke="#7c7c7c" stroke-width="0.75" fill="#cdcdcd"/>
<circle cx="234.6" cy="281" r="1.35" stroke="#7c7c7c" stroke-width="0.75" fill="#cdcdcd"/>
<circle cx="241.7" cy="267.9" r="1.35" stroke="#7c7c7c" stroke-width="0.75" fill="#cdcdcd"/>
<circle cx="242.3" cy="270" r="1.35" stroke="#7c7c7c" stroke-width="0.75" fill="#cdcdcd"/>
<circle cx="247.1" cy="266.9" r="1.35" stroke="#7c7c7c" stroke-width="0.75" fill="#cdcdcd"/>
<line x1="224.8" y1="299" x2="235.5" y2="280.5" stroke="#777" stroke-width="0.7"/>
<polyline points="261.7,343.8 264,343.8 264.5,340.16 265,337.95 265.5,336.61 266,335.79 266.5,335.3 267,335 267.5,335.43 268.5,335.06 269.5,334.65 270.5,334.29 271.5,334.27 272.5,334.3 273.5,334.22 274.5,334.55 275.5,334.22 276.5,334.43 277.5,334.35 278.5,334.39 279.5,333.79 280.5,333.49 281.5,333.18 282.5,333.46 283.5,333.52 284.5,333.73 285.5,333.84 286.5,333.33 287.5,333.34 288.5,333.15 289.5,333.11 290.5,332.77 291.5,332.2 292.5,332.43 293.5,332.61 294.5,332.72 295.5,332.72 296.5,332.4 297.5,332.56 298.5,332.2 299.5,332.53 300.5,332.27 301.5,332.01 302.5,331.34 303.5,331.45 304.5,331.94 305.5,332.22 306.5,331.76 307.5,331.68 308.5,331.65 309.5,331.55 310.5,331.14 311.5,331.03 312.5,330.88 313.5,330.57 314.5,330.28 315.5,330.78 316.5,331.33 317.5,331.22 318.5,331.16 319.5,330.95 320.5,331.23 321.5,330.93 322.5,330.97 323.5,330.75 324.5,330.9 325.5,330.56 326.5,330.18 327.5,329.82 328.5,329.68 329.5,329.69 330.5,328 330.8,264 331.1,334 331.6,337.9 333.75,331.25 336,332 338,330.8 340,331.5 342.5,330.4 343.5,329.5 343.75,264 344,336 344.4,339.2 345.4,332.9 346.8,337.5 348.3,343 350,344.3 353.3,344.8" stroke="#555" stroke-width="0.8" fill="none"/>
<line x1="321.4" y1="337.5" x2="321.4" y2="350.5" stroke="#222" stroke-width="0.6"/>
<line x1="321.4" y1="350.5" x2="341.5" y2="350.5" stroke="#222" stroke-width="0.6"/>
<text x="301" y="346.2" font-size="6.4" fill="#111" stroke="#111" stroke-width="0.2" textLength="19.2" lengthAdjust="spacingAndGlyphs">20 mV</text>
<text x="326.5" y="358.1" font-size="6.8" fill="#111" stroke="#111" stroke-width="0.2" textLength="7.2" lengthAdjust="spacingAndGlyphs">5 s</text>
<line x1="387" y1="268.8" x2="387" y2="342.5" stroke="#8c8c8c" stroke-width="0.9"/>
<line x1="387" y1="342.5" x2="463.8" y2="342.5" stroke="#8c8c8c" stroke-width="0.9"/>
<line x1="387" y1="342.5" x2="387" y2="344.1" stroke="#8c8c8c" stroke-width="0.6"/>
<text x="385.2" y="351.1" font-size="6.6" fill="#111" stroke="#111" stroke-width="0.2" textLength="3.6" lengthAdjust="spacingAndGlyphs">0</text>
<line x1="406.05" y1="342.5" x2="406.05" y2="344.1" stroke="#8c8c8c" stroke-width="0.6"/>
<text x="404.3" y="351.1" font-size="6.6" fill="#111" stroke="#111" stroke-width="0.2" textLength="3.6" lengthAdjust="spacingAndGlyphs">5</text>
<line x1="425.1" y1="342.5" x2="425.1" y2="344.1" stroke="#8c8c8c" stroke-width="0.6"/>
<text x="421.8" y="351.1" font-size="6.6" fill="#111" stroke="#111" stroke-width="0.2" textLength="7.2" lengthAdjust="spacingAndGlyphs">10</text>
<line x1="444.15" y1="342.5" x2="444.15" y2="344.1" stroke="#8c8c8c" stroke-width="0.6"/>
<text x="440.9" y="351.1" font-size="6.6" fill="#111" stroke="#111" stroke-width="0.2" textLength="7.2" lengthAdjust="spacingAndGlyphs">15</text>
<line x1="463.2" y1="342.5" x2="463.2" y2="344.1" stroke="#8c8c8c" stroke-width="0.6"/>
<text x="459.9" y="351.1" font-size="6.6" fill="#111" stroke="#111" stroke-width="0.2" textLength="7.2" lengthAdjust="spacingAndGlyphs">20</text>
<line x1="385.2" y1="342.5" x2="387" y2="342.5" stroke="#8c8c8c" stroke-width="0.6"/>
<text x="384.2" y="344.9" font-size="6.6" fill="#111" stroke="#111" stroke-width="0.2" textLength="3.6" lengthAdjust="spacingAndGlyphs" text-anchor="end">0</text>
<line x1="385.2" y1="325.74" x2="387" y2="325.74" stroke="#8c8c8c" stroke-width="0.6"/>
<text x="384.2" y="328.14" font-size="6.6" fill="#111" stroke="#111" stroke-width="0.2" textLength="10.8" lengthAdjust="spacingAndGlyphs" text-anchor="end">200</text>
<line x1="385.2" y1="308.98" x2="387" y2="308.98" stroke="#8c8c8c" stroke-width="0.6"/>
<text x="384.2" y="311.38" font-size="6.6" fill="#111" stroke="#111" stroke-width="0.2" textLength="10.8" lengthAdjust="spacingAndGlyphs" text-anchor="end">400</text>
<line x1="385.2" y1="292.22" x2="387" y2="292.22" stroke="#8c8c8c" stroke-width="0.6"/>
<text x="384.2" y="294.62" font-size="6.6" fill="#111" stroke="#111" stroke-width="0.2" textLength="10.8" lengthAdjust="spacingAndGlyphs" text-anchor="end">600</text>
<line x1="385.2" y1="275.46" x2="387" y2="275.46" stroke="#8c8c8c" stroke-width="0.6"/>
<text x="384.2" y="277.86" font-size="6.6" fill="#111" stroke="#111" stroke-width="0.2" textLength="10.8" lengthAdjust="spacingAndGlyphs" text-anchor="end">800</text>
<text x="368.6" y="306.5" font-size="7" fill="#111" stroke="#111" stroke-width="0.2" font-weight="bold" text-anchor="middle" textLength="63" lengthAdjust="spacingAndGlyphs" transform="rotate(-90 368.6 306.5)">Interspike interval (ms)</text>
<text x="403.8" y="358" font-size="6.9" fill="#111" stroke="#111" stroke-width="0.2" textLength="44.2" lengthAdjust="spacingAndGlyphs" font-weight="bold">Interval number</text>
<polyline points="390.81,272.11 394.62,283.84 398.43,288.87 402.24,293.9 406.05,298.92 409.86,303.11 413.67,307.3 417.48,309.82 421.29,311.49 425.1,314.01 428.91,317.36 432.72,319.87 436.53,321.55 440.34,322.39" stroke="#777" stroke-width="0.7" fill="none"/>
<circle cx="390.81" cy="272.11" r="1.15" stroke="#777" stroke-width="0.6" fill="#d0d0d0"/>
<circle cx="394.62" cy="283.84" r="1.15" stroke="#777" stroke-width="0.6" fill="#d0d0d0"/>
<circle cx="398.43" cy="288.87" r="1.15" stroke="#777" stroke-width="0.6" fill="#d0d0d0"/>
<circle cx="402.24" cy="293.9" r="1.15" stroke="#777" stroke-width="0.6" fill="#d0d0d0"/>
<circle cx="406.05" cy="298.92" r="1.15" stroke="#777" stroke-width="0.6" fill="#d0d0d0"/>
<circle cx="409.86" cy="303.11" r="1.15" stroke="#777" stroke-width="0.6" fill="#d0d0d0"/>
<circle cx="413.67" cy="307.3" r="1.15" stroke="#777" stroke-width="0.6" fill="#d0d0d0"/>
<circle cx="417.48" cy="309.82" r="1.15" stroke="#777" stroke-width="0.6" fill="#d0d0d0"/>
<circle cx="421.29" cy="311.49" r="1.15" stroke="#777" stroke-width="0.6" fill="#d0d0d0"/>
<circle cx="425.1" cy="314.01" r="1.15" stroke="#777" stroke-width="0.6" fill="#d0d0d0"/>
<circle cx="428.91" cy="317.36" r="1.15" stroke="#777" stroke-width="0.6" fill="#d0d0d0"/>
<circle cx="432.72" cy="319.87" r="1.15" stroke="#777" stroke-width="0.6" fill="#d0d0d0"/>
<circle cx="436.53" cy="321.55" r="1.15" stroke="#777" stroke-width="0.6" fill="#d0d0d0"/>
<circle cx="440.34" cy="322.39" r="1.15" stroke="#777" stroke-width="0.6" fill="#d0d0d0"/>
<polyline points="390.81,281.33 394.62,289.71 398.43,295.57 402.24,302.28 406.05,295.57 409.86,304.79 413.67,308.98 417.48,309.82 421.29,311.49 425.1,309.82 428.91,314.85 432.72,319.04 436.53,321.55 440.34,322.39 444.15,321.55" stroke="#999" stroke-width="0.7" fill="none"/>
<circle cx="390.81" cy="281.33" r="1.15" stroke="#999" stroke-width="0.6" fill="#d0d0d0"/>
<circle cx="394.62" cy="289.71" r="1.15" stroke="#999" stroke-width="0.6" fill="#d0d0d0"/>
<circle cx="398.43" cy="295.57" r="1.15" stroke="#999" stroke-width="0.6" fill="#d0d0d0"/>
<circle cx="402.24" cy="302.28" r="1.15" stroke="#999" stroke-width="0.6" fill="#d0d0d0"/>
<circle cx="406.05" cy="295.57" r="1.15" stroke="#999" stroke-width="0.6" fill="#d0d0d0"/>
<circle cx="409.86" cy="304.79" r="1.15" stroke="#999" stroke-width="0.6" fill="#d0d0d0"/>
<circle cx="413.67" cy="308.98" r="1.15" stroke="#999" stroke-width="0.6" fill="#d0d0d0"/>
<circle cx="417.48" cy="309.82" r="1.15" stroke="#999" stroke-width="0.6" fill="#d0d0d0"/>
<circle cx="421.29" cy="311.49" r="1.15" stroke="#999" stroke-width="0.6" fill="#d0d0d0"/>
<circle cx="425.1" cy="309.82" r="1.15" stroke="#999" stroke-width="0.6" fill="#d0d0d0"/>
<circle cx="428.91" cy="314.85" r="1.15" stroke="#999" stroke-width="0.6" fill="#d0d0d0"/>
<circle cx="432.72" cy="319.04" r="1.15" stroke="#999" stroke-width="0.6" fill="#d0d0d0"/>
<circle cx="436.53" cy="321.55" r="1.15" stroke="#999" stroke-width="0.6" fill="#d0d0d0"/>
<circle cx="440.34" cy="322.39" r="1.15" stroke="#999" stroke-width="0.6" fill="#d0d0d0"/>
<circle cx="444.15" cy="321.55" r="1.15" stroke="#999" stroke-width="0.6" fill="#d0d0d0"/>
<polyline points="390.81,289.71 394.62,296.41 398.43,302.28 402.24,308.14 406.05,309.82 409.86,308.98 413.67,310.66 417.48,312.33 421.29,314.85 425.1,310.66 428.91,316.52 432.72,320.71 436.53,322.39 440.34,323.23 444.15,321.55 447.96,319.87" stroke="#666" stroke-width="0.7" fill="none"/>
<circle cx="390.81" cy="289.71" r="1.15" stroke="#666" stroke-width="0.6" fill="#d0d0d0"/>
<circle cx="394.62" cy="296.41" r="1.15" stroke="#666" stroke-width="0.6" fill="#d0d0d0"/>
<circle cx="398.43" cy="302.28" r="1.15" stroke="#666" stroke-width="0.6" fill="#d0d0d0"/>
<circle cx="402.24" cy="308.14" r="1.15" stroke="#666" stroke-width="0.6" fill="#d0d0d0"/>
<circle cx="406.05" cy="309.82" r="1.15" stroke="#666" stroke-width="0.6" fill="#d0d0d0"/>
<circle cx="409.86" cy="308.98" r="1.15" stroke="#666" stroke-width="0.6" fill="#d0d0d0"/>
<circle cx="413.67" cy="310.66" r="1.15" stroke="#666" stroke-width="0.6" fill="#d0d0d0"/>
<circle cx="417.48" cy="312.33" r="1.15" stroke="#666" stroke-width="0.6" fill="#d0d0d0"/>
<circle cx="421.29" cy="314.85" r="1.15" stroke="#666" stroke-width="0.6" fill="#d0d0d0"/>
<circle cx="425.1" cy="310.66" r="1.15" stroke="#666" stroke-width="0.6" fill="#d0d0d0"/>
<circle cx="428.91" cy="316.52" r="1.15" stroke="#666" stroke-width="0.6" fill="#d0d0d0"/>
<circle cx="432.72" cy="320.71" r="1.15" stroke="#666" stroke-width="0.6" fill="#d0d0d0"/>
<circle cx="436.53" cy="322.39" r="1.15" stroke="#666" stroke-width="0.6" fill="#d0d0d0"/>
<circle cx="440.34" cy="323.23" r="1.15" stroke="#666" stroke-width="0.6" fill="#d0d0d0"/>
<circle cx="444.15" cy="321.55" r="1.15" stroke="#666" stroke-width="0.6" fill="#d0d0d0"/>
<circle cx="447.96" cy="319.87" r="1.15" stroke="#666" stroke-width="0.6" fill="#d0d0d0"/>
<polyline points="390.81,297.25 394.62,303.95 398.43,308.98 402.24,313.17 406.05,314.85 409.86,315.68 413.67,317.36 417.48,318.2 421.29,317.36 425.1,319.04 428.91,320.71 432.72,322.39 436.53,323.23 440.34,324.06 444.15,324.06 447.96,323.23 451.77,324.06" stroke="#8a8a8a" stroke-width="0.7" fill="none"/>
<circle cx="390.81" cy="297.25" r="1.15" stroke="#8a8a8a" stroke-width="0.6" fill="#d0d0d0"/>
<circle cx="394.62" cy="303.95" r="1.15" stroke="#8a8a8a" stroke-width="0.6" fill="#d0d0d0"/>
<circle cx="398.43" cy="308.98" r="1.15" stroke="#8a8a8a" stroke-width="0.6" fill="#d0d0d0"/>
<circle cx="402.24" cy="313.17" r="1.15" stroke="#8a8a8a" stroke-width="0.6" fill="#d0d0d0"/>
<circle cx="406.05" cy="314.85" r="1.15" stroke="#8a8a8a" stroke-width="0.6" fill="#d0d0d0"/>
<circle cx="409.86" cy="315.68" r="1.15" stroke="#8a8a8a" stroke-width="0.6" fill="#d0d0d0"/>
<circle cx="413.67" cy="317.36" r="1.15" stroke="#8a8a8a" stroke-width="0.6" fill="#d0d0d0"/>
<circle cx="417.48" cy="318.2" r="1.15" stroke="#8a8a8a" stroke-width="0.6" fill="#d0d0d0"/>
<circle cx="421.29" cy="317.36" r="1.15" stroke="#8a8a8a" stroke-width="0.6" fill="#d0d0d0"/>
<circle cx="425.1" cy="319.04" r="1.15" stroke="#8a8a8a" stroke-width="0.6" fill="#d0d0d0"/>
<circle cx="428.91" cy="320.71" r="1.15" stroke="#8a8a8a" stroke-width="0.6" fill="#d0d0d0"/>
<circle cx="432.72" cy="322.39" r="1.15" stroke="#8a8a8a" stroke-width="0.6" fill="#d0d0d0"/>
<circle cx="436.53" cy="323.23" r="1.15" stroke="#8a8a8a" stroke-width="0.6" fill="#d0d0d0"/>
<circle cx="440.34" cy="324.06" r="1.15" stroke="#8a8a8a" stroke-width="0.6" fill="#d0d0d0"/>
<circle cx="444.15" cy="324.06" r="1.15" stroke="#8a8a8a" stroke-width="0.6" fill="#d0d0d0"/>
<circle cx="447.96" cy="323.23" r="1.15" stroke="#8a8a8a" stroke-width="0.6" fill="#d0d0d0"/>
<circle cx="451.77" cy="324.06" r="1.15" stroke="#8a8a8a" stroke-width="0.6" fill="#d0d0d0"/>
<polyline points="390.81,303.95 394.62,308.98 398.43,314.01 402.24,315.68 406.05,317.36 409.86,318.2 413.67,319.04 417.48,317.36 421.29,318.2 425.1,320.71 428.91,322.39 432.72,324.06 436.53,324.9 440.34,324.06 444.15,323.23 447.96,324.9 451.77,324.06 455.58,323.23" stroke="#777" stroke-width="0.7" fill="none"/>
<circle cx="390.81" cy="303.95" r="1.15" stroke="#777" stroke-width="0.6" fill="#d0d0d0"/>
<circle cx="394.62" cy="308.98" r="1.15" stroke="#777" stroke-width="0.6" fill="#d0d0d0"/>
<circle cx="398.43" cy="314.01" r="1.15" stroke="#777" stroke-width="0.6" fill="#d0d0d0"/>
<circle cx="402.24" cy="315.68" r="1.15" stroke="#777" stroke-width="0.6" fill="#d0d0d0"/>
<circle cx="406.05" cy="317.36" r="1.15" stroke="#777" stroke-width="0.6" fill="#d0d0d0"/>
<circle cx="409.86" cy="318.2" r="1.15" stroke="#777" stroke-width="0.6" fill="#d0d0d0"/>
<circle cx="413.67" cy="319.04" r="1.15" stroke="#777" stroke-width="0.6" fill="#d0d0d0"/>
<circle cx="417.48" cy="317.36" r="1.15" stroke="#777" stroke-width="0.6" fill="#d0d0d0"/>
<circle cx="421.29" cy="318.2" r="1.15" stroke="#777" stroke-width="0.6" fill="#d0d0d0"/>
<circle cx="425.1" cy="320.71" r="1.15" stroke="#777" stroke-width="0.6" fill="#d0d0d0"/>
<circle cx="428.91" cy="322.39" r="1.15" stroke="#777" stroke-width="0.6" fill="#d0d0d0"/>
<circle cx="432.72" cy="324.06" r="1.15" stroke="#777" stroke-width="0.6" fill="#d0d0d0"/>
<circle cx="436.53" cy="324.9" r="1.15" stroke="#777" stroke-width="0.6" fill="#d0d0d0"/>
<circle cx="440.34" cy="324.06" r="1.15" stroke="#777" stroke-width="0.6" fill="#d0d0d0"/>
<circle cx="444.15" cy="323.23" r="1.15" stroke="#777" stroke-width="0.6" fill="#d0d0d0"/>
<circle cx="447.96" cy="324.9" r="1.15" stroke="#777" stroke-width="0.6" fill="#d0d0d0"/>
<circle cx="451.77" cy="324.06" r="1.15" stroke="#777" stroke-width="0.6" fill="#d0d0d0"/>
<circle cx="455.58" cy="323.23" r="1.15" stroke="#777" stroke-width="0.6" fill="#d0d0d0"/>
<polyline points="390.81,310.66 394.62,314.85 398.43,317.36 402.24,318.2 406.05,319.87 409.86,320.71 413.67,321.55 417.48,322.39 421.29,321.55 425.1,323.23 428.91,324.06 432.72,324.9 436.53,324.06 440.34,324.9 444.15,325.74 447.96,324.9 451.77,324.06 455.58,323.23 459.39,324.06" stroke="#999" stroke-width="0.7" fill="none"/>
<circle cx="390.81" cy="310.66" r="1.15" stroke="#999" stroke-width="0.6" fill="#d0d0d0"/>
<circle cx="394.62" cy="314.85" r="1.15" stroke="#999" stroke-width="0.6" fill="#d0d0d0"/>
<circle cx="398.43" cy="317.36" r="1.15" stroke="#999" stroke-width="0.6" fill="#d0d0d0"/>
<circle cx="402.24" cy="318.2" r="1.15" stroke="#999" stroke-width="0.6" fill="#d0d0d0"/>
<circle cx="406.05" cy="319.87" r="1.15" stroke="#999" stroke-width="0.6" fill="#d0d0d0"/>
<circle cx="409.86" cy="320.71" r="1.15" stroke="#999" stroke-width="0.6" fill="#d0d0d0"/>
<circle cx="413.67" cy="321.55" r="1.15" stroke="#999" stroke-width="0.6" fill="#d0d0d0"/>
<circle cx="417.48" cy="322.39" r="1.15" stroke="#999" stroke-width="0.6" fill="#d0d0d0"/>
<circle cx="421.29" cy="321.55" r="1.15" stroke="#999" stroke-width="0.6" fill="#d0d0d0"/>
<circle cx="425.1" cy="323.23" r="1.15" stroke="#999" stroke-width="0.6" fill="#d0d0d0"/>
<circle cx="428.91" cy="324.06" r="1.15" stroke="#999" stroke-width="0.6" fill="#d0d0d0"/>
<circle cx="432.72" cy="324.9" r="1.15" stroke="#999" stroke-width="0.6" fill="#d0d0d0"/>
<circle cx="436.53" cy="324.06" r="1.15" stroke="#999" stroke-width="0.6" fill="#d0d0d0"/>
<circle cx="440.34" cy="324.9" r="1.15" stroke="#999" stroke-width="0.6" fill="#d0d0d0"/>
<circle cx="444.15" cy="325.74" r="1.15" stroke="#999" stroke-width="0.6" fill="#d0d0d0"/>
<circle cx="447.96" cy="324.9" r="1.15" stroke="#999" stroke-width="0.6" fill="#d0d0d0"/>
<circle cx="451.77" cy="324.06" r="1.15" stroke="#999" stroke-width="0.6" fill="#d0d0d0"/>
<circle cx="455.58" cy="323.23" r="1.15" stroke="#999" stroke-width="0.6" fill="#d0d0d0"/>
<circle cx="459.39" cy="324.06" r="1.15" stroke="#999" stroke-width="0.6" fill="#d0d0d0"/>
<polyline points="390.81,317.36 394.62,319.04 398.43,319.87 402.24,319.04 406.05,321.55 409.86,322.39 413.67,323.23 417.48,323.23 421.29,324.06 425.1,324.9 428.91,324.9 432.72,325.74 436.53,324.9 440.34,325.74 444.15,324.9 447.96,325.74 451.77,324.9 455.58,324.06 459.39,324.06 463.2,323.23" stroke="#6a6a6a" stroke-width="0.7" fill="none"/>
<circle cx="390.81" cy="317.36" r="1.15" stroke="#6a6a6a" stroke-width="0.6" fill="#d0d0d0"/>
<circle cx="394.62" cy="319.04" r="1.15" stroke="#6a6a6a" stroke-width="0.6" fill="#d0d0d0"/>
<circle cx="398.43" cy="319.87" r="1.15" stroke="#6a6a6a" stroke-width="0.6" fill="#d0d0d0"/>
<circle cx="402.24" cy="319.04" r="1.15" stroke="#6a6a6a" stroke-width="0.6" fill="#d0d0d0"/>
<circle cx="406.05" cy="321.55" r="1.15" stroke="#6a6a6a" stroke-width="0.6" fill="#d0d0d0"/>
<circle cx="409.86" cy="322.39" r="1.15" stroke="#6a6a6a" stroke-width="0.6" fill="#d0d0d0"/>
<circle cx="413.67" cy="323.23" r="1.15" stroke="#6a6a6a" stroke-width="0.6" fill="#d0d0d0"/>
<circle cx="417.48" cy="323.23" r="1.15" stroke="#6a6a6a" stroke-width="0.6" fill="#d0d0d0"/>
<circle cx="421.29" cy="324.06" r="1.15" stroke="#6a6a6a" stroke-width="0.6" fill="#d0d0d0"/>
<circle cx="425.1" cy="324.9" r="1.15" stroke="#6a6a6a" stroke-width="0.6" fill="#d0d0d0"/>
<circle cx="428.91" cy="324.9" r="1.15" stroke="#6a6a6a" stroke-width="0.6" fill="#d0d0d0"/>
<circle cx="432.72" cy="325.74" r="1.15" stroke="#6a6a6a" stroke-width="0.6" fill="#d0d0d0"/>
<circle cx="436.53" cy="324.9" r="1.15" stroke="#6a6a6a" stroke-width="0.6" fill="#d0d0d0"/>
<circle cx="440.34" cy="325.74" r="1.15" stroke="#6a6a6a" stroke-width="0.6" fill="#d0d0d0"/>
<circle cx="444.15" cy="324.9" r="1.15" stroke="#6a6a6a" stroke-width="0.6" fill="#d0d0d0"/>
<circle cx="447.96" cy="325.74" r="1.15" stroke="#6a6a6a" stroke-width="0.6" fill="#d0d0d0"/>
<circle cx="451.77" cy="324.9" r="1.15" stroke="#6a6a6a" stroke-width="0.6" fill="#d0d0d0"/>
<circle cx="455.58" cy="324.06" r="1.15" stroke="#6a6a6a" stroke-width="0.6" fill="#d0d0d0"/>
<circle cx="459.39" cy="324.06" r="1.15" stroke="#6a6a6a" stroke-width="0.6" fill="#d0d0d0"/>
<circle cx="463.2" cy="323.23" r="1.15" stroke="#6a6a6a" stroke-width="0.6" fill="#d0d0d0"/>
<polyline points="390.81,320.71 394.62,321.55 398.43,322.39 402.24,323.23 406.05,324.06 409.86,324.9 413.67,325.74 417.48,325.74 421.29,324.9 425.1,325.74 428.91,325.74 432.72,325.74 436.53,324.9 440.34,325.74 444.15,325.74 447.96,324.9 451.77,324.06 455.58,324.06 459.39,323.23 463.2,322.39" stroke="#888" stroke-width="0.7" fill="none"/>
<circle cx="390.81" cy="320.71" r="1.15" stroke="#888" stroke-width="0.6" fill="#d0d0d0"/>
<circle cx="394.62" cy="321.55" r="1.15" stroke="#888" stroke-width="0.6" fill="#d0d0d0"/>
<circle cx="398.43" cy="322.39" r="1.15" stroke="#888" stroke-width="0.6" fill="#d0d0d0"/>
<circle cx="402.24" cy="323.23" r="1.15" stroke="#888" stroke-width="0.6" fill="#d0d0d0"/>
<circle cx="406.05" cy="324.06" r="1.15" stroke="#888" stroke-width="0.6" fill="#d0d0d0"/>
<circle cx="409.86" cy="324.9" r="1.15" stroke="#888" stroke-width="0.6" fill="#d0d0d0"/>
<circle cx="413.67" cy="325.74" r="1.15" stroke="#888" stroke-width="0.6" fill="#d0d0d0"/>
<circle cx="417.48" cy="325.74" r="1.15" stroke="#888" stroke-width="0.6" fill="#d0d0d0"/>
<circle cx="421.29" cy="324.9" r="1.15" stroke="#888" stroke-width="0.6" fill="#d0d0d0"/>
<circle cx="425.1" cy="325.74" r="1.15" stroke="#888" stroke-width="0.6" fill="#d0d0d0"/>
<circle cx="428.91" cy="325.74" r="1.15" stroke="#888" stroke-width="0.6" fill="#d0d0d0"/>
<circle cx="432.72" cy="325.74" r="1.15" stroke="#888" stroke-width="0.6" fill="#d0d0d0"/>
<circle cx="436.53" cy="324.9" r="1.15" stroke="#888" stroke-width="0.6" fill="#d0d0d0"/>
<circle cx="440.34" cy="325.74" r="1.15" stroke="#888" stroke-width="0.6" fill="#d0d0d0"/>
<circle cx="444.15" cy="325.74" r="1.15" stroke="#888" stroke-width="0.6" fill="#d0d0d0"/>
<circle cx="447.96" cy="324.9" r="1.15" stroke="#888" stroke-width="0.6" fill="#d0d0d0"/>
<circle cx="451.77" cy="324.06" r="1.15" stroke="#888" stroke-width="0.6" fill="#d0d0d0"/>
<circle cx="455.58" cy="324.06" r="1.15" stroke="#888" stroke-width="0.6" fill="#d0d0d0"/>
<circle cx="459.39" cy="323.23" r="1.15" stroke="#888" stroke-width="0.6" fill="#d0d0d0"/>
<circle cx="463.2" cy="322.39" r="1.15" stroke="#888" stroke-width="0.6" fill="#d0d0d0"/>
<polyline points="390.81,322.39 394.62,323.23 398.43,324.06 402.24,324.9 406.05,325.74 409.86,325.74 413.67,326.58 417.48,326.58 421.29,325.74 425.1,325.74 428.91,326.58 432.72,325.74" stroke="#999" stroke-width="0.7" fill="none"/>
<circle cx="390.81" cy="322.39" r="1.15" stroke="#999" stroke-width="0.6" fill="#d0d0d0"/>
<circle cx="394.62" cy="323.23" r="1.15" stroke="#999" stroke-width="0.6" fill="#d0d0d0"/>
<circle cx="398.43" cy="324.06" r="1.15" stroke="#999" stroke-width="0.6" fill="#d0d0d0"/>
<circle cx="402.24" cy="324.9" r="1.15" stroke="#999" stroke-width="0.6" fill="#d0d0d0"/>
<circle cx="406.05" cy="325.74" r="1.15" stroke="#999" stroke-width="0.6" fill="#d0d0d0"/>
<circle cx="409.86" cy="325.74" r="1.15" stroke="#999" stroke-width="0.6" fill="#d0d0d0"/>
<circle cx="413.67" cy="326.58" r="1.15" stroke="#999" stroke-width="0.6" fill="#d0d0d0"/>
<circle cx="417.48" cy="326.58" r="1.15" stroke="#999" stroke-width="0.6" fill="#d0d0d0"/>
<circle cx="421.29" cy="325.74" r="1.15" stroke="#999" stroke-width="0.6" fill="#d0d0d0"/>
<circle cx="425.1" cy="325.74" r="1.15" stroke="#999" stroke-width="0.6" fill="#d0d0d0"/>
<circle cx="428.91" cy="326.58" r="1.15" stroke="#999" stroke-width="0.6" fill="#d0d0d0"/>
<circle cx="432.72" cy="325.74" r="1.15" stroke="#999" stroke-width="0.6" fill="#d0d0d0"/>
<text x="390.5" y="274.5" font-size="6.6" fill="#111" stroke="#111" stroke-width="0.2" textLength="18.5" lengthAdjust="spacingAndGlyphs">+9 pA</text>
<text x="445" y="335" font-size="6.6" fill="#111" stroke="#111" stroke-width="0.2" textLength="19.2" lengthAdjust="spacingAndGlyphs">+24 pA</text>
<text x="41.9" y="391" font-size="10.4" fill="#111" stroke="#111" stroke-width="0.1" textLength="29.2" lengthAdjust="spacingAndGlyphs">FS cell</text>
<polyline points="16,458.5 26,458.5 26.4,452 26.75,444 26.9,394.6 27.25,444.5 27.8,449 28.4,450.3 31,445 31.5,394.6 31.85,444.5 32.4,449 33,450.3 34.3,445 34.8,394.6 35.15,444.5 35.7,449 36.3,450.3 37.7,445 38.2,394.6 38.55,444.5 39.1,449 39.7,450.3 41,445 41.5,394.6 41.85,444.5 42.4,449 43,450.3 44.3,445 44.8,394.6 45.15,444.5 45.7,449 46.3,450.3 47.7,445 48.2,394.6 48.55,444.5 49.1,449 49.7,450.3 51.4,445 51.9,394.6 52.25,444.5 52.8,449 53.4,450.3 55.2,445 55.7,394.6 56.05,444.5 56.6,449 57.2,450.3 58.9,445 59.4,394.6 59.75,444.5 60.3,449 60.9,450.3 62.25,445 62.75,394.6 63.1,444.5 63.65,449 64.25,450.3 65.75,445 66.25,394.6 66.6,444.5 67.15,449 67.75,450.3 69.5,445 70,394.6 70.35,444.5 70.9,449 71.5,450.3 72.9,445 73.4,394.6 73.75,444.5 74.3,449 74.9,450.3 76.4,445 76.9,394.6 77.25,444.5 77.8,449 78.4,450.3 79.8,445 80.3,394.6 80.65,444.5 81.2,449 81.8,450.3 83.6,445 84.1,394.6 84.45,444.5 85,449 85.6,450.3 87.15,445 87.65,394.6 88,444.5 88.55,449 89.15,450.3 91.06,445 91.56,394.6 91.91,444.5 92.46,449 93.06,450.3 94.8,445 95.3,394.6 95.65,444.5 96.2,449 96.8,450.3 98.56,445 99.06,394.6 99.41,444.5 99.96,449 100.56,450.3 102.3,445 102.8,394.6 103.15,444.5 103.7,449 104.3,450.3 104.2,447.5 105.2,452 106.5,457.5 108,458.6 125,458.6" stroke="#7a7a7a" stroke-width="0.68" fill="none"/>
<polyline points="16,458.5 26,458.5 27.2,450 28.2,444 28.45,396 28.8,444.5 29.6,449.2 31,449.8" stroke="#a8a8a8" stroke-width="0.5" fill="none"/>
<polyline points="16,458.5 26,458.5 26.3,457.17 26.6,456.13 26.9,455.33 27.2,454.7 27.5,454.21 27.8,453.84 28.1,453.56 28.4,453.33 28.7,453.15 29,453.04 29.3,452.94 29.6,452.83 29.9,452.74 30.2,452.67 30.7,452.62 31.2,452.61 31.7,452.56 32.2,452.55 32.7,452.53 33.2,452.53 33.7,452.53 34.2,452.5 34.7,452.47 35.2,452.48 35.7,452.48 36.2,452.48 36.7,452.47 37.2,452.49 37.7,452.51 38.2,452.53 38.7,452.53 39.2,452.52 39.7,452.53 40.2,452.52 40.7,452.49 41.2,452.45 41.7,452.47 42.2,452.46 42.7,452.46 43.2,452.5 43.7,452.55 44.2,452.54 44.7,452.56 45.2,452.51 45.7,452.53 46.2,452.53 46.7,452.5 47.2,452.47 47.7,452.48 48.2,452.48 48.7,452.52 49.2,452.53 49.7,452.54 50.2,452.56 50.7,452.56 51.2,452.57 51.7,452.56 52.2,452.58 52.7,452.53 53.2,452.49 53.7,452.45 54.2,452.48 54.7,452.51 55.2,452.51 55.7,452.5 56.2,452.55 56.7,452.57 57.2,452.56 57.7,452.55 58.2,452.52 58.7,452.51 59.2,452.51 59.7,452.48 60.2,452.48 60.7,452.51 61.2,452.47 61.7,452.45 62.2,452.47 62.7,452.44 63.2,452.41 63.7,452.41 64.2,452.42 64.7,452.42 65.2,452.46 65.7,452.48 66.2,452.47 66.7,452.47 67.2,452.49 67.7,452.48 68.2,452.47 68.7,452.45 69.2,452.46 69.7,452.5 70.2,452.52 70.7,452.51 71.2,452.51 71.7,452.51 72.2,452.5 72.7,452.47 73.2,452.45 73.7,452.47 74.2,452.47 74.7,452.44 75.2,452.44 75.7,452.45 76.2,452.46 76.7,452.44 77.2,452.46 77.7,452.43 78.2,452.49 78.7,452.49 79.2,452.52 79.7,452.51 80.2,452.53 80.7,452.49 81.2,452.49 81.7,452.48 82.2,452.51 82.7,452.48 83.2,452.51 83.7,452.5 84.2,452.54 84.7,452.54 85.2,452.52 85.7,452.48 86.2,452.5 86.7,452.5 87.2,452.52 87.7,452.5 88.2,452.52 88.7,452.54 89.2,452.54 89.7,452.51 90.2,452.51 90.7,452.49 91.2,452.51 91.7,452.5 92.2,452.48 92.7,452.48 93.2,452.47 93.7,452.43 94.2,452.4 94.7,452.37 95.2,452.39 95.7,452.39 96.2,452.39 96.7,452.44 97.2,452.46 97.7,452.52 98.2,452.51 98.7,452.51 99.2,452.51 99.7,452.52 100.2,452.52 100.7,452.51 101.2,452.5 101.7,452.51 102.2,452.5 102.7,452.51 103.2,452.52 103.7,452.48 104.2,452.48 104.7,452.48 105,452.48 105.3,453.83 105.6,454.86 105.9,455.67 106.2,456.29 106.5,456.78 106.8,457.16 107.1,457.46 107.4,457.69 107.7,457.87 108,458.01 108.3,458.12 108.6,458.2 108.9,458.27 109.2,458.32 109.7,458.38 110.2,458.42 110.7,458.45 111.2,458.47 111.7,458.48 112.2,458.49 112.7,458.49 113.2,458.49 113.7,458.5 114.2,458.5 114.7,458.5 115.2,458.5 115.7,458.5 116.2,458.5 116.7,458.5 117.2,458.5 117.7,458.5 118.2,458.5 118.7,458.5 119.2,458.5 119.7,458.5 120.2,458.5 120.7,458.5 121.2,458.5 121.7,458.5 122.2,458.5 122.7,458.5 123.2,458.5 123.7,458.5 124.2,458.5 124.7,458.5 125,458.5" stroke="#2e2e2e" stroke-width="0.7" fill="none"/>
<polyline points="16,458.5 26,458.5 26.3,457.49 26.6,456.7 26.9,456.08 27.2,455.6 27.5,455.24 27.8,454.97 28.1,454.75 28.4,454.55 28.7,454.41 29,454.29 29.3,454.23 29.6,454.17 29.9,454.11 30.2,454.05 30.7,454.05 31.2,453.99 31.7,454.02 32.2,453.98 32.7,453.91 33.2,453.91 33.7,453.92 34.2,453.92 34.7,453.95 35.2,453.93 35.7,453.95 36.2,453.96 36.7,453.96 37.2,453.95 37.7,453.9 38.2,453.88 38.7,453.85 39.2,453.8 39.7,453.83 40.2,453.78 40.7,453.77 41.2,453.79 41.7,453.78 42.2,453.84 42.7,453.89 43.2,453.9 43.7,453.96 44.2,453.97 44.7,454 45.2,454.01 45.7,454.01 46.2,454 46.7,453.99 47.2,453.94 47.7,453.92 48.2,453.93 48.7,453.95 49.2,453.93 49.7,453.93 50.2,453.89 50.7,453.92 51.2,453.95 51.7,453.94 52.2,453.93 52.7,453.91 53.2,453.91 53.7,453.92 54.2,453.92 54.7,453.95 55.2,453.91 55.7,453.93 56.2,453.94 56.7,453.9 57.2,453.89 57.7,453.9 58.2,453.88 58.7,453.89 59.2,453.88 59.7,453.86 60.2,453.89 60.7,453.92 61.2,453.92 61.7,453.92 62.2,453.9 62.7,453.89 63.2,453.93 63.7,453.93 64.2,453.91 64.7,453.88 65.2,453.87 65.7,453.91 66.2,453.92 66.7,453.91 67.2,453.92 67.7,453.9 68.2,453.92 68.7,453.93 69.2,453.92 69.7,453.9 70.2,453.88 70.7,453.87 71.2,453.89 71.7,453.87 72.2,453.88 72.7,453.85 73.2,453.87 73.7,453.85 74.2,453.86 74.7,453.85 75.2,453.88 75.7,453.87 76.2,453.9 76.7,453.91 77.2,453.92 77.7,453.92 78.2,453.92 78.7,453.92 79.2,453.94 79.7,453.94 80.2,453.95 80.7,453.97 81.2,453.96 81.7,454.01 82.2,453.96 82.7,453.92 83.2,453.9 83.7,453.89 84.2,453.87 84.7,453.84 85.2,453.84 85.7,453.85 86.2,453.85 86.7,453.84 87.2,453.84 87.7,453.84 88.2,453.86 88.7,453.84 89.2,453.84 89.7,453.86 90.2,453.9 90.7,453.87 91.2,453.91 91.7,453.9 92.2,453.87 92.7,453.89 93.2,453.89 93.7,453.87 94.2,453.89 94.7,453.88 95.2,453.88 95.7,453.93 96.2,453.89 96.7,453.89 97.2,453.9 97.7,453.91 98.2,453.89 98.7,453.87 99.2,453.87 99.7,453.9 100.2,453.87 100.7,453.87 101.2,453.89 101.7,453.87 102.2,453.91 102.7,453.93 103.2,453.89 103.7,453.89 104.2,453.86 104.7,453.83 105,453.83 105.3,454.92 105.6,455.71 105.9,456.33 106.2,456.81 106.5,457.18 106.8,457.47 107.1,457.7 107.4,457.88 107.7,458.02 108,458.12 108.3,458.21 108.6,458.27 108.9,458.32 109.2,458.36 109.7,458.41 110.2,458.44 110.7,458.46 111.2,458.47 111.7,458.48 112.2,458.49 112.7,458.49 113.2,458.5 113.7,458.5 114.2,458.5 114.7,458.5 115.2,458.5 115.7,458.5 116.2,458.5 116.7,458.5 117.2,458.5 117.7,458.5 118.2,458.5 118.7,458.5 119.2,458.5 119.7,458.5 120.2,458.5 120.7,458.5 121.2,458.5 121.7,458.5 122.2,458.5 122.7,458.5 123.2,458.5 123.7,458.5 124.2,458.5 124.7,458.5 125,458.5" stroke="#2e2e2e" stroke-width="0.7" fill="none"/>
<polyline points="16,458.5 26,458.5 26.3,457.79 26.6,457.24 26.9,456.81 27.2,456.49 27.5,456.22 27.8,456.01 28.1,455.83 28.4,455.73 28.7,455.61 29,455.5 29.3,455.44 29.6,455.42 29.9,455.4 30.2,455.37 30.7,455.34 31.2,455.34 31.7,455.33 32.2,455.32 32.7,455.3 33.2,455.31 33.7,455.29 34.2,455.3 34.7,455.27 35.2,455.27 35.7,455.25 36.2,455.28 36.7,455.25 37.2,455.25 37.7,455.24 38.2,455.23 38.7,455.28 39.2,455.28 39.7,455.28 40.2,455.27 40.7,455.32 41.2,455.31 41.7,455.33 42.2,455.32 42.7,455.32 43.2,455.34 43.7,455.34 44.2,455.29 44.7,455.27 45.2,455.26 45.7,455.26 46.2,455.25 46.7,455.23 47.2,455.26 47.7,455.27 48.2,455.28 48.7,455.28 49.2,455.26 49.7,455.3 50.2,455.33 50.7,455.3 51.2,455.31 51.7,455.33 52.2,455.3 52.7,455.3 53.2,455.3 53.7,455.26 54.2,455.29 54.7,455.29 55.2,455.27 55.7,455.33 56.2,455.31 56.7,455.27 57.2,455.29 57.7,455.26 58.2,455.24 58.7,455.24 59.2,455.21 59.7,455.21 60.2,455.2 60.7,455.17 61.2,455.17 61.7,455.16 62.2,455.16 62.7,455.16 63.2,455.17 63.7,455.21 64.2,455.22 64.7,455.23 65.2,455.24 65.7,455.28 66.2,455.25 66.7,455.29 67.2,455.25 67.7,455.28 68.2,455.29 68.7,455.31 69.2,455.31 69.7,455.32 70.2,455.27 70.7,455.31 71.2,455.29 71.7,455.31 72.2,455.29 72.7,455.27 73.2,455.27 73.7,455.29 74.2,455.27 74.7,455.27 75.2,455.24 75.7,455.24 76.2,455.25 76.7,455.24 77.2,455.27 77.7,455.28 78.2,455.26 78.7,455.25 79.2,455.26 79.7,455.25 80.2,455.29 80.7,455.27 81.2,455.26 81.7,455.3 82.2,455.31 82.7,455.34 83.2,455.36 83.7,455.38 84.2,455.42 84.7,455.41 85.2,455.4 85.7,455.42 86.2,455.37 86.7,455.38 87.2,455.36 87.7,455.35 88.2,455.37 88.7,455.33 89.2,455.34 89.7,455.34 90.2,455.29 90.7,455.29 91.2,455.25 91.7,455.25 92.2,455.29 92.7,455.24 93.2,455.27 93.7,455.26 94.2,455.25 94.7,455.28 95.2,455.29 95.7,455.25 96.2,455.26 96.7,455.28 97.2,455.29 97.7,455.29 98.2,455.27 98.7,455.27 99.2,455.32 99.7,455.35 100.2,455.31 100.7,455.32 101.2,455.33 101.7,455.32 102.2,455.33 102.7,455.35 103.2,455.35 103.7,455.39 104.2,455.38 104.7,455.4 105,455.41 105.3,456.01 105.6,456.56 105.9,456.99 106.2,457.32 106.5,457.58 106.8,457.79 107.1,457.94 107.4,458.07 107.7,458.16 108,458.24 108.3,458.3 108.6,458.34 108.9,458.38 109.2,458.4 109.7,458.44 110.2,458.46 110.7,458.47 111.2,458.48 111.7,458.49 112.2,458.49 112.7,458.49 113.2,458.5 113.7,458.5 114.2,458.5 114.7,458.5 115.2,458.5 115.7,458.5 116.2,458.5 116.7,458.5 117.2,458.5 117.7,458.5 118.2,458.5 118.7,458.5 119.2,458.5 119.7,458.5 120.2,458.5 120.7,458.5 121.2,458.5 121.7,458.5 122.2,458.5 122.7,458.5 123.2,458.5 123.7,458.5 124.2,458.5 124.7,458.5 125,458.5" stroke="#2e2e2e" stroke-width="0.7" fill="none"/>
<polyline points="16,458.5 26,458.5 26.3,458.15 26.6,457.88 26.9,457.66 27.2,457.51 27.5,457.37 27.8,457.29 28.1,457.19 28.4,457.11 28.7,457.04 29,457 29.3,456.96 29.6,456.98 29.9,456.96 30.2,456.97 30.7,456.99 31.2,457.01 31.7,457 32.2,456.98 32.7,456.99 33.2,456.97 33.7,456.94 34.2,456.9 34.7,456.89 35.2,456.91 35.7,456.93 36.2,456.92 36.7,456.95 37.2,456.99 37.7,457 38.2,456.98 38.7,456.97 39.2,456.95 39.7,456.92 40.2,456.9 40.7,456.9 41.2,456.89 41.7,456.9 42.2,456.91 42.7,456.9 43.2,456.9 43.7,456.89 44.2,456.86 44.7,456.91 45.2,456.93 45.7,456.9 46.2,456.94 46.7,456.97 47.2,456.95 47.7,456.99 48.2,456.94 48.7,456.89 49.2,456.89 49.7,456.84 50.2,456.83 50.7,456.84 51.2,456.84 51.7,456.86 52.2,456.9 52.7,456.93 53.2,456.96 53.7,456.95 54.2,456.94 54.7,456.91 55.2,456.91 55.7,456.9 56.2,456.88 56.7,456.86 57.2,456.89 57.7,456.93 58.2,456.91 58.7,456.91 59.2,456.87 59.7,456.84 60.2,456.83 60.7,456.81 61.2,456.8 61.7,456.84 62.2,456.87 62.7,456.93 63.2,456.96 63.7,456.99 64.2,456.96 64.7,456.93 65.2,456.91 65.7,456.89 66.2,456.84 66.7,456.84 67.2,456.82 67.7,456.85 68.2,456.85 68.7,456.84 69.2,456.85 69.7,456.9 70.2,456.9 70.7,456.88 71.2,456.89 71.7,456.92 72.2,456.97 72.7,456.98 73.2,456.93 73.7,456.95 74.2,456.98 74.7,456.96 75.2,456.96 75.7,456.95 76.2,456.96 76.7,456.97 77.2,456.96 77.7,456.94 78.2,456.94 78.7,456.93 79.2,456.92 79.7,456.88 80.2,456.9 80.7,456.92 81.2,456.93 81.7,456.97 82.2,456.96 82.7,456.98 83.2,456.96 83.7,456.96 84.2,456.94 84.7,456.95 85.2,456.95 85.7,456.95 86.2,456.92 86.7,456.96 87.2,456.96 87.7,456.97 88.2,456.99 88.7,456.93 89.2,456.91 89.7,456.93 90.2,456.9 90.7,456.91 91.2,456.87 91.7,456.85 92.2,456.9 92.7,456.9 93.2,456.87 93.7,456.88 94.2,456.87 94.7,456.9 95.2,456.9 95.7,456.87 96.2,456.89 96.7,456.93 97.2,456.96 97.7,456.98 98.2,456.96 98.7,456.95 99.2,456.96 99.7,456.94 100.2,456.93 100.7,456.9 101.2,456.87 101.7,456.9 102.2,456.93 102.7,456.91 103.2,456.9 103.7,456.88 104.2,456.93 104.7,456.91 105,456.91 105.3,457.25 105.6,457.53 105.9,457.74 106.2,457.91 106.5,458.04 106.8,458.14 107.1,458.22 107.4,458.28 107.7,458.33 108,458.37 108.3,458.4 108.6,458.42 108.9,458.44 109.2,458.45 109.7,458.47 110.2,458.48 110.7,458.49 111.2,458.49 111.7,458.49 112.2,458.5 112.7,458.5 113.2,458.5 113.7,458.5 114.2,458.5 114.7,458.5 115.2,458.5 115.7,458.5 116.2,458.5 116.7,458.5 117.2,458.5 117.7,458.5 118.2,458.5 118.7,458.5 119.2,458.5 119.7,458.5 120.2,458.5 120.7,458.5 121.2,458.5 121.7,458.5 122.2,458.5 122.7,458.5 123.2,458.5 123.7,458.5 124.2,458.5 124.7,458.5 125,458.5" stroke="#2e2e2e" stroke-width="0.7" fill="none"/>
<polyline points="16,458.5 26,458.5 26.3,458.68 26.6,458.81 26.9,458.91 27.2,458.99 27.5,459.07 27.8,459.1 28.1,459.12 28.4,459.14 28.7,459.16 29,459.2 29.3,459.2 29.6,459.17 29.9,459.21 30.2,459.27 30.7,459.26 31.2,459.28 31.7,459.25 32.2,459.27 32.7,459.27 33.2,459.28 33.7,459.27 34.2,459.29 34.7,459.3 35.2,459.34 35.7,459.32 36.2,459.33 36.7,459.3 37.2,459.28 37.7,459.27 38.2,459.25 38.7,459.23 39.2,459.24 39.7,459.27 40.2,459.29 40.7,459.3 41.2,459.28 41.7,459.32 42.2,459.36 42.7,459.37 43.2,459.35 43.7,459.37 44.2,459.35 44.7,459.35 45.2,459.3 45.7,459.27 46.2,459.29 46.7,459.26 47.2,459.24 47.7,459.28 48.2,459.3 48.7,459.31 49.2,459.33 49.7,459.34 50.2,459.36 50.7,459.34 51.2,459.31 51.7,459.33 52.2,459.36 52.7,459.35 53.2,459.32 53.7,459.33 54.2,459.34 54.7,459.32 55.2,459.31 55.7,459.31 56.2,459.32 56.7,459.36 57.2,459.36 57.7,459.4 58.2,459.38 58.7,459.41 59.2,459.39 59.7,459.39 60.2,459.36 60.7,459.39 61.2,459.33 61.7,459.37 62.2,459.37 62.7,459.35 63.2,459.35 63.7,459.34 64.2,459.32 64.7,459.35 65.2,459.32 65.7,459.28 66.2,459.31 66.7,459.3 67.2,459.3 67.7,459.31 68.2,459.3 68.7,459.29 69.2,459.31 69.7,459.29 70.2,459.3 70.7,459.36 71.2,459.33 71.7,459.34 72.2,459.33 72.7,459.31 73.2,459.3 73.7,459.28 74.2,459.25 74.7,459.27 75.2,459.28 75.7,459.29 76.2,459.31 76.7,459.29 77.2,459.31 77.7,459.32 78.2,459.3 78.7,459.3 79.2,459.29 79.7,459.28 80.2,459.3 80.7,459.27 81.2,459.3 81.7,459.3 82.2,459.28 82.7,459.27 83.2,459.26 83.7,459.25 84.2,459.27 84.7,459.27 85.2,459.25 85.7,459.28 86.2,459.31 86.7,459.33 87.2,459.34 87.7,459.3 88.2,459.25 88.7,459.27 89.2,459.27 89.7,459.26 90.2,459.29 90.7,459.31 91.2,459.32 91.7,459.32 92.2,459.31 92.7,459.31 93.2,459.3 93.7,459.25 94.2,459.23 94.7,459.21 95.2,459.25 95.7,459.26 96.2,459.23 96.7,459.25 97.2,459.26 97.7,459.24 98.2,459.25 98.7,459.25 99.2,459.24 99.7,459.27 100.2,459.26 100.7,459.3 101.2,459.33 101.7,459.35 102.2,459.33 102.7,459.34 103.2,459.3 103.7,459.34 104.2,459.33 104.7,459.33 105,459.33 105.3,459.11 105.6,458.96 105.9,458.84 106.2,458.75 106.5,458.68 106.8,458.63 107.1,458.59 107.4,458.56 107.7,458.53 108,458.52 108.3,458.5 108.6,458.49 108.9,458.48 109.2,458.48 109.7,458.47 110.2,458.47 110.7,458.47 111.2,458.47 111.7,458.47 112.2,458.47 112.7,458.47 113.2,458.48 113.7,458.48 114.2,458.48 114.7,458.48 115.2,458.48 115.7,458.48 116.2,458.49 116.7,458.49 117.2,458.49 117.7,458.49 118.2,458.49 118.7,458.49 119.2,458.49 119.7,458.49 120.2,458.49 120.7,458.49 121.2,458.49 121.7,458.49 122.2,458.49 122.7,458.49 123.2,458.5 123.7,458.5 124.2,458.5 124.7,458.5 125,458.5" stroke="#2e2e2e" stroke-width="0.7" fill="none"/>
<polyline points="16,458.5 26,458.5 26.3,459.06 26.6,459.49 26.9,459.83 27.2,460.1 27.5,460.29 27.8,460.47 28.1,460.59 28.4,460.65 28.7,460.7 29,460.77 29.3,460.79 29.6,460.87 29.9,460.91 30.2,460.94 30.7,461.01 31.2,461.05 31.7,461.06 32.2,461.07 32.7,461.07 33.2,461.08 33.7,461.06 34.2,461.04 34.7,461.01 35.2,460.99 35.7,461 36.2,461 36.7,460.94 37.2,460.99 37.7,460.99 38.2,460.97 38.7,461.01 39.2,461 39.7,460.96 40.2,460.96 40.7,460.93 41.2,460.92 41.7,460.93 42.2,460.89 42.7,460.91 43.2,460.92 43.7,460.93 44.2,460.94 44.7,460.98 45.2,461.01 45.7,461.02 46.2,461.04 46.7,461.06 47.2,461.08 47.7,461.07 48.2,461.05 48.7,461.01 49.2,461.04 49.7,461.02 50.2,460.98 50.7,461 51.2,461.03 51.7,461.01 52.2,461.04 52.7,461 53.2,461 53.7,461.04 54.2,461.01 54.7,460.98 55.2,461.02 55.7,460.99 56.2,461.01 56.7,461.01 57.2,461.02 57.7,461.01 58.2,461.02 58.7,460.98 59.2,460.99 59.7,460.95 60.2,460.94 60.7,460.91 61.2,460.91 61.7,460.91 62.2,460.92 62.7,460.94 63.2,460.98 63.7,460.98 64.2,460.96 64.7,461 65.2,460.98 65.7,461.03 66.2,461.01 66.7,460.99 67.2,461.04 67.7,461.04 68.2,461.06 68.7,461.08 69.2,461.04 69.7,461.05 70.2,461.08 70.7,461.03 71.2,461.06 71.7,461.05 72.2,461.04 72.7,461.07 73.2,461.04 73.7,461.04 74.2,461.04 74.7,461.04 75.2,461.03 75.7,461.01 76.2,461.01 76.7,461.03 77.2,461.02 77.7,461.01 78.2,461.02 78.7,461 79.2,461.03 79.7,461.02 80.2,461.04 80.7,461.02 81.2,461.05 81.7,460.99 82.2,461 82.7,460.95 83.2,460.98 83.7,460.97 84.2,460.98 84.7,461 85.2,461.06 85.7,461.09 86.2,461.09 86.7,461.08 87.2,461.08 87.7,461.09 88.2,461.03 88.7,461.03 89.2,461 89.7,461.03 90.2,461.04 90.7,461.01 91.2,460.97 91.7,461.03 92.2,460.99 92.7,460.97 93.2,460.94 93.7,460.95 94.2,460.98 94.7,460.99 95.2,460.94 95.7,460.98 96.2,461.02 96.7,461.05 97.2,460.99 97.7,460.97 98.2,461.02 98.7,461.01 99.2,460.98 99.7,460.94 100.2,460.97 100.7,460.97 101.2,461 101.7,460.99 102.2,461.04 102.7,461.01 103.2,461.05 103.7,461.02 104.2,461.05 104.7,461 105,460.98 105.3,460.4 105.6,459.93 105.9,459.56 106.2,459.28 106.5,459.07 106.8,458.9 107.1,458.78 107.4,458.68 107.7,458.6 108,458.55 108.3,458.51 108.6,458.47 108.9,458.45 109.2,458.44 109.7,458.42 110.2,458.41 110.7,458.41 111.2,458.41 111.7,458.41 112.2,458.42 112.7,458.42 113.2,458.43 113.7,458.43 114.2,458.44 114.7,458.44 115.2,458.45 115.7,458.45 116.2,458.45 116.7,458.46 117.2,458.46 117.7,458.46 118.2,458.47 118.7,458.47 119.2,458.47 119.7,458.47 120.2,458.48 120.7,458.48 121.2,458.48 121.7,458.48 122.2,458.48 122.7,458.48 123.2,458.49 123.7,458.49 124.2,458.49 124.7,458.49 125,458.49" stroke="#2e2e2e" stroke-width="0.7" fill="none"/>
<polyline points="16,458.5 26,458.5 26.3,459.53 26.6,460.32 26.9,460.93 27.2,461.42 27.5,461.78 27.8,462.05 28.1,462.29 28.4,462.46 28.7,462.62 29,462.7 29.3,462.75 29.6,462.83 29.9,462.88 30.2,462.92 30.7,462.98 31.2,462.97 31.7,462.99 32.2,463 32.7,463.02 33.2,463.05 33.7,463.04 34.2,463.04 34.7,463.03 35.2,463.02 35.7,463.07 36.2,463.07 36.7,463.02 37.2,463.02 37.7,463.03 38.2,463.06 38.7,463.08 39.2,463.05 39.7,463.01 40.2,463.04 40.7,463.08 41.2,463.09 41.7,463.04 42.2,463.05 42.7,463.08 43.2,463.11 43.7,463.09 44.2,463.04 44.7,462.99 45.2,463.03 45.7,463 46.2,462.99 46.7,462.98 47.2,462.98 47.7,463.03 48.2,463.08 48.7,463.07 49.2,463.07 49.7,463.06 50.2,463.04 50.7,463.03 51.2,463.03 51.7,463.02 52.2,462.99 52.7,463 53.2,462.98 53.7,462.99 54.2,462.99 54.7,462.96 55.2,462.97 55.7,462.97 56.2,463 56.7,463 57.2,463.02 57.7,463.06 58.2,463.05 58.7,463.04 59.2,463.04 59.7,463.02 60.2,463.03 60.7,463.01 61.2,462.98 61.7,462.96 62.2,462.93 62.7,462.96 63.2,462.94 63.7,462.92 64.2,462.92 64.7,462.95 65.2,462.98 65.7,462.99 66.2,462.99 66.7,463 67.2,463.03 67.7,463 68.2,462.96 68.7,462.96 69.2,463 69.7,462.97 70.2,462.96 70.7,462.92 71.2,462.93 71.7,462.93 72.2,462.93 72.7,462.92 73.2,462.94 73.7,462.95 74.2,462.97 74.7,463 75.2,463.04 75.7,463.04 76.2,463.05 76.7,463.04 77.2,463.07 77.7,463.08 78.2,463.07 78.7,463.04 79.2,463.03 79.7,462.98 80.2,463.02 80.7,462.98 81.2,463 81.7,462.98 82.2,462.99 82.7,462.99 83.2,462.99 83.7,462.96 84.2,462.97 84.7,462.97 85.2,462.94 85.7,462.95 86.2,462.96 86.7,462.96 87.2,462.95 87.7,462.92 88.2,462.94 88.7,462.97 89.2,462.95 89.7,462.94 90.2,462.95 90.7,462.95 91.2,462.96 91.7,462.96 92.2,462.97 92.7,463 93.2,463.04 93.7,463.06 94.2,463.05 94.7,463.03 95.2,462.99 95.7,462.96 96.2,462.95 96.7,462.94 97.2,462.94 97.7,462.96 98.2,462.97 98.7,463.02 99.2,463.05 99.7,463.04 100.2,462.99 100.7,463.02 101.2,463.01 101.7,463.04 102.2,462.99 102.7,462.98 103.2,462.99 103.7,463.04 104.2,462.99 104.7,462.99 105,462.95 105.3,461.91 105.6,461.07 105.9,460.42 106.2,459.91 106.5,459.52 106.8,459.22 107.1,459 107.4,458.82 107.7,458.69 108,458.59 108.3,458.51 108.6,458.45 108.9,458.41 109.2,458.38 109.7,458.35 110.2,458.34 110.7,458.33 111.2,458.34 111.7,458.34 112.2,458.35 112.7,458.36 113.2,458.37 113.7,458.38 114.2,458.39 114.7,458.39 115.2,458.4 115.7,458.41 116.2,458.42 116.7,458.42 117.2,458.43 117.7,458.44 118.2,458.44 118.7,458.45 119.2,458.45 119.7,458.45 120.2,458.46 120.7,458.46 121.2,458.46 121.7,458.47 122.2,458.47 122.7,458.47 123.2,458.47 123.7,458.48 124.2,458.48 124.7,458.48 125,458.48" stroke="#2e2e2e" stroke-width="0.7" fill="none"/>
<polyline points="16,458.5 26,458.5 26.3,460.19 26.6,461.51 26.9,462.54 27.2,463.33 27.5,463.95 27.8,464.45 28.1,464.83 28.4,465.14 28.7,465.39 29,465.55 29.3,465.73 29.6,465.84 29.9,465.87 30.2,465.89 30.7,465.91 31.2,465.96 31.7,465.97 32.2,465.96 32.7,465.97 33.2,465.97 33.7,466 34.2,466.04 34.7,466.03 35.2,466.06 35.7,466.05 36.2,466.02 36.7,466.06 37.2,466.05 37.7,466.02 38.2,465.99 38.7,465.94 39.2,465.97 39.7,465.98 40.2,465.98 40.7,465.96 41.2,465.95 41.7,465.96 42.2,465.99 42.7,465.99 43.2,465.98 43.7,465.97 44.2,465.97 44.7,466 45.2,466.02 45.7,466 46.2,465.97 46.7,465.96 47.2,465.97 47.7,466 48.2,465.96 48.7,465.92 49.2,465.89 49.7,465.93 50.2,465.91 50.7,465.91 51.2,465.89 51.7,465.9 52.2,465.93 52.7,465.94 53.2,465.92 53.7,465.92 54.2,465.92 54.7,465.9 55.2,465.87 55.7,465.88 56.2,465.89 56.7,465.91 57.2,465.94 57.7,465.94 58.2,465.94 58.7,465.93 59.2,465.9 59.7,465.91 60.2,465.87 60.7,465.86 61.2,465.85 61.7,465.86 62.2,465.89 62.7,465.93 63.2,465.92 63.7,465.94 64.2,465.94 64.7,465.91 65.2,465.95 65.7,465.97 66.2,465.96 66.7,465.93 67.2,465.95 67.7,465.95 68.2,465.98 68.7,465.94 69.2,465.95 69.7,465.95 70.2,465.96 70.7,465.95 71.2,465.97 71.7,465.95 72.2,465.99 72.7,465.93 73.2,465.95 73.7,465.96 74.2,465.96 74.7,465.96 75.2,465.94 75.7,465.9 76.2,465.94 76.7,465.94 77.2,465.92 77.7,465.95 78.2,465.93 78.7,465.93 79.2,465.92 79.7,465.88 80.2,465.86 80.7,465.86 81.2,465.81 81.7,465.8 82.2,465.8 82.7,465.85 83.2,465.9 83.7,465.9 84.2,465.9 84.7,465.91 85.2,465.92 85.7,465.93 86.2,465.94 86.7,465.94 87.2,465.95 87.7,465.98 88.2,465.96 88.7,465.93 89.2,465.93 89.7,465.88 90.2,465.85 90.7,465.86 91.2,465.86 91.7,465.92 92.2,465.92 92.7,465.92 93.2,465.91 93.7,465.9 94.2,465.84 94.7,465.83 95.2,465.78 95.7,465.81 96.2,465.83 96.7,465.87 97.2,465.87 97.7,465.91 98.2,465.92 98.7,465.95 99.2,465.94 99.7,465.93 100.2,465.91 100.7,465.89 101.2,465.88 101.7,465.87 102.2,465.84 102.7,465.86 103.2,465.89 103.7,465.92 104.2,465.97 104.7,465.97 105,465.95 105.3,464.11 105.6,462.72 105.9,461.65 106.2,460.82 106.5,460.18 106.8,459.69 107.1,459.31 107.4,459.03 107.7,458.81 108,458.64 108.3,458.52 108.6,458.43 108.9,458.36 109.2,458.31 109.7,458.26 110.2,458.24 110.7,458.23 111.2,458.23 111.7,458.24 112.2,458.25 112.7,458.27 113.2,458.28 113.7,458.3 114.2,458.31 114.7,458.33 115.2,458.34 115.7,458.35 116.2,458.36 116.7,458.37 117.2,458.38 117.7,458.39 118.2,458.4 118.7,458.41 119.2,458.42 119.7,458.42 120.2,458.43 120.7,458.44 121.2,458.44 121.7,458.45 122.2,458.45 122.7,458.45 123.2,458.46 123.7,458.46 124.2,458.46 124.7,458.47 125,458.47" stroke="#2e2e2e" stroke-width="0.7" fill="none"/>
<polyline points="16,458.5 26,458.5 26.3,460.77 26.6,462.52 26.9,463.9 27.2,464.96 27.5,465.79 27.8,466.44 28.1,466.96 28.4,467.38 28.7,467.71 29,467.91 29.3,468.06 29.6,468.23 29.9,468.33 30.2,468.39 30.7,468.47 31.2,468.52 31.7,468.56 32.2,468.6 32.7,468.56 33.2,468.57 33.7,468.53 34.2,468.5 34.7,468.5 35.2,468.47 35.7,468.47 36.2,468.47 36.7,468.43 37.2,468.44 37.7,468.44 38.2,468.42 38.7,468.41 39.2,468.35 39.7,468.36 40.2,468.35 40.7,468.33 41.2,468.34 41.7,468.36 42.2,468.41 42.7,468.41 43.2,468.36 43.7,468.4 44.2,468.42 44.7,468.38 45.2,468.33 45.7,468.3 46.2,468.3 46.7,468.33 47.2,468.34 47.7,468.31 48.2,468.29 48.7,468.33 49.2,468.31 49.7,468.31 50.2,468.3 50.7,468.29 51.2,468.3 51.7,468.31 52.2,468.3 52.7,468.3 53.2,468.31 53.7,468.32 54.2,468.28 54.7,468.31 55.2,468.3 55.7,468.27 56.2,468.3 56.7,468.3 57.2,468.32 57.7,468.3 58.2,468.3 58.7,468.33 59.2,468.34 59.7,468.31 60.2,468.32 60.7,468.31 61.2,468.33 61.7,468.31 62.2,468.31 62.7,468.33 63.2,468.34 63.7,468.32 64.2,468.3 64.7,468.3 65.2,468.33 65.7,468.35 66.2,468.34 66.7,468.34 67.2,468.34 67.7,468.35 68.2,468.36 68.7,468.32 69.2,468.3 69.7,468.33 70.2,468.33 70.7,468.38 71.2,468.36 71.7,468.36 72.2,468.4 72.7,468.37 73.2,468.33 73.7,468.36 74.2,468.31 74.7,468.3 75.2,468.29 75.7,468.28 76.2,468.31 76.7,468.34 77.2,468.32 77.7,468.32 78.2,468.3 78.7,468.28 79.2,468.26 79.7,468.22 80.2,468.2 80.7,468.19 81.2,468.2 81.7,468.25 82.2,468.28 82.7,468.31 83.2,468.33 83.7,468.33 84.2,468.33 84.7,468.33 85.2,468.33 85.7,468.3 86.2,468.26 86.7,468.26 87.2,468.27 87.7,468.27 88.2,468.26 88.7,468.23 89.2,468.26 89.7,468.3 90.2,468.29 90.7,468.28 91.2,468.27 91.7,468.3 92.2,468.31 92.7,468.3 93.2,468.31 93.7,468.36 94.2,468.37 94.7,468.39 95.2,468.4 95.7,468.38 96.2,468.36 96.7,468.35 97.2,468.33 97.7,468.32 98.2,468.29 98.7,468.26 99.2,468.31 99.7,468.34 100.2,468.29 100.7,468.27 101.2,468.25 101.7,468.24 102.2,468.28 102.7,468.28 103.2,468.3 103.7,468.3 104.2,468.3 104.7,468.29 105,468.33 105.3,465.93 105.6,464.09 105.9,462.67 106.2,461.58 106.5,460.73 106.8,460.08 107.1,459.58 107.4,459.2 107.7,458.91 108,458.69 108.3,458.52 108.6,458.4 108.9,458.31 109.2,458.25 109.7,458.18 110.2,458.15 110.7,458.14 111.2,458.14 111.7,458.16 112.2,458.17 112.7,458.19 113.2,458.21 113.7,458.23 114.2,458.25 114.7,458.27 115.2,458.29 115.7,458.3 116.2,458.32 116.7,458.33 117.2,458.35 117.7,458.36 118.2,458.37 118.7,458.38 119.2,458.39 119.7,458.4 120.2,458.41 120.7,458.41 121.2,458.42 121.7,458.43 122.2,458.43 122.7,458.44 123.2,458.44 123.7,458.45 124.2,458.45 124.7,458.46 125,458.46" stroke="#2e2e2e" stroke-width="0.7" fill="none"/>
<polyline points="16,458.5 26,458.5 26.3,461.47 26.6,463.77 26.9,465.56 27.2,466.95 27.5,468.04 27.8,468.9 28.1,469.52 28.4,470.01 28.7,470.38 29,470.67 29.3,470.86 29.6,471.03 29.9,471.16 30.2,471.3 30.7,471.38 31.2,471.44 31.7,471.49 32.2,471.5 32.7,471.46 33.2,471.45 33.7,471.41 34.2,471.45 34.7,471.45 35.2,471.45 35.7,471.46 36.2,471.48 36.7,471.45 37.2,471.41 37.7,471.4 38.2,471.4 38.7,471.36 39.2,471.31 39.7,471.27 40.2,471.28 40.7,471.27 41.2,471.2 41.7,471.18 42.2,471.16 42.7,471.16 43.2,471.16 43.7,471.13 44.2,471.11 44.7,471.12 45.2,471.1 45.7,471.11 46.2,471.11 46.7,471.11 47.2,471.11 47.7,471.1 48.2,471.14 48.7,471.16 49.2,471.17 49.7,471.14 50.2,471.13 50.7,471.16 51.2,471.18 51.7,471.14 52.2,471.14 52.7,471.16 53.2,471.17 53.7,471.18 54.2,471.16 54.7,471.13 55.2,471.14 55.7,471.12 56.2,471.11 56.7,471.14 57.2,471.14 57.7,471.13 58.2,471.12 58.7,471.1 59.2,471.11 59.7,471.13 60.2,471.14 60.7,471.11 61.2,471.13 61.7,471.13 62.2,471.15 62.7,471.11 63.2,471.11 63.7,471.1 64.2,471.15 64.7,471.13 65.2,471.17 65.7,471.17 66.2,471.19 66.7,471.18 67.2,471.14 67.7,471.11 68.2,471.09 68.7,471.08 69.2,471.08 69.7,471.05 70.2,471.02 70.7,471.05 71.2,471.06 71.7,471.09 72.2,471.09 72.7,471.13 73.2,471.13 73.7,471.15 74.2,471.12 74.7,471.09 75.2,471.07 75.7,471.02 76.2,471 76.7,471.04 77.2,471.05 77.7,471.04 78.2,471.04 78.7,471.07 79.2,471.09 79.7,471.07 80.2,471.02 80.7,471.02 81.2,471.05 81.7,471.04 82.2,471.05 82.7,471.03 83.2,471.07 83.7,471.1 84.2,471.08 84.7,471.1 85.2,471.12 85.7,471.1 86.2,471.12 86.7,471.13 87.2,471.16 87.7,471.19 88.2,471.16 88.7,471.18 89.2,471.2 89.7,471.22 90.2,471.23 90.7,471.22 91.2,471.18 91.7,471.18 92.2,471.17 92.7,471.14 93.2,471.13 93.7,471.08 94.2,471.08 94.7,471.1 95.2,471.09 95.7,471.1 96.2,471.14 96.7,471.15 97.2,471.2 97.7,471.2 98.2,471.19 98.7,471.2 99.2,471.19 99.7,471.2 100.2,471.17 100.7,471.13 101.2,471.08 101.7,471.09 102.2,471.09 102.7,471.07 103.2,471.02 103.7,471.03 104.2,471.01 104.7,471.02 105,471.01 105.3,468.05 105.6,465.69 105.9,463.86 106.2,462.45 106.5,461.37 106.8,460.53 107.1,459.89 107.4,459.4 107.7,459.02 108,458.74 108.3,458.53 108.6,458.37 108.9,458.26 109.2,458.18 109.7,458.09 110.2,458.05 110.7,458.04 111.2,458.04 111.7,458.06 112.2,458.08 112.7,458.1 113.2,458.13 113.7,458.16 114.2,458.18 114.7,458.2 115.2,458.23 115.7,458.25 116.2,458.27 116.7,458.29 117.2,458.3 117.7,458.32 118.2,458.33 118.7,458.35 119.2,458.36 119.7,458.37 120.2,458.38 120.7,458.39 121.2,458.4 121.7,458.41 122.2,458.41 122.7,458.42 123.2,458.43 123.7,458.43 124.2,458.44 124.7,458.44 125,458.45" stroke="#2e2e2e" stroke-width="0.7" fill="none"/>
<polyline points="16,458.5 26,458.5 26.3,461.94 26.6,464.61 26.9,466.68 27.2,468.28 27.5,469.52 27.8,470.46 28.1,471.21 28.4,471.74 28.7,472.18 29,472.46 29.3,472.69 29.6,472.88 29.9,473.03 30.2,473.17 30.7,473.28 31.2,473.35 31.7,473.4 32.2,473.41 32.7,473.37 33.2,473.37 33.7,473.35 34.2,473.35 34.7,473.34 35.2,473.34 35.7,473.37 36.2,473.36 36.7,473.29 37.2,473.28 37.7,473.24 38.2,473.19 38.7,473.13 39.2,473.09 39.7,473.07 40.2,473.08 40.7,473.04 41.2,473.02 41.7,473.04 42.2,473.05 42.7,473.02 43.2,473.03 43.7,473.05 44.2,473.06 44.7,473.11 45.2,473.06 45.7,473.04 46.2,473.04 46.7,472.99 47.2,472.97 47.7,472.97 48.2,472.91 48.7,472.93 49.2,472.96 49.7,472.98 50.2,472.98 50.7,472.94 51.2,472.9 51.7,472.92 52.2,472.94 52.7,472.88 53.2,472.84 53.7,472.87 54.2,472.86 54.7,472.87 55.2,472.84 55.7,472.83 56.2,472.84 56.7,472.88 57.2,472.83 57.7,472.88 58.2,472.85 58.7,472.85 59.2,472.8 59.7,472.78 60.2,472.75 60.7,472.79 61.2,472.75 61.7,472.78 62.2,472.78 62.7,472.81 63.2,472.83 63.7,472.81 64.2,472.79 64.7,472.79 65.2,472.77 65.7,472.81 66.2,472.82 66.7,472.8 67.2,472.8 67.7,472.76 68.2,472.75 68.7,472.77 69.2,472.78 69.7,472.79 70.2,472.84 70.7,472.84 71.2,472.88 71.7,472.91 72.2,472.9 72.7,472.9 73.2,472.88 73.7,472.83 74.2,472.84 74.7,472.8 75.2,472.79 75.7,472.8 76.2,472.79 76.7,472.75 77.2,472.74 77.7,472.79 78.2,472.8 78.7,472.78 79.2,472.79 79.7,472.74 80.2,472.79 80.7,472.85 81.2,472.82 81.7,472.84 82.2,472.83 82.7,472.81 83.2,472.84 83.7,472.84 84.2,472.82 84.7,472.79 85.2,472.76 85.7,472.8 86.2,472.77 86.7,472.74 87.2,472.71 87.7,472.72 88.2,472.75 88.7,472.76 89.2,472.78 89.7,472.81 90.2,472.82 90.7,472.84 91.2,472.84 91.7,472.83 92.2,472.83 92.7,472.81 93.2,472.83 93.7,472.86 94.2,472.83 94.7,472.82 95.2,472.81 95.7,472.82 96.2,472.83 96.7,472.77 97.2,472.76 97.7,472.77 98.2,472.77 98.7,472.8 99.2,472.8 99.7,472.79 100.2,472.81 100.7,472.79 101.2,472.81 101.7,472.8 102.2,472.76 102.7,472.78 103.2,472.77 103.7,472.78 104.2,472.78 104.7,472.8 105,472.82 105.3,469.34 105.6,466.66 105.9,464.59 106.2,462.99 106.5,461.75 106.8,460.8 107.1,460.07 107.4,459.52 107.7,459.09 108,458.77 108.3,458.53 108.6,458.36 108.9,458.23 109.2,458.13 109.7,458.03 110.2,457.99 110.7,457.97 111.2,457.98 111.7,458 112.2,458.02 112.7,458.05 113.2,458.08 113.7,458.11 114.2,458.14 114.7,458.16 115.2,458.19 115.7,458.21 116.2,458.24 116.7,458.26 117.2,458.28 117.7,458.29 118.2,458.31 118.7,458.33 119.2,458.34 119.7,458.35 120.2,458.36 120.7,458.37 121.2,458.38 121.7,458.39 122.2,458.4 122.7,458.41 123.2,458.42 123.7,458.42 124.2,458.43 124.7,458.44 125,458.44" stroke="#2e2e2e" stroke-width="0.7" fill="none"/>
<polyline points="16,458.5 26,458.5" stroke="#111" stroke-width="1.2" fill="none"/>
<polyline points="105.5,458.5 110,458.4 125,458.7" stroke="#333" stroke-width="0.9" fill="none"/>
<line x1="123.5" y1="435" x2="123.5" y2="445.6" stroke="#222" stroke-width="0.6"/>
<line x1="123.5" y1="445.6" x2="132.5" y2="445.6" stroke="#222" stroke-width="0.6"/>
<text x="104.4" y="443.3" font-size="6.4" fill="#111" stroke="#111" stroke-width="0.2" textLength="18" lengthAdjust="spacingAndGlyphs">20 mV</text>
<text x="121.3" y="452.3" font-size="6.8" fill="#111" stroke="#111" stroke-width="0.2" textLength="15" lengthAdjust="spacingAndGlyphs">0.1 s</text>
<line x1="136.9" y1="418.1" x2="230.8" y2="418.1" stroke="#8c8c8c" stroke-width="0.9"/>
<line x1="198.3" y1="385.3" x2="198.3" y2="480.4" stroke="#8c8c8c" stroke-width="0.9"/>
<line x1="136.7" y1="418.1" x2="136.7" y2="419.7" stroke="#8c8c8c" stroke-width="0.6"/>
<text x="129.8" y="425.5" font-size="7" fill="#111" stroke="#111" stroke-width="0.2" textLength="14.2" lengthAdjust="spacingAndGlyphs">−200</text>
<line x1="152.1" y1="418.1" x2="152.1" y2="419.7" stroke="#8c8c8c" stroke-width="0.6"/>
<text x="145.8" y="425.5" font-size="7" fill="#111" stroke="#111" stroke-width="0.2" textLength="14.2" lengthAdjust="spacingAndGlyphs">−150</text>
<line x1="167.5" y1="418.1" x2="167.5" y2="419.7" stroke="#8c8c8c" stroke-width="0.6"/>
<text x="162.6" y="425.5" font-size="7" fill="#111" stroke="#111" stroke-width="0.2" textLength="14.2" lengthAdjust="spacingAndGlyphs">−100</text>
<line x1="182.9" y1="418.1" x2="182.9" y2="419.7" stroke="#8c8c8c" stroke-width="0.6"/>
<text x="179.2" y="425.5" font-size="7" fill="#111" stroke="#111" stroke-width="0.2" textLength="10.2" lengthAdjust="spacingAndGlyphs">−50</text>
<line x1="213.7" y1="418.1" x2="213.7" y2="419.7" stroke="#8c8c8c" stroke-width="0.6"/>
<text x="210.2" y="425.5" font-size="7" fill="#111" stroke="#111" stroke-width="0.2" textLength="7.2" lengthAdjust="spacingAndGlyphs">50</text>
<line x1="229.1" y1="418.1" x2="229.1" y2="419.7" stroke="#8c8c8c" stroke-width="0.6"/>
<text x="224" y="425.5" font-size="7" fill="#111" stroke="#111" stroke-width="0.2" textLength="10.8" lengthAdjust="spacingAndGlyphs">100</text>
<line x1="196.7" y1="390.7" x2="198.3" y2="390.7" stroke="#8c8c8c" stroke-width="0.6"/>
<text x="196.4" y="393.2" font-size="7" fill="#111" stroke="#111" stroke-width="0.2" textLength="7.2" lengthAdjust="spacingAndGlyphs" text-anchor="end">20</text>
<line x1="196.7" y1="404.4" x2="198.3" y2="404.4" stroke="#8c8c8c" stroke-width="0.6"/>
<text x="196.4" y="406.9" font-size="7" fill="#111" stroke="#111" stroke-width="0.2" textLength="7.2" lengthAdjust="spacingAndGlyphs" text-anchor="end">10</text>
<line x1="196.7" y1="431.8" x2="198.3" y2="431.8" stroke="#8c8c8c" stroke-width="0.6"/>
<text x="196.4" y="434.3" font-size="7" fill="#111" stroke="#111" stroke-width="0.2" textLength="9.8" lengthAdjust="spacingAndGlyphs" text-anchor="end">−10</text>
<line x1="196.7" y1="445.5" x2="198.3" y2="445.5" stroke="#8c8c8c" stroke-width="0.6"/>
<text x="196.4" y="448" font-size="7" fill="#111" stroke="#111" stroke-width="0.2" textLength="9.8" lengthAdjust="spacingAndGlyphs" text-anchor="end">−20</text>
<line x1="196.7" y1="459.2" x2="198.3" y2="459.2" stroke="#8c8c8c" stroke-width="0.6"/>
<text x="196.4" y="461.7" font-size="7" fill="#111" stroke="#111" stroke-width="0.2" textLength="9.8" lengthAdjust="spacingAndGlyphs" text-anchor="end">−30</text>
<line x1="196.7" y1="472.9" x2="198.3" y2="472.9" stroke="#8c8c8c" stroke-width="0.6"/>
<text x="196.4" y="475.4" font-size="7" fill="#111" stroke="#111" stroke-width="0.2" textLength="9.8" lengthAdjust="spacingAndGlyphs" text-anchor="end">−40</text>
<text x="147.2" y="405" font-size="7.6" fill="#111" stroke="#111" stroke-width="0.22" textLength="36.6" lengthAdjust="spacingAndGlyphs">R<tspan font-size="4.2" dy="1.3" font-weight="bold">M</tspan><tspan dy="-1.3"> = 240 MΩ</tspan></text>
<text x="160.9" y="415.2" font-size="7" fill="#111" stroke="#111" stroke-width="0.2" textLength="18" lengthAdjust="spacingAndGlyphs">I (pA)</text>
<text x="202.9" y="445" font-size="7" fill="#111" stroke="#111" stroke-width="0.2" textLength="18.8" lengthAdjust="spacingAndGlyphs">V (mV)</text>
<circle cx="139.2" cy="471.2" r="1.35" stroke="#7c7c7c" stroke-width="0.75" fill="#cdcdcd"/>
<circle cx="142.79" cy="468.68" r="1.35" stroke="#7c7c7c" stroke-width="0.75" fill="#cdcdcd"/>
<circle cx="146.38" cy="466.17" r="1.35" stroke="#7c7c7c" stroke-width="0.75" fill="#cdcdcd"/>
<circle cx="149.97" cy="463.65" r="1.35" stroke="#7c7c7c" stroke-width="0.75" fill="#cdcdcd"/>
<circle cx="153.53" cy="461.09" r="1.35" stroke="#7c7c7c" stroke-width="0.75" fill="#cdcdcd"/>
<circle cx="156.93" cy="458.33" r="1.35" stroke="#7c7c7c" stroke-width="0.75" fill="#cdcdcd"/>
<circle cx="160.33" cy="455.56" r="1.35" stroke="#7c7c7c" stroke-width="0.75" fill="#cdcdcd"/>
<circle cx="163.74" cy="452.8" r="1.35" stroke="#7c7c7c" stroke-width="0.75" fill="#cdcdcd"/>
<circle cx="167.14" cy="450.04" r="1.35" stroke="#7c7c7c" stroke-width="0.75" fill="#cdcdcd"/>
<circle cx="170.3" cy="447" r="1.35" stroke="#7c7c7c" stroke-width="0.75" fill="#cdcdcd"/>
<circle cx="173.4" cy="443.9" r="1.35" stroke="#7c7c7c" stroke-width="0.75" fill="#cdcdcd"/>
<circle cx="176.5" cy="440.8" r="1.35" stroke="#7c7c7c" stroke-width="0.75" fill="#cdcdcd"/>
<circle cx="179.6" cy="437.7" r="1.35" stroke="#7c7c7c" stroke-width="0.75" fill="#cdcdcd"/>
<circle cx="182.7" cy="434.6" r="1.35" stroke="#7c7c7c" stroke-width="0.75" fill="#cdcdcd"/>
<circle cx="182.7" cy="434.6" r="1.35" stroke="#3c3c3c" stroke-width="0.8" fill="#cdcdcd"/>
<circle cx="184.26" cy="432.95" r="1.35" stroke="#3c3c3c" stroke-width="0.8" fill="#cdcdcd"/>
<circle cx="185.82" cy="431.3" r="1.35" stroke="#3c3c3c" stroke-width="0.8" fill="#cdcdcd"/>
<circle cx="187.38" cy="429.65" r="1.35" stroke="#3c3c3c" stroke-width="0.8" fill="#cdcdcd"/>
<circle cx="188.94" cy="428" r="1.35" stroke="#3c3c3c" stroke-width="0.8" fill="#cdcdcd"/>
<circle cx="190.5" cy="426.35" r="1.35" stroke="#3c3c3c" stroke-width="0.8" fill="#cdcdcd"/>
<circle cx="192.06" cy="424.7" r="1.35" stroke="#3c3c3c" stroke-width="0.8" fill="#cdcdcd"/>
<circle cx="193.62" cy="423.05" r="1.35" stroke="#3c3c3c" stroke-width="0.8" fill="#cdcdcd"/>
<circle cx="195.18" cy="421.4" r="1.35" stroke="#3c3c3c" stroke-width="0.8" fill="#cdcdcd"/>
<circle cx="196.74" cy="419.75" r="1.35" stroke="#3c3c3c" stroke-width="0.8" fill="#cdcdcd"/>
<circle cx="198.3" cy="418.1" r="1.35" stroke="#3c3c3c" stroke-width="0.8" fill="#cdcdcd"/>
<circle cx="198.3" cy="418.1" r="1.35" stroke="#4a4a4a" stroke-width="0.8" fill="#cdcdcd"/>
<circle cx="200.16" cy="416.2" r="1.35" stroke="#4a4a4a" stroke-width="0.8" fill="#cdcdcd"/>
<circle cx="202.01" cy="414.3" r="1.35" stroke="#4a4a4a" stroke-width="0.8" fill="#cdcdcd"/>
<circle cx="203.87" cy="412.4" r="1.35" stroke="#4a4a4a" stroke-width="0.8" fill="#cdcdcd"/>
<circle cx="205.73" cy="410.5" r="1.35" stroke="#4a4a4a" stroke-width="0.8" fill="#cdcdcd"/>
<circle cx="207.59" cy="408.6" r="1.35" stroke="#4a4a4a" stroke-width="0.8" fill="#cdcdcd"/>
<circle cx="209.44" cy="406.7" r="1.35" stroke="#4a4a4a" stroke-width="0.8" fill="#cdcdcd"/>
<circle cx="211.3" cy="404.8" r="1.35" stroke="#4a4a4a" stroke-width="0.8" fill="#cdcdcd"/>
<circle cx="214.72" cy="400.88" r="1.35" stroke="#7c7c7c" stroke-width="0.75" fill="#cdcdcd"/>
<circle cx="218.14" cy="396.97" r="1.35" stroke="#7c7c7c" stroke-width="0.75" fill="#cdcdcd"/>
<circle cx="221.57" cy="393.05" r="1.35" stroke="#7c7c7c" stroke-width="0.75" fill="#cdcdcd"/>
<circle cx="225.03" cy="389.18" r="1.35" stroke="#7c7c7c" stroke-width="0.75" fill="#cdcdcd"/>
<circle cx="228.5" cy="385.3" r="1.35" stroke="#7c7c7c" stroke-width="0.75" fill="#cdcdcd"/>
<text x="297" y="392.6" font-size="10" fill="#111" stroke="#111" stroke-width="0.1" textLength="30.5" lengthAdjust="spacingAndGlyphs">SS cell</text>
<line x1="267.6" y1="397" x2="267.6" y2="441" stroke="#b4b4b4" stroke-width="0.5"/>
<polyline points="258,456.5 267.6,456.5 267.9,451.99 268.2,448.79 268.5,446.51 268.8,444.87 269.1,443.66 269.4,442.85 269.7,442.27 270,441.77 270.3,441.36 270.6,441.17 270.9,440.99 271.2,440.86 271.5,440.72 271.8,440.62 272.6,440.63 273.4,440.67 274.2,440.66 275,440.55 275.8,440.64 276.6,440.66 277.4,440.62 278.2,440.49 279,440.47 279.8,440.33 280.6,440.42 281.4,440.43 282.2,440.55 283,440.62 283.8,440.61 284.6,440.68 285.4,440.76 286.2,440.8 287,440.78 287.8,440.64 288.6,440.63 289.4,440.65 290.2,440.67 291,440.67 291.8,440.66 292.6,440.66 293.4,440.7 294.2,440.7 295,440.78 295.8,440.7 296.6,440.65 297.4,440.57 298.2,440.61 299,440.6 299.8,440.51 300.6,440.48 301.4,440.51 302.2,440.47 303,440.45 303.8,440.49 304.6,440.5 305.4,440.6 306.2,440.57 307,440.47 307.8,440.54 308.6,440.64 309.4,440.61 310.2,440.57 311,440.56 311.8,440.61 312.6,440.68 313.4,440.71 314.2,440.65 315,440.55 315.8,440.66 316.6,440.57 317.4,440.52 318.2,440.58 319,440.56 319.8,440.56 320.6,440.65 321.4,440.61 322.2,440.65 323,440.69 323.8,440.56 324.6,440.52 325.4,440.44 326.2,440.49 327,440.56 327.8,440.6 328.6,440.54 329.4,440.68 330.2,440.66 331,440.79 331.8,440.73 332.6,440.68 333.4,440.7 334.2,440.72 335,440.71 335.8,440.76 336.6,440.75 337.4,440.78 338.2,440.72 339,440.67 339.8,440.68 340.6,440.56 341.4,440.61 342.2,440.6 343,440.54 343.8,440.59 344.6,440.67 345.4,440.62 346.2,440.67 347,440.64 347.8,440.61 348.6,440.61 349.4,440.56 350.2,440.46 351,440.56 351.8,440.55 352.6,440.59 353.4,440.65 354.2,440.73 355,440.74 355.8,440.78 356.3,440.69 356.6,445.11 356.9,448.34 357.2,450.65 357.5,452.31 357.8,453.5 358.1,454.35 358.4,454.96 358.7,455.4 359,455.71 359.3,455.93 359.6,456.09 359.9,456.21 360.2,456.29 360.5,456.35 361.3,456.44 362.1,456.47 362.9,456.49 363.7,456.5 364.5,456.5 365.3,456.5 366,456.5" stroke="#2e2e2e" stroke-width="0.7" fill="none"/>
<polyline points="258,456.5 267.6,456.5 267.9,452.53 268.2,449.69 268.5,447.63 268.8,446.2 269.1,445.15 269.4,444.37 269.7,443.87 270,443.45 270.3,443.14 270.6,443.06 270.9,442.95 271.2,442.97 271.5,442.96 271.8,442.91 272.6,442.89 273.4,442.87 274.2,442.83 275,442.79 275.8,442.77 276.6,442.64 277.4,442.58 278.2,442.54 279,442.55 279.8,442.55 280.6,442.49 281.4,442.54 282.2,442.52 283,442.48 283.8,442.48 284.6,442.35 285.4,442.38 286.2,442.39 287,442.29 287.8,442.42 288.6,442.5 289.4,442.55 290.2,442.61 291,442.53 291.8,442.63 292.6,442.61 293.4,442.55 294.2,442.54 295,442.46 295.8,442.42 296.6,442.42 297.4,442.4 298.2,442.42 299,442.35 299.8,442.42 300.6,442.42 301.4,442.54 302.2,442.47 303,442.44 303.8,442.39 304.6,442.43 305.4,442.34 306.2,442.44 307,442.37 307.8,442.43 308.6,442.39 309.4,442.45 310.2,442.46 311,442.54 311.8,442.45 312.6,442.4 313.4,442.42 314.2,442.41 315,442.45 315.8,442.41 316.6,442.36 317.4,442.39 318.2,442.52 319,442.48 319.8,442.49 320.6,442.43 321.4,442.51 322.2,442.44 323,442.49 323.8,442.41 324.6,442.48 325.4,442.45 326.2,442.48 327,442.48 327.8,442.55 328.6,442.55 329.4,442.55 330.2,442.45 331,442.42 331.8,442.37 332.6,442.31 333.4,442.22 334.2,442.22 335,442.21 335.8,442.34 336.6,442.36 337.4,442.38 338.2,442.38 339,442.37 339.8,442.37 340.6,442.41 341.4,442.31 342.2,442.4 343,442.47 343.8,442.51 344.6,442.59 345.4,442.58 346.2,442.56 347,442.53 347.8,442.46 348.6,442.51 349.4,442.5 350.2,442.5 351,442.41 351.8,442.46 352.6,442.59 353.4,442.59 354.2,442.5 355,442.52 355.8,442.46 356.3,442.48 356.6,446.47 356.9,449.31 357.2,451.35 357.5,452.81 357.8,453.86 358.1,454.61 358.4,455.14 358.7,455.53 359,455.8 359.3,456 359.6,456.14 359.9,456.24 360.2,456.32 360.5,456.37 361.3,456.45 362.1,456.48 362.9,456.49 363.7,456.5 364.5,456.5 365.3,456.5 366,456.5" stroke="#2e2e2e" stroke-width="0.7" fill="none"/>
<polyline points="258,456.5 267.6,456.5 267.9,453.07 268.2,450.61 268.5,448.82 268.8,447.57 269.1,446.63 269.4,446.03 269.7,445.51 270,445.13 270.3,444.87 270.6,444.8 270.9,444.64 271.2,444.57 271.5,444.38 271.8,444.31 272.6,444.33 273.4,444.33 274.2,444.21 275,444.25 275.8,444.29 276.6,444.35 277.4,444.43 278.2,444.38 279,444.38 279.8,444.37 280.6,444.44 281.4,444.38 282.2,444.37 283,444.33 283.8,444.29 284.6,444.36 285.4,444.49 286.2,444.41 287,444.41 287.8,444.45 288.6,444.43 289.4,444.41 290.2,444.37 291,444.26 291.8,444.29 292.6,444.2 293.4,444.11 294.2,444.1 295,444.21 295.8,444.19 296.6,444.32 297.4,444.34 298.2,444.42 299,444.42 299.8,444.55 300.6,444.52 301.4,444.56 302.2,444.41 303,444.44 303.8,444.43 304.6,444.46 305.4,444.37 306.2,444.3 307,444.26 307.8,444.29 308.6,444.26 309.4,444.21 310.2,444.29 311,444.33 311.8,444.43 312.6,444.49 313.4,444.51 314.2,444.5 315,444.54 315.8,444.57 316.6,444.61 317.4,444.62 318.2,444.56 319,444.55 319.8,444.59 320.6,444.68 321.4,444.69 322.2,444.61 323,444.62 323.8,444.63 324.6,444.73 325.4,444.71 326.2,444.63 327,444.54 327.8,444.61 328.6,444.58 329.4,444.56 330.2,444.57 331,444.44 331.8,444.37 332.6,444.38 333.4,444.26 334.2,444.3 335,444.22 335.8,444.22 336.6,444.25 337.4,444.27 338.2,444.32 339,444.42 339.8,444.35 340.6,444.43 341.4,444.38 342.2,444.49 343,444.56 343.8,444.52 344.6,444.49 345.4,444.49 346.2,444.5 347,444.43 347.8,444.39 348.6,444.46 349.4,444.49 350.2,444.51 351,444.5 351.8,444.4 352.6,444.39 353.4,444.37 354.2,444.36 355,444.38 355.8,444.32 356.3,444.38 356.6,447.83 356.9,450.29 357.2,452.05 357.5,453.31 357.8,454.21 358.1,454.86 358.4,455.33 358.7,455.66 359,455.9 359.3,456.07 359.6,456.19 359.9,456.28 360.2,456.34 360.5,456.39 361.3,456.45 362.1,456.48 362.9,456.49 363.7,456.5 364.5,456.5 365.3,456.5 366,456.5" stroke="#2e2e2e" stroke-width="0.7" fill="none"/>
<polyline points="258,456.5 267.6,456.5 267.9,453.75 268.2,451.78 268.5,450.38 268.8,449.37 269.1,448.65 269.4,448.12 269.7,447.73 270,447.48 270.3,447.33 270.6,447.12 270.9,447.08 271.2,447.07 271.5,446.89 271.8,446.87 272.6,446.83 273.4,446.83 274.2,446.9 275,446.96 275.8,446.95 276.6,446.97 277.4,446.91 278.2,446.97 279,446.98 279.8,446.89 280.6,446.81 281.4,446.76 282.2,446.81 283,446.92 283.8,446.9 284.6,446.88 285.4,447 286.2,446.98 287,447.03 287.8,447.02 288.6,446.95 289.4,446.95 290.2,446.93 291,446.84 291.8,446.93 292.6,446.85 293.4,446.84 294.2,446.9 295,446.98 295.8,446.93 296.6,447.06 297.4,446.93 298.2,447.06 299,447.04 299.8,446.91 300.6,446.87 301.4,446.83 302.2,446.8 303,446.8 303.8,446.66 304.6,446.69 305.4,446.69 306.2,446.65 307,446.68 307.8,446.67 308.6,446.75 309.4,446.89 310.2,446.97 311,446.99 311.8,447.06 312.6,447.15 313.4,447.12 314.2,447.13 315,447 315.8,446.91 316.6,446.92 317.4,446.8 318.2,446.75 319,446.71 319.8,446.75 320.6,446.82 321.4,446.9 322.2,446.88 323,446.99 323.8,446.97 324.6,447.02 325.4,446.94 326.2,446.96 327,446.89 327.8,446.99 328.6,446.95 329.4,446.89 330.2,446.83 331,446.92 331.8,446.8 332.6,446.84 333.4,446.81 334.2,446.83 335,446.87 335.8,446.89 336.6,446.85 337.4,446.97 338.2,446.88 339,446.87 339.8,446.8 340.6,446.84 341.4,446.8 342.2,446.76 343,446.67 343.8,446.81 344.6,446.79 345.4,446.89 346.2,446.91 347,446.91 347.8,446.97 348.6,446.93 349.4,446.94 350.2,446.98 351,446.86 351.8,446.82 352.6,446.86 353.4,446.88 354.2,446.92 355,446.92 355.8,446.92 356.3,446.91 356.6,449.62 356.9,451.57 357.2,452.97 357.5,453.97 357.8,454.69 358.1,455.2 358.4,455.57 358.7,455.83 359,456.02 359.3,456.16 359.6,456.25 359.9,456.32 360.2,456.37 360.5,456.41 361.3,456.46 362.1,456.48 362.9,456.49 363.7,456.5 364.5,456.5 365.3,456.5 366,456.5" stroke="#2e2e2e" stroke-width="0.7" fill="none"/>
<polyline points="258,456.5 267.6,456.5 267.9,454.67 268.2,453.38 268.5,452.42 268.8,451.72 269.1,451.26 269.4,450.87 269.7,450.61 270,450.36 270.3,450.16 270.6,450.19 270.9,450.06 271.2,449.98 271.5,450.04 271.8,450.09 272.6,450.08 273.4,450.18 274.2,450.1 275,450.16 275.8,450.19 276.6,450.14 277.4,450.11 278.2,450.09 279,449.94 279.8,449.92 280.6,449.86 281.4,449.84 282.2,449.79 283,449.84 283.8,449.93 284.6,449.96 285.4,450.04 286.2,450.07 287,450.02 287.8,449.99 288.6,449.97 289.4,449.99 290.2,450.05 291,450.05 291.8,450.06 292.6,449.99 293.4,450.03 294.2,450.02 295,449.98 295.8,449.9 296.6,449.83 297.4,449.85 298.2,449.83 299,449.79 299.8,449.74 300.6,449.67 301.4,449.79 302.2,449.78 303,449.82 303.8,449.95 304.6,449.99 305.4,450.01 306.2,450.15 307,450.11 307.8,450.15 308.6,450.19 309.4,450.1 310.2,450.2 311,450.16 311.8,450.07 312.6,450.02 313.4,450.06 314.2,450.05 315,450.12 315.8,449.99 316.6,450.1 317.4,450.15 318.2,450.19 319,450.22 319.8,450.09 320.6,450.08 321.4,450.17 322.2,450.14 323,450.13 323.8,450.06 324.6,450 325.4,450.02 326.2,450.03 327,449.96 327.8,449.91 328.6,449.89 329.4,449.97 330.2,450.04 331,450.04 331.8,449.99 332.6,449.95 333.4,449.9 334.2,449.95 335,450 335.8,449.88 336.6,449.89 337.4,449.99 338.2,450.1 339,450.25 339.8,450.27 340.6,450.17 341.4,450.16 342.2,450.14 343,450.08 343.8,449.94 344.6,449.82 345.4,449.73 346.2,449.79 347,449.81 347.8,449.79 348.6,449.76 349.4,449.77 350.2,449.75 351,449.69 351.8,449.71 352.6,449.83 353.4,449.81 354.2,449.89 355,450.02 355.8,450.1 356.3,450.14 356.6,451.84 356.9,453.16 357.2,454.11 357.5,454.79 357.8,455.27 358.1,455.62 358.4,455.87 358.7,456.05 359,456.18 359.3,456.27 359.6,456.33 359.9,456.38 360.2,456.41 360.5,456.44 361.3,456.47 362.1,456.49 362.9,456.5 363.7,456.5 364.5,456.5 365.3,456.5 366,456.5" stroke="#2e2e2e" stroke-width="0.7" fill="none"/>
<polyline points="258,456.5 267.6,456.5 267.9,455.54 268.2,454.84 268.5,454.32 268.8,453.95 269.1,453.7 269.4,453.52 269.7,453.38 270,453.28 270.3,453.26 270.6,453.3 270.9,453.26 271.2,453.17 271.5,453.15 271.8,453.25 272.6,453.23 273.4,453.26 274.2,453.27 275,453.21 275.8,453.17 276.6,453.11 277.4,453.02 278.2,453.02 279,452.94 279.8,452.99 280.6,453.09 281.4,453.11 282.2,453.17 283,453.27 283.8,453.21 284.6,453.27 285.4,453.26 286.2,453.2 287,453.29 287.8,453.3 288.6,453.2 289.4,453.2 290.2,453.23 291,453.14 291.8,453.14 292.6,453.07 293.4,453.06 294.2,453.15 295,453.28 295.8,453.27 296.6,453.23 297.4,453.23 298.2,453.16 299,453.07 299.8,452.98 300.6,452.86 301.4,452.81 302.2,452.8 303,452.85 303.8,452.92 304.6,452.92 305.4,452.98 306.2,453.01 307,452.93 307.8,453.05 308.6,453.07 309.4,453.14 310.2,453.15 311,453.08 311.8,453.14 312.6,453.16 313.4,453.18 314.2,453.17 315,453.11 315.8,453.07 316.6,453.07 317.4,453.03 318.2,453.17 319,453.03 319.8,453.02 320.6,452.94 321.4,453.1 322.2,453.17 323,453.24 323.8,453.2 324.6,453.2 325.4,453.15 326.2,453.14 327,453.07 327.8,452.96 328.6,452.86 329.4,452.76 330.2,452.89 331,452.98 331.8,453.02 332.6,453.09 333.4,453.1 334.2,453.09 335,453.12 335.8,453.11 336.6,452.99 337.4,453.07 338.2,453 339,453.11 339.8,453.14 340.6,453.09 341.4,452.97 342.2,453.07 343,453.03 343.8,453.06 344.6,452.96 345.4,452.95 346.2,452.98 347,453.11 347.8,453.1 348.6,453.04 349.4,453.04 350.2,453.01 351,453.04 351.8,453.05 352.6,453.04 353.4,453.04 354.2,453.13 355,453.04 355.8,453.04 356.3,453.07 356.6,454.06 356.9,454.75 357.2,455.25 357.5,455.6 357.8,455.86 358.1,456.04 358.4,456.17 358.7,456.26 359,456.33 359.3,456.38 359.6,456.41 359.9,456.44 360.2,456.46 360.5,456.47 361.3,456.49 362.1,456.49 362.9,456.5 363.7,456.5 364.5,456.5 365.3,456.5 366,456.5" stroke="#2e2e2e" stroke-width="0.7" fill="none"/>
<polyline points="258,456.5 267.6,456.5 267.9,456.08 268.2,455.79 268.5,455.59 268.8,455.42 269.1,455.26 269.4,455.2 269.7,455.16 270,455.12 270.3,455.1 270.6,455.09 270.9,455.12 271.2,455.21 271.5,455.13 271.8,455.22 272.6,455.16 273.4,455.15 274.2,455.05 275,454.97 275.8,454.97 276.6,455.06 277.4,455.01 278.2,454.96 279,454.94 279.8,455.03 280.6,455.12 281.4,455.16 282.2,455.05 283,455.07 283.8,455.03 284.6,455.05 285.4,455.01 286.2,454.92 287,454.84 287.8,454.94 288.6,454.95 289.4,454.96 290.2,454.94 291,454.99 291.8,454.99 292.6,455.07 293.4,455.11 294.2,455.03 295,455.05 295.8,454.99 296.6,454.9 297.4,454.95 298.2,454.91 299,454.91 299.8,454.95 300.6,455.07 301.4,455.12 302.2,455.19 303,455.12 303.8,455.07 304.6,454.92 305.4,454.85 306.2,454.83 307,454.78 307.8,454.72 308.6,454.81 309.4,454.82 310.2,454.83 311,454.82 311.8,454.8 312.6,454.85 313.4,454.81 314.2,454.81 315,454.78 315.8,454.94 316.6,454.93 317.4,454.85 318.2,454.79 319,454.87 319.8,454.95 320.6,455.02 321.4,454.87 322.2,454.95 323,454.98 323.8,455.13 324.6,455.15 325.4,455.09 326.2,455.01 327,455.06 327.8,455.06 328.6,455.06 329.4,455 330.2,454.89 331,454.86 331.8,454.98 332.6,454.98 333.4,454.97 334.2,455.04 335,455.08 335.8,455.18 336.6,455.18 337.4,455.13 338.2,455.1 339,455.12 339.8,455 340.6,454.89 341.4,454.8 342.2,454.8 343,454.8 343.8,454.77 344.6,454.81 345.4,454.83 346.2,454.95 347,455.08 347.8,455.12 348.6,455.14 349.4,455.29 350.2,455.22 351,455.35 351.8,455.19 352.6,455.17 353.4,455.17 354.2,455.16 355,455.03 355.8,454.97 356.3,454.92 356.6,455.43 356.9,455.73 357.2,455.95 357.5,456.1 357.8,456.22 358.1,456.3 358.4,456.35 358.7,456.4 359,456.43 359.3,456.45 359.6,456.46 359.9,456.47 360.2,456.48 360.5,456.49 361.3,456.49 362.1,456.5 362.9,456.5 363.7,456.5 364.5,456.5 365.3,456.5 366,456.5" stroke="#2e2e2e" stroke-width="0.7" fill="none"/>
<polyline points="258,456.5 267.6,456.5 267.9,457.13 268.2,457.58 268.5,457.9 268.8,458.13 269.1,458.35 269.4,458.49 269.7,458.62 270,458.74 270.3,458.89 270.6,458.97 270.9,458.99 271.2,458.88 271.5,458.86 271.8,458.89 272.6,458.87 273.4,458.87 274.2,458.89 275,458.91 275.8,458.97 276.6,458.86 277.4,458.86 278.2,458.74 279,458.62 279.8,458.68 280.6,458.63 281.4,458.56 282.2,458.61 283,458.54 283.8,458.63 284.6,458.64 285.4,458.51 286.2,458.56 287,458.69 287.8,458.62 288.6,458.72 289.4,458.72 290.2,458.76 291,458.8 291.8,458.69 292.6,458.6 293.4,458.68 294.2,458.62 295,458.69 295.8,458.66 296.6,458.73 297.4,458.87 298.2,458.94 299,458.93 299.8,458.96 300.6,458.94 301.4,458.9 302.2,458.8 303,458.67 303.8,458.62 304.6,458.61 305.4,458.68 306.2,458.7 307,458.75 307.8,458.79 308.6,458.81 309.4,458.85 310.2,458.86 311,458.73 311.8,458.72 312.6,458.66 313.4,458.61 314.2,458.67 315,458.71 315.8,458.65 316.6,458.67 317.4,458.65 318.2,458.7 319,458.82 319.8,458.75 320.6,458.62 321.4,458.65 322.2,458.75 323,458.63 323.8,458.69 324.6,458.68 325.4,458.84 326.2,458.93 327,458.89 327.8,458.83 328.6,458.85 329.4,458.76 330.2,458.65 331,458.61 331.8,458.57 332.6,458.59 333.4,458.55 334.2,458.53 335,458.66 335.8,458.75 336.6,458.7 337.4,458.77 338.2,458.91 339,458.89 339.8,458.92 340.6,458.8 341.4,458.78 342.2,458.8 343,458.73 343.8,458.7 344.6,458.75 345.4,458.76 346.2,458.84 347,458.89 347.8,458.8 348.6,458.79 349.4,458.69 350.2,458.73 351,458.75 351.8,458.77 352.6,458.73 353.4,458.88 354.2,458.89 355,458.97 355.8,459 356.3,459.07 356.6,458.11 356.9,457.66 357.2,457.33 357.5,457.09 357.8,456.92 358.1,456.8 358.4,456.72 358.7,456.66 359,456.61 359.3,456.58 359.6,456.56 359.9,456.54 360.2,456.53 360.5,456.52 361.3,456.51 362.1,456.5 362.9,456.5 363.7,456.5 364.5,456.5 365.3,456.5 366,456.5" stroke="#2e2e2e" stroke-width="0.7" fill="none"/>
<polyline points="258,456.5 267.6,456.5 267.9,457.85 268.2,458.82 268.5,459.51 268.8,459.98 269.1,460.36 269.4,460.61 269.7,460.73 270,460.95 270.3,461.05 270.6,461.14 270.9,461.31 271.2,461.37 271.5,461.29 271.8,461.4 272.6,461.34 273.4,461.27 274.2,461.29 275,461.25 275.8,461.2 276.6,461.22 277.4,461.08 278.2,461.12 279,461.19 279.8,461.24 280.6,461.22 281.4,461.28 282.2,461.23 283,461.24 283.8,461.14 284.6,461.11 285.4,461.08 286.2,461.06 287,461 287.8,461 288.6,460.98 289.4,461.14 290.2,461.19 291,461.12 291.8,461.19 292.6,461.19 293.4,461.28 294.2,461.41 295,461.36 295.8,461.36 296.6,461.47 297.4,461.51 298.2,461.44 299,461.49 299.8,461.4 300.6,461.45 301.4,461.43 302.2,461.47 303,461.45 303.8,461.49 304.6,461.44 305.4,461.52 306.2,461.38 307,461.33 307.8,461.27 308.6,461.26 309.4,461.26 310.2,461.27 311,461.26 311.8,461.31 312.6,461.34 313.4,461.39 314.2,461.34 315,461.37 315.8,461.35 316.6,461.36 317.4,461.34 318.2,461.28 319,461.2 319.8,461.24 320.6,461.18 321.4,461.26 322.2,461.21 323,461.28 323.8,461.3 324.6,461.24 325.4,461.2 326.2,461.27 327,461.12 327.8,461.2 328.6,461.18 329.4,461.18 330.2,461.18 331,461.16 331.8,461.12 332.6,461.22 333.4,461.08 334.2,461.07 335,461.03 335.8,461.12 336.6,461.2 337.4,461.23 338.2,461.24 339,461.32 339.8,461.25 340.6,461.31 341.4,461.3 342.2,461.31 343,461.38 343.8,461.31 344.6,461.35 345.4,461.38 346.2,461.38 347,461.3 347.8,461.31 348.6,461.23 349.4,461.24 350.2,461.19 351,461.21 351.8,461.14 352.6,461.25 353.4,461.22 354.2,461.16 355,461.13 355.8,461.2 356.3,461.18 356.6,459.9 356.9,458.94 357.2,458.25 357.5,457.75 357.8,457.4 358.1,457.14 358.4,456.96 358.7,456.83 359,456.74 359.3,456.67 359.6,456.62 359.9,456.59 360.2,456.56 360.5,456.54 361.3,456.52 362.1,456.51 362.9,456.5 363.7,456.5 364.5,456.5 365.3,456.5 366,456.5" stroke="#2e2e2e" stroke-width="0.7" fill="none"/>
<polyline points="258,456.5 267.6,456.5 267.9,458.41 268.2,459.78 268.5,460.79 268.8,461.51 269.1,461.96 269.4,462.3 269.7,462.54 270,462.79 270.3,462.91 270.6,462.94 270.9,462.88 271.2,463.04 271.5,463.14 271.8,463.26 272.6,463.23 273.4,463.16 274.2,463.25 275,463.4 275.8,463.34 276.6,463.21 277.4,463.27 278.2,463.28 279,463.29 279.8,463.21 280.6,463.16 281.4,463.26 282.2,463.3 283,463.27 283.8,463.27 284.6,463.26 285.4,463.34 286.2,463.38 287,463.34 287.8,463.38 288.6,463.37 289.4,463.45 290.2,463.54 291,463.49 291.8,463.39 292.6,463.27 293.4,463.24 294.2,463.16 295,463.01 295.8,463.01 296.6,462.97 297.4,463.06 298.2,463.06 299,463.03 299.8,463.1 300.6,463.21 301.4,463.16 302.2,463.19 303,463.05 303.8,463.18 304.6,463.25 305.4,463.2 306.2,463.18 307,463.2 307.8,463.2 308.6,463.26 309.4,463.2 310.2,463.2 311,463.24 311.8,463.2 312.6,463.2 313.4,463.18 314.2,463.21 315,463.19 315.8,463.22 316.6,463.25 317.4,463.33 318.2,463.26 319,463.26 319.8,463.22 320.6,463.25 321.4,463.11 322.2,463.05 323,463.07 323.8,463.02 324.6,463.11 325.4,463.13 326.2,463.19 327,463.31 327.8,463.33 328.6,463.31 329.4,463.36 330.2,463.24 331,463.28 331.8,463.26 332.6,463.26 333.4,463.18 334.2,463.14 335,463.15 335.8,463.19 336.6,463.13 337.4,463.06 338.2,463.11 339,463.17 339.8,463.25 340.6,463.32 341.4,463.29 342.2,463.33 343,463.32 343.8,463.26 344.6,463.25 345.4,463.21 346.2,463.11 347,463.19 347.8,463.12 348.6,463.19 349.4,463.17 350.2,463.18 351,463.23 351.8,463.22 352.6,463.11 353.4,463.2 354.2,463.16 355,463.18 355.8,463.21 356.3,463.2 356.6,461.23 356.9,459.89 357.2,458.93 357.5,458.24 357.8,457.75 358.1,457.39 358.4,457.14 358.7,456.96 359,456.83 359.3,456.74 359.6,456.67 359.9,456.62 360.2,456.59 360.5,456.56 361.3,456.53 362.1,456.51 362.9,456.5 363.7,456.5 364.5,456.5 365.3,456.5 366,456.5" stroke="#2e2e2e" stroke-width="0.7" fill="none"/>
<polyline points="258,456.5 267.6,456.5 267.9,459.34 268.2,461.36 268.5,462.78 268.8,463.81 269.1,464.52 269.4,465.04 269.7,465.48 270,465.74 270.3,465.95 270.6,466.18 270.9,466.25 271.2,466.27 271.5,466.41 271.8,466.41 272.6,466.49 273.4,466.5 274.2,466.47 275,466.55 275.8,466.54 276.6,466.55 277.4,466.55 278.2,466.52 279,466.55 279.8,466.6 280.6,466.54 281.4,466.53 282.2,466.47 283,466.43 283.8,466.45 284.6,466.44 285.4,466.31 286.2,466.34 287,466.39 287.8,466.32 288.6,466.26 289.4,466.17 290.2,466.08 291,466.14 291.8,466.15 292.6,466.13 293.4,466.13 294.2,466.18 295,466.27 295.8,466.28 296.6,466.3 297.4,466.17 298.2,466.14 299,466.19 299.8,466.24 300.6,466.16 301.4,466.11 302.2,466.1 303,466.09 303.8,466.23 304.6,466.25 305.4,466.15 306.2,466.2 307,466.2 307.8,466.1 308.6,466.15 309.4,466.14 310.2,466.17 311,466.27 311.8,466.3 312.6,466.39 313.4,466.46 314.2,466.51 315,466.44 315.8,466.36 316.6,466.37 317.4,466.31 318.2,466.28 319,466.31 319.8,466.36 320.6,466.34 321.4,466.34 322.2,466.27 323,466.25 323.8,466.24 324.6,466.26 325.4,466.13 326.2,466.16 327,466.13 327.8,466.16 328.6,466.25 329.4,466.21 330.2,466.16 331,466.16 331.8,466.19 332.6,466.25 333.4,466.19 334.2,466.1 335,466.13 335.8,466.11 336.6,466.22 337.4,466.26 338.2,466.28 339,466.31 339.8,466.34 340.6,466.33 341.4,466.35 342.2,466.36 343,466.23 343.8,466.16 344.6,466.13 345.4,466.19 346.2,466.21 347,466.21 347.8,466.07 348.6,466.17 349.4,466.18 350.2,466.28 351,466.26 351.8,466.34 352.6,466.3 353.4,466.33 354.2,466.32 355,466.24 355.8,466.26 356.3,466.26 356.6,463.49 356.9,461.51 357.2,460.09 357.5,459.07 357.8,458.34 358.1,457.82 358.4,457.45 358.7,457.18 359,456.99 359.3,456.85 359.6,456.75 359.9,456.68 360.2,456.63 360.5,456.59 361.3,456.54 362.1,456.52 362.9,456.51 363.7,456.5 364.5,456.5 365.3,456.5 366,456.5" stroke="#2e2e2e" stroke-width="0.7" fill="none"/>
<polyline points="258,456.5 267.6,456.5 267.9,460.11 268.2,462.69 268.5,464.58 268.8,465.9 269.1,466.89 269.4,467.57 269.7,468.01 270,468.31 270.3,468.54 270.6,468.62 270.9,468.65 271.2,468.6 271.5,468.68 271.8,468.76 272.6,468.86 273.4,468.84 274.2,468.8 275,468.88 275.8,468.88 276.6,468.86 277.4,468.76 278.2,468.7 279,468.68 279.8,468.69 280.6,468.67 281.4,468.65 282.2,468.74 283,468.87 283.8,468.89 284.6,468.83 285.4,468.95 286.2,468.88 287,468.95 287.8,468.95 288.6,468.88 289.4,468.96 290.2,468.97 291,468.92 291.8,469.05 292.6,469.09 293.4,469.1 294.2,469.08 295,469.02 295.8,469.13 296.6,469.07 297.4,468.96 298.2,468.81 299,468.7 299.8,468.65 300.6,468.71 301.4,468.62 302.2,468.61 303,468.73 303.8,468.83 304.6,468.87 305.4,468.86 306.2,468.76 307,468.76 307.8,468.85 308.6,468.76 309.4,468.8 310.2,468.78 311,468.76 311.8,468.85 312.6,468.81 313.4,468.78 314.2,468.81 315,468.7 315.8,468.79 316.6,468.85 317.4,468.86 318.2,468.94 319,468.96 319.8,469.02 320.6,469.03 321.4,469.01 322.2,469.06 323,469 323.8,468.91 324.6,468.87 325.4,468.84 326.2,468.81 327,468.71 327.8,468.6 328.6,468.58 329.4,468.59 330.2,468.62 331,468.56 331.8,468.69 332.6,468.8 333.4,468.86 334.2,468.8 335,468.85 335.8,468.81 336.6,468.88 337.4,468.86 338.2,468.8 339,468.73 339.8,468.81 340.6,468.85 341.4,468.86 342.2,468.85 343,468.83 343.8,468.88 344.6,469.01 345.4,468.92 346.2,468.97 347,468.97 347.8,468.85 348.6,468.75 349.4,468.75 350.2,468.66 351,468.8 351.8,468.69 352.6,468.66 353.4,468.72 354.2,468.85 355,468.8 355.8,468.89 356.3,468.86 356.6,465.28 356.9,462.79 357.2,461.01 357.5,459.73 357.8,458.81 358.1,458.16 358.4,457.69 358.7,457.35 359,457.11 359.3,456.94 359.6,456.81 359.9,456.72 360.2,456.66 360.5,456.62 361.3,456.55 362.1,456.52 362.9,456.51 363.7,456.5 364.5,456.5 365.3,456.5 366,456.5" stroke="#2e2e2e" stroke-width="0.7" fill="none"/>
<polyline points="258,456.5 267.6,456.5 267.9,460.88 268.2,464.04 268.5,466.3 268.8,467.96 269.1,469.14 269.4,469.96 269.7,470.64 270,471.09 270.3,471.37 270.6,471.51 270.9,471.55 271.2,471.63 271.5,471.68 271.8,471.62 272.6,471.6 273.4,471.51 274.2,471.56 275,471.5 275.8,471.48 276.6,471.43 277.4,471.53 278.2,471.45 279,471.51 279.8,471.52 280.6,471.52 281.4,471.48 282.2,471.52 283,471.45 283.8,471.45 284.6,471.41 285.4,471.42 286.2,471.48 287,471.4 287.8,471.35 288.6,471.38 289.4,471.35 290.2,471.34 291,471.28 291.8,471.23 292.6,471.19 293.4,471.14 294.2,471.12 295,471.18 295.8,471.14 296.6,471.12 297.4,471.05 298.2,471.06 299,471.17 299.8,471.15 300.6,471.1 301.4,471.1 302.2,471.03 303,471.07 303.8,471.14 304.6,471.12 305.4,471.07 306.2,471.18 307,471.28 307.8,471.36 308.6,471.31 309.4,471.24 310.2,471.23 311,471.16 311.8,471.17 312.6,471.01 313.4,470.92 314.2,471.07 315,471.12 315.8,471.09 316.6,471.17 317.4,471.04 318.2,471.08 319,471.13 319.8,471.09 320.6,471.15 321.4,471.17 322.2,471.1 323,471.15 323.8,471.24 324.6,471.21 325.4,471.14 326.2,471.12 327,471.16 327.8,471.14 328.6,471.17 329.4,471.1 330.2,471.15 331,471.23 331.8,471.15 332.6,471.08 333.4,471.13 334.2,471.14 335,471.18 335.8,471.16 336.6,471.04 337.4,471.15 338.2,471.17 339,471.21 339.8,471.21 340.6,471.25 341.4,471.22 342.2,471.3 343,471.31 343.8,471.24 344.6,471.29 345.4,471.22 346.2,471.22 347,471.28 347.8,471.32 348.6,471.34 349.4,471.42 350.2,471.33 351,471.36 351.8,471.3 352.6,471.33 353.4,471.24 354.2,471.24 355,471.15 355.8,471.17 356.3,471.12 356.6,466.97 356.9,464 357.2,461.87 357.5,460.35 357.8,459.26 358.1,458.48 358.4,457.92 358.7,457.51 359,457.23 359.3,457.02 359.6,456.87 359.9,456.77 360.2,456.69 360.5,456.64 361.3,456.56 362.1,456.52 362.9,456.51 363.7,456.5 364.5,456.5 365.3,456.5 366,456.5" stroke="#2e2e2e" stroke-width="0.7" fill="none"/>
<polyline points="258,456.5 267.6,456.5 267.9,461.75 268.2,465.5 268.5,468.17 268.8,470.1 269.1,471.47 269.4,472.43 269.7,473.07 270,473.64 270.3,473.92 270.6,474.17 270.9,474.38 271.2,474.44 271.5,474.45 271.8,474.59 272.6,474.55 273.4,474.6 274.2,474.52 275,474.38 275.8,474.32 276.6,474.35 277.4,474.25 278.2,474.19 279,474.02 279.8,473.97 280.6,474.04 281.4,474.13 282.2,474.07 283,474.01 283.8,474.04 284.6,474.13 285.4,474.1 286.2,473.99 287,473.93 287.8,473.9 288.6,473.88 289.4,473.92 290.2,473.86 291,473.81 291.8,473.79 292.6,473.78 293.4,473.76 294.2,473.74 295,473.7 295.8,473.66 296.6,473.66 297.4,473.74 298.2,473.64 299,473.74 299.8,473.68 300.6,473.67 301.4,473.69 302.2,473.72 303,473.66 303.8,473.79 304.6,473.68 305.4,473.67 306.2,473.6 307,473.65 307.8,473.67 308.6,473.69 309.4,473.6 310.2,473.59 311,473.69 311.8,473.75 312.6,473.75 313.4,473.67 314.2,473.6 315,473.64 315.8,473.73 316.6,473.69 317.4,473.72 318.2,473.59 319,473.66 319.8,473.66 320.6,473.65 321.4,473.55 322.2,473.5 323,473.41 323.8,473.51 324.6,473.52 325.4,473.61 326.2,473.56 327,473.52 327.8,473.62 328.6,473.62 329.4,473.61 330.2,473.57 331,473.5 331.8,473.43 332.6,473.45 333.4,473.44 334.2,473.47 335,473.5 335.8,473.55 336.6,473.56 337.4,473.72 338.2,473.68 339,473.62 339.8,473.63 340.6,473.5 341.4,473.51 342.2,473.44 343,473.37 343.8,473.42 344.6,473.41 345.4,473.4 346.2,473.44 347,473.32 347.8,473.41 348.6,473.41 349.4,473.38 350.2,473.48 351,473.42 351.8,473.41 352.6,473.42 353.4,473.37 354.2,473.35 355,473.49 355.8,473.34 356.3,473.42 356.6,468.69 356.9,465.23 357.2,462.76 357.5,460.98 357.8,459.71 358.1,458.8 358.4,458.15 358.7,457.68 359,457.35 359.3,457.11 359.6,456.93 359.9,456.81 360.2,456.72 360.5,456.66 361.3,456.57 362.1,456.53 362.9,456.51 363.7,456.5 364.5,456.5 365.3,456.5 366,456.5" stroke="#2e2e2e" stroke-width="0.7" fill="none"/>
<polyline points="258,456.5 267.6,456.5 267.9,463.06 268.2,467.74 268.5,471.1 268.8,473.44 269.1,475.12 269.4,476.23 269.7,477.08 270,477.63 270.3,478.11 270.6,478.31 270.9,478.59 271.2,478.69 271.5,478.79 271.8,478.83 272.6,478.95 273.4,478.85 274.2,478.84 275,478.69 275.8,478.6 276.6,478.48 277.4,478.43 278.2,478.3 279,478.21 279.8,478.05 280.6,478.01 281.4,477.92 282.2,477.88 283,477.85 283.8,477.8 284.6,477.75 285.4,477.78 286.2,477.72 287,477.64 287.8,477.7 288.6,477.63 289.4,477.57 290.2,477.49 291,477.39 291.8,477.24 292.6,477.29 293.4,477.23 294.2,477.14 295,477.08 295.8,477.11 296.6,477 297.4,477.03 298.2,476.89 299,476.83 299.8,476.76 300.6,476.76 301.4,476.76 302.2,476.8 303,476.73 303.8,476.67 304.6,476.69 305.4,476.69 306.2,476.64 307,476.48 307.8,476.41 308.6,476.38 309.4,476.51 310.2,476.37 311,476.33 311.8,476.32 312.6,476.4 313.4,476.41 314.2,476.5 315,476.45 315.8,476.59 316.6,476.54 317.4,476.5 318.2,476.42 319,476.42 319.8,476.34 320.6,476.23 321.4,476.2 322.2,476.22 323,476.28 323.8,476.39 324.6,476.47 325.4,476.43 326.2,476.52 327,476.52 327.8,476.58 328.6,476.55 329.4,476.48 330.2,476.48 331,476.56 331.8,476.51 332.6,476.45 333.4,476.42 334.2,476.35 335,476.39 335.8,476.38 336.6,476.4 337.4,476.34 338.2,476.32 339,476.37 339.8,476.36 340.6,476.33 341.4,476.3 342.2,476.28 343,476.33 343.8,476.26 344.6,476.25 345.4,476.25 346.2,476.27 347,476.24 347.8,476.27 348.6,476.23 349.4,476.39 350.2,476.39 351,476.51 351.8,476.44 352.6,476.47 353.4,476.41 354.2,476.5 355,476.46 355.8,476.4 356.3,476.41 356.6,470.7 356.9,466.68 357.2,463.79 357.5,461.73 357.8,460.24 358.1,459.18 358.4,458.42 358.7,457.88 359,457.49 359.3,457.21 359.6,457.01 359.9,456.86 360.2,456.76 360.5,456.69 361.3,456.58 362.1,456.53 362.9,456.51 363.7,456.51 364.5,456.5 365.3,456.5 366,456.5" stroke="#2e2e2e" stroke-width="0.7" fill="none"/>
<polyline points="257.5,456.5 267.6,456.5" stroke="#111" stroke-width="1.1" fill="none"/>
<polyline points="267.6,456.5 356.3,456.5" stroke="#1a1a1a" stroke-width="0.7" fill="none"/>
<rect x="359" y="454.4" width="7.3" height="3.8" fill="#2a2a2a"/>
<line x1="338.8" y1="418.8" x2="338.8" y2="429.5" stroke="#222" stroke-width="0.6"/>
<line x1="338.8" y1="429.5" x2="356.3" y2="429.5" stroke="#222" stroke-width="0.6"/>
<text x="317.5" y="425.3" font-size="6.4" fill="#111" stroke="#111" stroke-width="0.2" textLength="18.7" lengthAdjust="spacingAndGlyphs">20 mV</text>
<text x="344.5" y="436.6" font-size="6.8" fill="#111" stroke="#111" stroke-width="0.2" textLength="8" lengthAdjust="spacingAndGlyphs">1 s</text>
<line x1="364.8" y1="420" x2="461" y2="420" stroke="#8c8c8c" stroke-width="0.9"/>
<line x1="443.5" y1="386.1" x2="443.5" y2="480" stroke="#8c8c8c" stroke-width="0.9"/>
<line x1="374" y1="420" x2="374" y2="421.6" stroke="#8c8c8c" stroke-width="0.6"/>
<text x="364.4" y="427.4" font-size="7" fill="#111" stroke="#111" stroke-width="0.2" textLength="14.2" lengthAdjust="spacingAndGlyphs">−120</text>
<line x1="397.3" y1="420" x2="397.3" y2="421.6" stroke="#8c8c8c" stroke-width="0.6"/>
<text x="390.8" y="427.4" font-size="7" fill="#111" stroke="#111" stroke-width="0.2" textLength="10.2" lengthAdjust="spacingAndGlyphs">−80</text>
<line x1="420.7" y1="420" x2="420.7" y2="421.6" stroke="#8c8c8c" stroke-width="0.6"/>
<text x="413" y="427.4" font-size="7" fill="#111" stroke="#111" stroke-width="0.2" textLength="10.2" lengthAdjust="spacingAndGlyphs">−40</text>
<line x1="441.9" y1="400.5" x2="443.5" y2="400.5" stroke="#8c8c8c" stroke-width="0.6"/>
<text x="442" y="403" font-size="7" fill="#111" stroke="#111" stroke-width="0.2" textLength="7.2" lengthAdjust="spacingAndGlyphs" text-anchor="end">10</text>
<line x1="441.9" y1="440" x2="443.5" y2="440" stroke="#8c8c8c" stroke-width="0.6"/>
<text x="442" y="442.5" font-size="7" fill="#111" stroke="#111" stroke-width="0.2" textLength="9.8" lengthAdjust="spacingAndGlyphs" text-anchor="end">−10</text>
<line x1="441.9" y1="459.7" x2="443.5" y2="459.7" stroke="#8c8c8c" stroke-width="0.6"/>
<text x="442" y="462.2" font-size="7" fill="#111" stroke="#111" stroke-width="0.2" textLength="9.8" lengthAdjust="spacingAndGlyphs" text-anchor="end">−20</text>
<line x1="441.9" y1="479.4" x2="443.5" y2="479.4" stroke="#8c8c8c" stroke-width="0.6"/>
<text x="442" y="481.9" font-size="7" fill="#111" stroke="#111" stroke-width="0.2" textLength="9.8" lengthAdjust="spacingAndGlyphs" text-anchor="end">−30</text>
<text x="386.7" y="405.8" font-size="7.6" fill="#111" stroke="#111" stroke-width="0.22" textLength="36.4" lengthAdjust="spacingAndGlyphs">R<tspan font-size="4.2" dy="1.3" font-weight="bold">M</tspan><tspan dy="-1.3"> = 345 MΩ</tspan></text>
<text x="396.9" y="414.8" font-size="7" fill="#111" stroke="#111" stroke-width="0.2" textLength="16" lengthAdjust="spacingAndGlyphs">I (pA)</text>
<text x="447.3" y="448.1" font-size="7" fill="#111" stroke="#111" stroke-width="0.2" textLength="18.7" lengthAdjust="spacingAndGlyphs">V (mV)</text>
<circle cx="371.6" cy="478.6" r="1.35" stroke="#7c7c7c" stroke-width="0.75" fill="#cdcdcd"/>
<circle cx="377" cy="474.2" r="1.35" stroke="#7c7c7c" stroke-width="0.75" fill="#cdcdcd"/>
<circle cx="381.4" cy="472" r="1.35" stroke="#7c7c7c" stroke-width="0.75" fill="#cdcdcd"/>
<circle cx="385.8" cy="468.75" r="1.35" stroke="#7c7c7c" stroke-width="0.75" fill="#cdcdcd"/>
<circle cx="389" cy="467.7" r="1.35" stroke="#7c7c7c" stroke-width="0.75" fill="#cdcdcd"/>
<circle cx="393.4" cy="465.5" r="1.35" stroke="#7c7c7c" stroke-width="0.75" fill="#cdcdcd"/>
<circle cx="396.7" cy="463.3" r="1.35" stroke="#7c7c7c" stroke-width="0.75" fill="#cdcdcd"/>
<circle cx="400" cy="461.1" r="1.35" stroke="#7c7c7c" stroke-width="0.75" fill="#cdcdcd"/>
<circle cx="403.3" cy="459.6" r="1.35" stroke="#7c7c7c" stroke-width="0.75" fill="#cdcdcd"/>
<circle cx="406.6" cy="457.4" r="1.35" stroke="#7c7c7c" stroke-width="0.75" fill="#cdcdcd"/>
<circle cx="410.9" cy="453.4" r="1.35" stroke="#7c7c7c" stroke-width="0.75" fill="#cdcdcd"/>
<circle cx="417.5" cy="448" r="1.35" stroke="#7c7c7c" stroke-width="0.75" fill="#cdcdcd"/>
<circle cx="423" cy="443.6" r="1.35" stroke="#7c7c7c" stroke-width="0.75" fill="#cdcdcd"/>
<circle cx="425.2" cy="441.8" r="1.35" stroke="#7c7c7c" stroke-width="0.75" fill="#cdcdcd"/>
<circle cx="425.2" cy="441.8" r="1.35" stroke="#606060" stroke-width="0.75" fill="#cdcdcd"/>
<circle cx="426.85" cy="439.32" r="1.35" stroke="#606060" stroke-width="0.75" fill="#cdcdcd"/>
<circle cx="428.53" cy="436.87" r="1.35" stroke="#606060" stroke-width="0.75" fill="#cdcdcd"/>
<circle cx="430.63" cy="434.77" r="1.35" stroke="#606060" stroke-width="0.75" fill="#cdcdcd"/>
<circle cx="432.77" cy="432.69" r="1.35" stroke="#606060" stroke-width="0.75" fill="#cdcdcd"/>
<circle cx="434.89" cy="430.61" r="1.35" stroke="#606060" stroke-width="0.75" fill="#cdcdcd"/>
<circle cx="437" cy="428.5" r="1.35" stroke="#606060" stroke-width="0.75" fill="#cdcdcd"/>
<circle cx="438.58" cy="425.99" r="1.35" stroke="#606060" stroke-width="0.75" fill="#cdcdcd"/>
<circle cx="440.11" cy="423.44" r="1.35" stroke="#606060" stroke-width="0.75" fill="#cdcdcd"/>
<circle cx="442.07" cy="421.23" r="1.35" stroke="#606060" stroke-width="0.75" fill="#cdcdcd"/>
<circle cx="444.16" cy="419.1" r="1.35" stroke="#606060" stroke-width="0.75" fill="#cdcdcd"/>
<circle cx="446.24" cy="416.97" r="1.35" stroke="#606060" stroke-width="0.75" fill="#cdcdcd"/>
<circle cx="448.37" cy="414.9" r="1.35" stroke="#606060" stroke-width="0.75" fill="#cdcdcd"/>
<circle cx="450.49" cy="412.81" r="1.35" stroke="#606060" stroke-width="0.75" fill="#cdcdcd"/>
<circle cx="452.6" cy="410.7" r="1.35" stroke="#606060" stroke-width="0.75" fill="#cdcdcd"/>
<circle cx="454.7" cy="408.6" r="1.35" stroke="#606060" stroke-width="0.75" fill="#cdcdcd"/>
<line x1="428.4" y1="437.5" x2="452.5" y2="411.9" stroke="#666" stroke-width="0.8"/>
<circle cx="456.9" cy="403.1" r="1.35" stroke="#7c7c7c" stroke-width="0.75" fill="#cdcdcd"/>
<circle cx="459.1" cy="400.9" r="1.35" stroke="#7c7c7c" stroke-width="0.75" fill="#cdcdcd"/>
<circle cx="461.3" cy="396.6" r="1.35" stroke="#7c7c7c" stroke-width="0.75" fill="#cdcdcd"/>
</svg>
</body></html>
